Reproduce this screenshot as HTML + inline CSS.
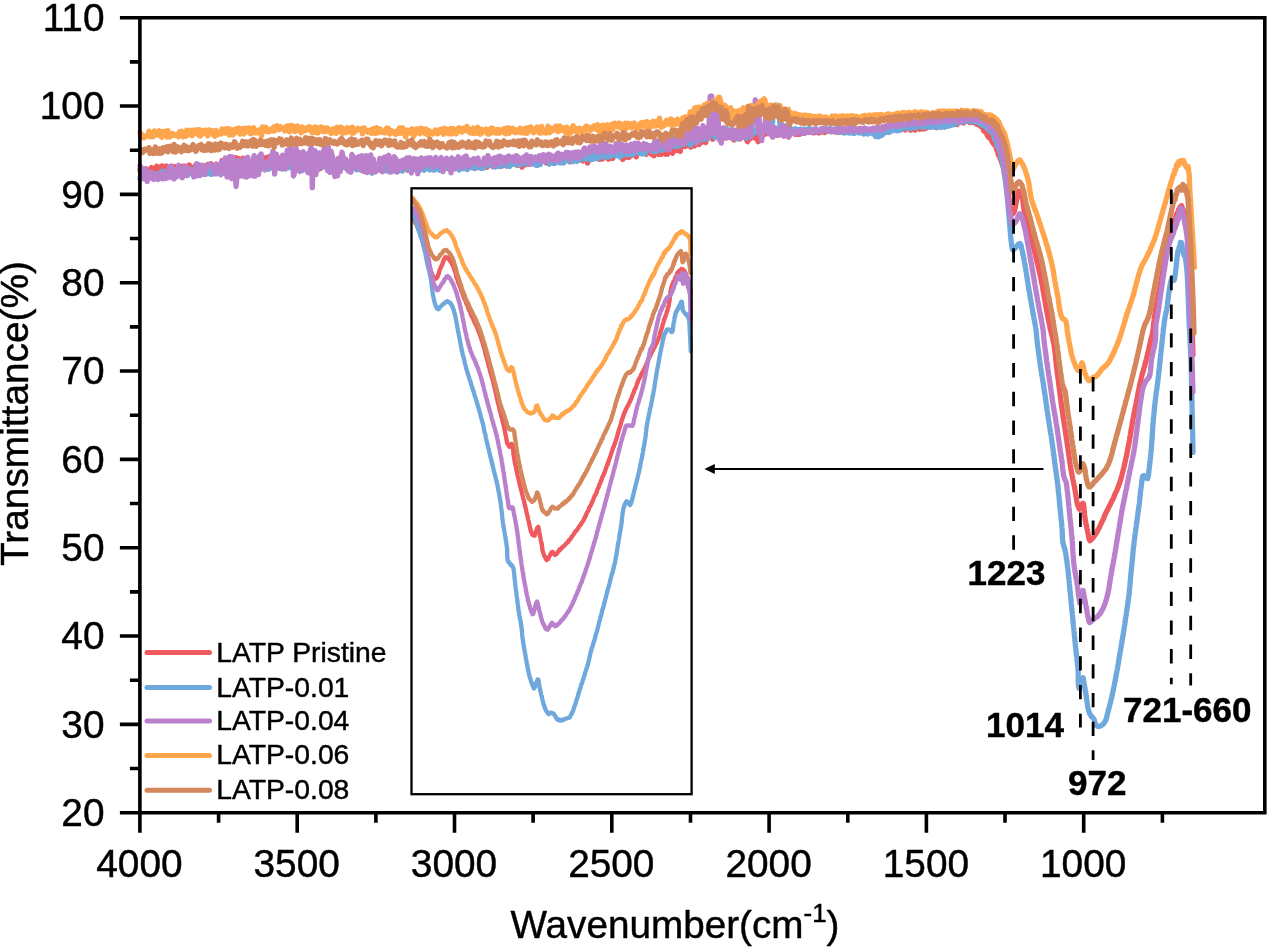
<!DOCTYPE html>
<html><head><meta charset="utf-8"><title>FTIR</title>
<style>html,body{margin:0;padding:0;background:#fff}svg{display:block}text{font-family:"Liberation Sans",Arial,sans-serif;fill:#000;stroke:#000;stroke-width:0.45px;stroke-linejoin:round}</style></head><body>
<svg width="1267" height="947" viewBox="0 0 1267 947">
<rect width="1267" height="947" fill="#fff"/>
<g fill="none" stroke-width="5.3" stroke-linejoin="round" stroke-linecap="round">
<path stroke="#ee5a5e" d="M140.0,169.9 140.9,174.9 141.8,172.2 142.7,174.1 143.5,175.8 144.4,172.4 145.3,172.0 146.2,168.6 147.1,169.9 148.0,171.4 148.8,173.6 149.7,173.3 150.6,170.0 151.5,167.5 152.4,169.0 153.3,173.4 154.1,168.1 155.0,169.6 155.9,173.0 156.8,166.1 157.7,170.2 158.6,172.6 159.4,167.1 160.3,169.3 161.2,171.8 162.1,165.9 163.0,168.6 163.9,170.1 164.7,169.3 165.6,167.8 166.5,165.9 167.4,168.0 168.3,167.2 169.2,168.0 170.1,167.2 171.0,172.7 172.0,170.2 172.9,166.8 173.8,168.8 174.7,166.6 175.6,168.0 176.5,167.2 177.4,169.5 178.3,167.4 179.2,168.1 180.1,170.1 181.0,167.8 181.9,171.5 182.8,166.1 183.7,170.3 184.6,168.0 185.5,168.0 186.4,169.6 187.3,168.8 188.2,168.0 189.1,165.0 190.0,165.7 190.9,170.3 191.8,168.9 192.7,170.2 193.6,172.2 194.5,170.2 195.4,165.6 196.3,167.5 197.2,169.6 198.1,167.0 199.0,172.4 199.9,172.3 200.8,171.4 201.6,168.3 202.5,171.0 203.4,165.5 204.3,166.6 205.2,167.5 206.0,169.4 206.9,167.3 207.8,164.5 208.7,165.9 209.5,165.5 210.4,165.1 211.3,163.9 212.2,165.6 213.1,165.6 213.9,167.8 214.8,167.8 215.7,165.6 216.6,164.9 217.5,167.1 218.3,167.7 219.2,165.9 220.1,166.6 221.0,167.5 221.9,160.6 222.7,166.6 223.6,162.0 224.5,163.2 225.4,165.4 226.2,164.6 227.1,160.2 228.0,163.8 228.9,159.2 229.8,161.1 230.6,164.3 231.5,161.3 232.4,162.3 233.3,163.1 234.2,163.6 235.0,162.9 235.9,157.6 236.8,160.9 237.6,161.4 238.5,158.6 239.4,162.7 240.3,163.2 241.1,165.1 242.0,166.1 242.9,158.1 243.7,161.3 244.6,164.7 245.5,161.1 246.4,162.0 247.2,164.8 248.1,162.0 249.0,166.8 249.8,167.6 250.7,161.4 251.6,164.8 252.5,166.6 253.3,167.7 254.2,162.3 255.1,161.3 256.0,168.5 256.8,166.3 257.7,160.8 258.6,162.4 259.5,164.3 260.3,165.0 261.2,159.7 262.1,163.2 263.0,164.0 263.8,161.9 264.7,158.8 265.6,157.7 266.5,159.3 267.3,162.9 268.2,157.1 269.1,156.6 269.9,159.0 270.8,156.8 271.7,157.5 272.6,156.6 273.6,160.3 274.5,161.6 275.4,159.6 276.3,157.5 277.2,159.0 278.1,160.9 279.0,163.6 279.9,164.0 280.8,158.4 281.7,156.8 282.6,162.9 283.5,163.6 284.4,160.2 285.3,162.5 286.2,163.2 287.1,161.4 288.0,163.4 288.9,157.1 289.8,159.0 290.7,159.0 291.6,157.9 292.5,166.2 293.4,157.3 294.3,162.1 295.2,157.7 296.1,159.8 297.0,159.8 297.9,158.6 298.8,161.1 299.7,161.2 300.6,159.7 301.5,162.9 302.4,158.7 303.3,159.0 304.2,160.3 305.1,160.5 306.0,159.3 306.9,164.6 307.8,164.0 308.7,158.8 309.6,160.8 310.5,159.9 311.4,161.5 312.3,160.3 313.2,162.1 314.1,165.3 315.0,161.3 315.8,163.4 316.7,163.0 317.6,164.3 318.5,159.2 319.4,164.4 320.3,168.6 321.2,163.5 322.1,161.2 323.0,164.1 323.9,164.5 324.8,164.1 325.7,160.4 326.6,166.6 327.5,166.6 328.4,162.7 329.3,164.0 330.2,160.0 331.1,167.1 332.0,165.9 332.9,164.6 333.8,165.6 334.7,161.5 335.6,162.4 336.5,162.0 337.4,164.7 338.3,158.6 339.2,167.1 340.1,163.9 341.0,163.9 341.9,161.4 342.8,165.8 343.7,166.8 344.6,165.5 345.5,162.7 346.4,166.8 347.3,162.2 348.2,167.3 349.1,165.5 350.0,163.4 350.9,165.1 351.8,166.0 352.7,163.3 353.6,167.7 354.5,164.6 355.4,168.1 356.3,167.7 357.2,162.3 358.1,166.4 359.0,164.0 359.9,167.3 360.8,165.7 361.7,165.2 362.6,170.8 363.5,162.3 364.4,166.0 365.3,164.3 366.2,162.2 367.1,167.6 368.0,166.2 368.9,168.7 369.8,166.5 370.7,164.6 371.6,169.5 372.5,163.1 373.4,162.6 374.3,167.7 375.2,165.1 376.1,165.0 377.0,168.9 377.9,164.8 378.8,169.0 379.7,167.3 380.6,165.0 381.5,163.0 382.4,164.4 383.3,169.8 384.2,165.7 385.1,163.9 386.0,164.9 386.9,169.4 387.8,164.0 388.7,168.6 389.6,163.9 390.5,170.0 391.4,166.9 392.3,163.3 393.2,169.9 394.1,165.7 395.0,168.5 395.9,167.0 396.8,163.9 397.7,164.0 398.6,164.3 399.5,164.5 400.4,163.7 401.3,163.6 402.2,170.3 403.1,163.9 404.0,167.0 404.9,164.1 405.8,164.8 406.7,168.8 407.6,170.1 408.5,166.6 409.4,163.2 410.3,170.5 411.2,163.4 412.1,165.9 413.0,167.0 413.9,169.6 414.8,169.1 415.7,167.5 416.6,165.9 417.5,169.1 418.5,169.4 419.4,169.4 420.3,168.2 421.2,163.6 422.1,165.1 423.0,166.4 423.9,166.6 424.8,169.0 425.7,164.5 426.6,167.7 427.5,165.5 428.4,168.5 429.3,164.2 430.2,166.2 431.1,163.4 432.0,164.2 432.9,169.6 433.8,165.0 434.7,169.2 435.6,166.5 436.5,162.9 437.4,168.4 438.3,162.9 439.2,168.6 440.1,162.6 441.0,168.5 441.9,163.7 442.8,165.0 443.7,169.5 444.6,166.0 445.5,168.2 446.4,167.9 447.3,160.9 448.2,168.5 449.1,169.1 450.0,163.5 450.9,166.3 451.8,164.3 452.7,167.6 453.6,162.3 454.5,165.8 455.4,167.8 456.3,167.4 457.2,162.7 458.1,168.0 459.0,163.5 459.9,167.7 460.8,165.3 461.7,162.8 462.6,167.0 463.5,167.5 464.4,166.6 465.3,168.5 466.2,161.8 467.1,163.0 468.0,162.3 468.9,165.2 469.8,164.1 470.7,163.7 471.6,164.4 472.5,163.0 473.4,160.9 474.3,164.3 475.2,162.8 476.1,164.1 477.0,167.6 477.9,162.0 478.8,165.3 479.7,165.3 480.6,162.5 481.5,163.9 482.4,167.5 483.3,162.8 484.2,165.5 485.1,166.4 486.0,162.8 486.9,167.4 487.8,165.4 488.7,163.7 489.6,165.2 490.5,163.0 491.4,165.1 492.3,161.8 493.2,166.6 494.1,163.7 495.0,161.4 495.9,162.8 496.8,166.1 497.7,165.4 498.6,163.0 499.5,161.9 500.4,162.1 501.3,166.5 502.2,160.0 503.1,165.7 504.0,165.4 504.9,160.7 505.8,161.5 506.7,163.1 507.6,164.8 508.5,165.8 509.4,166.1 510.3,160.8 511.2,158.2 512.1,162.2 513.0,162.6 513.9,163.3 514.8,159.2 515.7,163.1 516.6,165.1 517.5,165.0 518.4,165.2 519.3,165.0 520.2,165.2 521.1,158.4 522.0,167.2 522.9,159.9 523.8,160.2 524.7,161.2 525.6,164.8 526.5,162.2 527.4,160.3 528.3,160.4 529.2,164.2 530.1,163.6 531.0,158.5 531.9,159.2 532.8,160.1 533.7,158.9 534.6,161.8 535.5,158.8 536.4,161.4 537.3,164.0 538.2,163.3 539.1,157.7 540.0,158.4 540.9,159.9 541.8,161.6 542.7,159.6 543.6,158.5 544.5,159.2 545.4,158.1 546.3,162.9 547.2,161.6 548.1,159.5 549.0,161.5 549.9,160.2 550.8,160.1 551.7,158.9 552.6,159.6 553.5,163.3 554.4,161.8 555.3,162.0 556.2,156.7 557.1,159.5 557.9,158.4 558.8,156.3 559.7,158.4 560.6,156.0 561.5,157.1 562.4,161.2 563.3,160.3 564.2,160.3 565.1,155.7 566.0,156.2 566.9,155.1 567.8,155.6 568.7,155.6 569.6,161.8 570.5,161.3 571.4,156.1 572.3,156.4 573.2,161.6 574.1,158.6 575.0,157.0 575.9,157.7 576.8,156.2 577.7,158.4 578.6,159.4 579.5,157.8 580.4,159.9 581.3,154.6 582.2,158.2 583.1,161.0 584.0,154.7 584.9,157.2 585.8,158.1 586.7,155.9 587.6,163.2 588.5,156.8 589.4,156.7 590.3,159.8 591.2,153.1 592.1,159.4 593.0,153.8 593.9,155.6 594.8,156.3 595.7,156.2 596.6,152.9 597.5,154.8 598.4,155.1 599.3,159.4 600.2,159.1 601.1,156.6 602.0,159.1 602.9,158.5 603.8,154.9 604.7,152.9 605.6,156.5 606.5,154.3 607.4,151.9 608.3,159.1 609.2,158.9 610.1,155.7 611.0,156.2 611.9,156.5 612.8,158.4 613.7,154.9 614.6,155.7 615.5,153.0 616.4,153.1 617.3,155.1 618.2,152.9 619.1,151.4 620.0,153.8 620.9,156.6 621.8,153.0 622.7,159.5 623.6,156.1 624.5,155.7 625.4,157.4 626.3,151.3 627.2,152.0 628.1,157.3 629.0,157.3 629.9,151.1 630.8,156.2 631.7,150.5 632.6,151.3 633.5,151.1 634.4,152.4 635.3,153.1 636.2,156.9 637.1,153.3 638.0,150.9 638.9,152.0 639.8,150.0 640.7,150.1 641.6,153.0 642.5,153.5 643.4,151.5 644.3,152.5 645.2,150.4 646.1,154.4 647.0,152.4 647.9,150.6 648.8,153.1 649.7,150.9 650.6,151.4 651.4,150.0 652.3,154.7 653.2,150.9 654.1,155.8 655.0,151.5 655.9,149.6 656.8,153.5 657.7,153.6 658.6,154.5 659.5,148.9 660.4,153.6 661.3,154.2 662.2,150.1 663.1,151.2 664.0,152.4 664.9,149.6 665.8,154.2 666.7,153.0 667.6,154.1 668.5,151.0 669.3,151.2 670.1,148.5 671.0,149.1 671.8,151.8 672.7,153.2 673.5,146.9 674.4,145.9 675.2,145.7 676.1,148.1 676.9,150.5 677.8,146.0 678.6,147.5 679.5,147.5 680.3,151.5 681.1,144.2 681.9,142.6 682.7,145.9 683.5,144.4 684.3,143.5 685.2,146.6 686.0,145.6 686.8,140.7 687.6,143.8 688.4,145.2 689.2,145.6 690.0,138.5 690.9,147.1 691.8,138.0 692.7,143.7 693.6,142.8 694.5,146.0 695.4,143.0 696.3,137.9 697.2,143.2 698.1,139.4 699.0,144.6 699.9,137.3 700.7,139.6 701.6,142.5 702.4,137.4 703.2,141.5 704.1,141.6 704.9,141.6 705.7,142.6 706.6,138.1 707.4,135.3 708.3,136.0 709.1,136.1 709.9,136.9 710.7,137.3 711.4,135.9 712.1,135.3 712.8,139.2 713.5,137.5 714.2,132.0 714.9,132.2 715.6,136.1 716.3,132.7 717.1,131.7 717.8,131.4 718.5,131.4 719.2,129.9 720.0,131.7 720.8,132.1 721.6,129.1 722.3,135.1 723.1,129.0 723.9,132.5 724.7,134.4 725.5,131.9 726.3,138.0 727.1,136.6 728.0,132.0 728.9,132.2 729.7,131.6 730.6,136.5 731.5,133.3 732.3,136.7 733.2,139.4 734.1,139.9 735.0,133.0 735.9,135.0 736.8,135.8 737.7,135.5 738.6,135.8 739.5,136.1 740.4,138.8 741.3,134.7 742.2,135.1 743.1,135.5 744.0,133.4 744.9,137.7 745.8,135.6 746.7,140.2 747.6,141.7 748.5,134.0 749.4,134.0 750.3,138.7 751.2,136.6 752.1,131.5 753.0,136.9 753.9,134.7 754.8,138.1 755.7,137.6 756.6,139.1 757.5,136.9 758.3,141.7 759.2,132.9 760.1,133.2 761.0,130.5 761.9,137.6 762.8,133.7 763.7,134.1 764.6,133.9 765.4,134.1 766.3,132.5 767.2,130.2 768.1,132.2 769.0,129.0 769.9,131.1 770.8,133.9 771.7,128.6 772.5,136.9 773.4,132.6 774.3,130.3 775.2,135.0 776.1,128.6 777.0,130.1 777.9,135.5 778.8,129.2 779.7,133.8 780.6,128.0 781.5,132.2 782.4,133.4 783.2,129.4 784.1,130.6 785.0,132.7 785.9,133.2 786.8,126.8 787.7,131.7 788.6,137.1 789.5,131.1 790.4,134.0 791.3,131.7 792.2,132.8 793.1,133.2 794.0,133.6 794.9,134.2 795.8,134.4 796.7,133.9 797.6,134.3 798.5,134.5 799.4,132.0 800.3,134.0 801.2,132.6 802.1,131.4 803.0,131.0 803.9,133.3 804.7,132.7 805.6,130.2 806.5,132.4 807.4,130.0 808.3,131.4 809.2,132.1 810.1,132.4 811.0,130.2 811.9,129.7 812.8,131.8 813.7,132.8 814.6,132.6 815.5,130.7 816.4,131.6 817.3,132.1 818.2,132.7 819.1,131.0 820.0,132.6 820.9,130.2 821.8,129.8 822.7,130.1 823.6,131.9 824.5,132.5 825.4,130.8 826.3,131.7 827.2,129.4 828.1,130.9 829.0,130.6 829.9,130.5 830.8,129.5 831.7,131.3 832.6,131.5 833.5,131.3 834.4,131.8 835.3,130.6 836.2,132.2 837.2,131.0 838.1,132.3 839.0,130.3 839.9,132.2 840.8,129.4 841.7,128.9 842.6,132.4 843.5,130.1 844.4,128.7 845.3,131.1 846.2,132.4 847.1,131.7 848.0,132.6 848.9,132.3 849.8,130.3 850.7,129.4 851.6,128.7 852.5,129.5 853.4,131.1 854.3,132.2 855.2,128.4 856.1,131.8 857.0,131.6 857.9,131.3 858.8,128.9 859.7,128.6 860.6,131.5 861.5,131.6 862.4,130.0 863.3,129.9 864.2,128.5 865.1,132.6 866.0,131.9 866.9,132.5 867.8,131.8 868.7,130.3 869.6,131.9 870.5,129.2 871.4,131.2 872.3,129.4 873.2,130.0 874.1,132.1 875.0,130.2 875.9,132.2 876.8,130.9 877.7,129.6 878.6,129.5 879.5,128.4 880.4,130.8 881.3,131.9 882.2,129.3 883.1,130.4 884.0,132.5 884.9,130.1 885.8,132.1 886.7,131.4 887.5,129.7 888.4,130.1 889.3,127.4 890.1,129.1 891.0,129.9 891.8,127.4 892.7,126.4 893.6,126.0 894.4,126.3 895.3,126.5 896.2,128.9 897.1,127.5 898.0,127.9 898.9,127.0 899.8,126.9 900.7,128.0 901.6,128.9 902.5,126.6 903.4,127.7 904.3,128.6 905.2,129.9 906.1,127.1 907.0,127.6 907.9,128.4 908.8,126.6 909.7,128.6 910.6,130.2 911.5,127.3 912.4,128.2 913.3,126.7 914.2,128.2 915.1,130.1 916.0,128.2 916.9,126.7 917.8,127.0 918.7,128.2 919.6,129.1 920.5,127.3 921.4,127.4 922.3,128.6 923.2,125.6 924.1,129.0 925.0,126.9 925.9,126.3 926.8,128.0 927.7,125.8 928.6,125.2 929.5,125.6 930.4,127.2 931.3,124.7 932.2,126.1 933.1,125.1 934.0,126.3 934.9,124.5 935.7,127.1 936.6,127.6 937.5,125.0 938.4,125.1 939.3,126.0 940.2,126.5 941.1,123.5 942.0,125.9 942.9,126.4 943.8,126.1 944.7,124.5 945.6,126.0 946.5,124.7 947.4,123.0 948.2,123.3 949.1,124.4 950.0,124.1 950.9,125.0 951.8,124.5 952.7,122.3 953.6,122.9 954.5,124.4 955.4,122.9 956.3,121.7 957.1,124.6 958.0,122.4 958.9,121.7 959.8,122.4 960.7,121.4 961.6,121.1 962.5,122.6 963.4,123.0 964.3,121.2 965.2,120.1 966.1,121.4 967.0,121.1 967.9,121.2 968.8,120.4 969.7,122.6 970.6,120.2 971.5,119.6 972.4,122.3 973.3,122.5 974.2,120.4 975.1,120.2 975.8,122.4 976.6,124.3 977.3,122.0 978.1,123.7 978.8,123.0 979.6,125.5 980.3,125.0 980.8,125.3 981.4,127.1 982.0,127.3 982.6,126.6 983.2,128.2 983.8,131.1 984.4,131.1 985.0,130.6 985.5,132.0 986.0,130.5 986.5,132.4 987.1,135.1 987.6,132.9 988.1,137.0 988.6,137.1 989.2,137.8 989.7,136.6 990.2,136.2 990.7,137.8 991.3,140.4 991.8,139.7 992.3,142.1 992.9,140.3 993.4,143.6 993.9,144.5 994.4,144.7 995.0,143.2 995.3,143.2 995.6,144.3 996.0,145.1 996.3,148.8 996.7,148.6 997.0,150.6 997.3,149.4 997.7,150.5 998.0,153.6 998.3,154.9 998.7,152.0 999.0,155.7 999.3,155.6 999.7,154.1 1000.0,157.5 1003.0,166.0 1003.2,167.0 1003.4,167.7 1003.6,169.1 1003.8,170.3 1004.0,170.8 1004.2,171.9 1004.4,172.8 1004.6,174.2 1004.8,175.1 1005.0,176.2 1005.2,176.7 1005.4,177.7 1005.5,178.5 1005.7,179.5 1005.9,181.1 1006.1,181.8 1006.3,182.7 1006.5,183.5 1006.7,185.0 1006.9,185.3 1007.1,186.7 1007.3,187.6 1007.5,188.7 1007.6,189.7 1007.8,190.6 1008.0,191.4 1008.2,192.4 1008.4,193.8 1008.5,194.5 1008.7,195.8 1008.9,197.4 1009.0,198.7 1009.2,199.8 1009.3,200.7 1009.5,202.5 1009.7,203.9 1009.8,204.8 1010.0,205.9 1010.1,207.0 1010.3,208.3 1010.4,209.1 1010.6,210.0 1010.8,211.5 1011.0,211.9 1011.2,212.6 1011.4,213.0 1011.6,213.2 1011.8,213.5 1012.0,213.7 1012.6,214.0 1013.3,213.3 1014.0,212.3 1014.2,211.8 1014.5,210.6 1014.7,209.7 1014.9,209.2 1015.2,207.9 1015.4,207.2 1015.6,205.7 1015.8,204.4 1016.1,203.1 1016.3,201.8 1016.5,200.6 1016.7,199.1 1016.9,198.4 1017.2,197.1 1017.4,196.0 1017.6,195.1 1017.8,193.9 1018.1,193.3 1018.3,192.5 1018.5,191.8 1018.8,191.2 1019.0,191.4 1019.4,191.6 1019.9,192.2 1020.3,193.0 1020.8,193.8 1021.2,194.5 1021.6,195.6 1022.0,197.3 1022.2,198.0 1022.4,198.4 1022.6,199.0 1022.8,200.0 1022.9,200.9 1023.1,202.4 1023.2,203.1 1023.3,204.1 1023.4,205.4 1023.5,206.0 1023.7,207.3 1023.8,208.4 1023.9,209.3 1024.1,210.1 1024.2,211.3 1024.4,212.0 1024.6,213.1 1024.8,214.1 1025.1,214.9 1025.3,216.4 1025.6,217.2 1025.9,218.3 1026.2,219.2 1026.5,219.6 1026.8,220.4 1027.1,222.0 1027.4,222.5 1027.7,223.6 1027.9,224.7 1028.2,225.3 1028.5,226.5 1028.7,227.2 1029.0,228.0 1029.2,228.8 1029.4,229.9 1029.6,230.8 1029.9,232.1 1030.1,232.9 1030.3,234.1 1030.5,234.7 1030.7,235.6 1031.0,236.8 1031.2,237.6 1031.4,238.9 1031.6,239.6 1031.8,240.5 1032.1,241.8 1032.3,242.3 1032.5,243.7 1032.7,244.4 1033.0,245.1 1033.2,246.4 1033.4,247.3 1033.7,247.9 1033.9,249.1 1034.1,250.0 1034.4,251.1 1034.6,251.7 1034.9,252.9 1035.1,254.1 1035.3,254.4 1035.6,255.8 1035.8,256.5 1036.0,257.5 1036.3,258.3 1036.5,259.4 1036.7,260.3 1036.9,261.6 1037.2,262.5 1037.4,263.5 1037.6,264.5 1037.9,265.1 1038.1,266.3 1038.3,267.3 1038.5,267.8 1038.7,269.2 1039.0,270.0 1039.2,270.7 1039.4,272.0 1039.6,273.0 1039.8,273.9 1040.0,274.3 1040.2,275.9 1040.4,276.4 1040.6,277.7 1040.8,278.2 1041.0,279.5 1041.2,280.0 1041.4,281.3 1041.6,282.3 1041.8,283.0 1041.9,284.2 1042.1,284.9 1042.3,285.6 1042.5,286.5 1042.6,287.5 1042.8,288.6 1043.0,290.0 1043.2,290.5 1043.3,291.7 1043.5,292.5 1043.6,293.4 1043.8,294.3 1043.9,294.9 1044.1,296.3 1044.2,296.9 1044.4,298.2 1044.5,298.5 1044.7,299.5 1044.9,300.4 1045.0,301.8 1045.2,302.3 1045.4,303.5 1045.5,304.5 1045.7,305.5 1045.9,306.3 1046.0,307.6 1046.2,308.3 1046.4,309.0 1046.6,310.3 1046.8,310.9 1046.9,312.3 1047.1,312.9 1047.3,314.4 1047.5,314.8 1047.7,316.0 1047.9,316.9 1048.1,318.1 1048.3,319.0 1048.5,320.0 1048.7,321.0 1048.9,322.1 1049.1,322.9 1049.3,323.9 1049.5,324.8 1049.7,325.7 1049.9,327.0 1050.1,328.1 1050.3,329.0 1050.6,330.0 1050.8,330.3 1051.0,331.7 1051.2,332.2 1051.5,333.6 1051.7,334.6 1051.9,335.3 1052.2,336.6 1052.4,337.1 1052.6,338.2 1052.8,339.0 1053.0,340.3 1053.2,341.1 1053.4,342.0 1053.6,342.9 1053.8,344.2 1054.0,344.7 1054.2,346.0 1054.3,346.6 1054.4,347.6 1054.6,348.5 1054.7,349.8 1054.8,351.0 1055.0,351.5 1055.1,352.4 1055.2,353.7 1055.3,354.4 1055.4,355.6 1055.5,356.7 1055.6,357.4 1055.7,359.0 1055.8,359.7 1055.9,360.8 1056.0,361.5 1056.1,363.1 1056.2,363.6 1056.3,364.8 1056.4,365.5 1056.5,366.6 1056.7,367.5 1056.8,368.7 1056.9,369.4 1057.0,370.7 1057.1,371.8 1057.3,372.5 1057.4,374.0 1057.5,374.5 1057.7,375.9 1057.8,377.1 1057.9,378.0 1058.1,378.6 1058.2,379.6 1058.3,380.6 1058.5,381.7 1058.6,383.0 1058.7,384.3 1058.9,384.9 1059.0,386.2 1059.1,386.8 1059.3,388.2 1059.4,388.8 1059.5,389.6 1059.6,390.5 1059.8,391.4 1059.9,392.3 1060.0,393.8 1060.1,394.7 1060.3,395.3 1060.4,396.6 1060.5,397.4 1060.6,398.1 1060.8,399.7 1060.9,400.1 1061.0,401.2 1061.1,402.0 1061.2,403.0 1061.3,404.2 1061.5,405.0 1061.6,405.6 1061.7,406.9 1061.9,407.7 1062.0,408.5 1062.1,409.6 1062.3,410.3 1062.4,411.7 1062.5,412.2 1062.7,413.1 1062.8,414.5 1062.9,415.0 1063.1,416.4 1063.2,417.5 1063.4,418.3 1063.5,419.5 1063.7,420.0 1063.8,421.1 1064.0,422.2 1064.1,422.9 1064.3,424.5 1064.4,425.2 1064.6,426.2 1064.7,427.1 1064.9,428.0 1065.0,428.8 1065.1,429.7 1065.3,430.7 1065.4,431.5 1065.6,432.9 1065.7,433.5 1065.9,435.0 1066.0,435.4 1066.1,436.5 1066.3,437.8 1066.4,438.6 1066.6,439.4 1066.7,440.6 1066.9,441.3 1067.0,442.1 1067.1,443.6 1067.3,444.5 1067.4,445.3 1067.6,446.0 1067.7,447.1 1067.9,447.8 1068.0,448.7 1068.1,450.3 1068.3,450.9 1068.4,451.7 1068.6,453.1 1068.7,453.9 1068.8,455.0 1069.0,455.6 1069.1,456.8 1069.2,457.8 1069.4,458.7 1069.5,459.6 1069.6,461.0 1069.8,461.9 1069.9,462.8 1070.1,463.6 1070.2,464.8 1070.4,465.6 1070.5,466.3 1070.7,467.7 1070.8,468.7 1071.0,469.9 1071.2,470.8 1071.3,471.3 1071.5,472.4 1071.7,473.2 1071.9,474.2 1072.1,475.5 1072.3,476.3 1072.5,477.2 1072.7,478.6 1072.9,479.8 1073.1,480.7 1073.3,481.1 1073.5,482.3 1073.7,483.1 1073.9,484.3 1074.1,485.6 1074.3,486.1 1074.5,487.4 1074.6,488.2 1074.8,489.1 1075.0,490.2 1075.2,490.9 1075.4,491.9 1075.5,493.3 1075.7,493.9 1075.9,495.0 1076.0,496.3 1076.2,497.3 1076.3,498.3 1076.5,499.3 1076.7,500.7 1076.8,501.3 1077.0,502.2 1077.2,503.4 1077.4,504.2 1077.6,504.9 1077.8,505.7 1078.0,505.7 1078.5,507.1 1079.0,508.3 1079.5,509.1 1080.0,508.8 1080.4,508.8 1080.9,507.7 1081.3,506.8 1081.6,506.0 1082.0,505.2 1082.4,503.8 1082.7,503.2 1083.0,503.3 1083.2,503.3 1083.4,503.9 1083.6,504.6 1083.7,505.8 1083.9,506.8 1084.0,507.7 1084.1,508.7 1084.2,509.8 1084.3,510.6 1084.4,511.6 1084.5,512.5 1084.5,513.5 1084.6,514.9 1084.7,515.9 1084.9,517.0 1085.0,517.6 1085.1,518.8 1085.3,519.8 1085.4,520.4 1085.6,521.5 1085.8,522.7 1086.0,523.6 1086.2,524.7 1086.4,525.2 1086.6,526.2 1086.8,527.7 1087.0,528.6 1087.2,529.3 1087.4,530.1 1087.6,531.1 1087.8,532.3 1088.0,532.9 1088.2,534.3 1088.4,535.1 1088.6,536.7 1088.8,537.4 1089.0,539.0 1089.3,539.4 1089.6,539.8 1089.9,540.7 1090.5,540.2 1091.3,539.7 1092.0,538.8 1092.5,538.3 1093.0,537.8 1093.5,537.1 1094.0,536.6 1094.5,535.6 1094.9,535.1 1095.4,534.1 1095.8,533.7 1096.3,533.0 1096.8,532.3 1097.3,531.3 1097.8,530.0 1098.3,529.2 1098.8,528.6 1099.3,527.6 1099.8,526.2 1100.2,525.4 1100.6,524.8 1101.0,523.9 1101.4,522.8 1101.8,522.0 1102.3,521.2 1102.7,520.6 1103.1,519.2 1103.5,518.7 1103.9,517.8 1104.3,516.4 1104.7,515.9 1105.1,514.4 1105.6,513.7 1106.0,512.6 1106.4,511.9 1106.8,510.9 1107.3,510.4 1107.7,509.6 1108.2,508.3 1108.6,507.5 1109.0,507.1 1109.5,505.6 1109.9,505.0 1110.4,504.2 1110.8,503.4 1111.3,502.2 1111.7,501.4 1112.1,500.4 1112.6,499.9 1113.0,499.0 1113.4,498.2 1113.8,497.1 1114.2,495.9 1114.5,495.7 1114.9,494.3 1115.3,493.5 1115.7,492.5 1116.1,491.9 1116.5,491.2 1116.8,490.5 1117.2,489.4 1117.6,488.1 1117.9,487.8 1118.3,486.4 1118.6,485.5 1119.0,484.6 1119.3,484.2 1119.6,482.9 1119.9,482.3 1120.2,481.2 1120.5,480.2 1120.8,479.5 1121.0,478.2 1121.3,477.3 1121.6,476.8 1121.8,475.6 1122.1,474.5 1122.3,473.7 1122.5,472.9 1122.8,471.9 1123.0,470.8 1123.3,469.9 1123.5,468.7 1123.7,467.9 1123.9,467.2 1124.2,466.3 1124.4,464.7 1124.6,463.9 1124.8,463.0 1125.1,462.1 1125.3,461.2 1125.5,460.2 1125.7,459.4 1125.9,458.3 1126.1,457.8 1126.3,456.3 1126.5,456.1 1126.7,454.6 1126.9,454.1 1127.0,453.0 1127.2,452.2 1127.4,451.0 1127.6,449.9 1127.8,449.1 1128.0,447.8 1128.2,447.0 1128.4,446.0 1128.6,444.9 1128.7,444.4 1128.9,443.3 1129.1,442.4 1129.2,441.6 1129.4,440.8 1129.6,439.3 1129.7,438.3 1129.9,437.3 1130.1,436.9 1130.2,435.6 1130.4,434.8 1130.5,433.4 1130.7,432.9 1130.9,431.4 1131.0,430.8 1131.2,429.3 1131.4,428.9 1131.5,427.6 1131.7,426.8 1131.9,425.8 1132.0,424.5 1132.2,423.8 1132.3,422.5 1132.5,422.1 1132.7,421.0 1132.8,419.9 1133.0,419.1 1133.2,418.1 1133.4,417.0 1133.6,416.1 1133.7,415.4 1133.9,414.3 1134.1,413.7 1134.3,412.5 1134.5,411.7 1134.7,410.3 1134.9,409.6 1135.0,408.5 1135.2,407.5 1135.4,406.7 1135.6,405.9 1135.8,404.9 1136.0,404.0 1136.2,403.0 1136.3,402.5 1136.5,401.2 1136.7,400.6 1136.9,399.7 1137.1,398.5 1137.3,397.8 1137.5,396.9 1137.6,395.8 1137.8,394.8 1138.0,393.5 1138.2,392.6 1138.4,391.5 1138.5,390.7 1138.7,390.0 1138.9,389.0 1139.1,388.3 1139.3,387.0 1139.5,386.3 1139.7,385.1 1139.9,384.1 1140.1,383.6 1140.3,382.3 1140.5,381.5 1140.7,380.4 1140.9,379.7 1141.1,378.4 1141.4,377.4 1141.6,376.9 1141.8,375.8 1142.1,375.0 1142.3,373.6 1142.6,373.2 1142.9,371.7 1143.1,371.4 1143.4,370.5 1143.6,369.4 1143.9,368.2 1144.2,367.4 1144.4,366.7 1144.7,365.6 1145.0,364.6 1145.2,363.2 1145.5,362.3 1145.7,361.8 1146.0,360.7 1146.2,359.8 1146.4,358.6 1146.7,357.7 1146.9,357.2 1147.2,355.8 1147.4,355.2 1147.6,353.6 1147.9,352.9 1148.1,351.9 1148.3,350.9 1148.6,350.0 1148.8,349.0 1149.0,348.0 1149.2,346.5 1149.5,345.6 1149.7,344.7 1149.9,343.8 1150.1,343.3 1150.3,342.3 1150.4,341.6 1150.6,340.8 1150.8,340.0 1151.1,338.8 1151.3,338.3 1151.5,337.5 1151.7,336.7 1151.9,336.0 1152.1,334.9 1152.3,334.0 1152.5,333.0 1152.6,332.2 1152.8,331.5 1152.9,330.7 1153.0,329.8 1153.1,328.7 1153.2,328.1 1153.3,326.7 1153.4,325.8 1153.5,324.9 1153.6,324.2 1153.7,322.8 1153.9,322.1 1154.0,320.9 1154.1,319.9 1154.2,318.6 1154.3,318.0 1154.4,316.7 1154.6,315.3 1154.7,314.8 1154.9,313.6 1155.0,312.8 1155.2,311.8 1155.3,311.0 1155.5,309.9 1155.7,308.8 1155.9,307.9 1156.0,306.4 1156.2,306.0 1156.4,304.9 1156.6,304.1 1156.8,303.0 1157.0,301.9 1157.2,301.1 1157.4,300.0 1157.6,298.9 1157.8,298.3 1158.0,296.9 1158.2,295.7 1158.4,294.7 1158.6,293.9 1158.8,293.0 1159.0,292.0 1159.2,290.8 1159.4,290.1 1159.5,289.5 1159.7,288.4 1159.9,287.4 1160.0,286.3 1160.2,285.6 1160.4,284.1 1160.6,283.6 1160.7,282.6 1160.9,281.4 1161.1,280.5 1161.3,279.3 1161.4,278.2 1161.6,277.5 1161.8,276.5 1161.9,275.7 1162.1,274.6 1162.3,274.0 1162.5,272.6 1162.6,272.1 1162.8,271.0 1163.0,269.8 1163.2,269.3 1163.4,268.1 1163.6,266.8 1163.7,266.4 1163.9,265.0 1164.1,264.2 1164.3,263.3 1164.5,262.4 1164.7,261.4 1164.9,260.5 1165.1,259.5 1165.3,258.2 1165.4,257.5 1165.6,256.5 1165.8,255.3 1166.0,254.6 1166.2,253.9 1166.4,252.7 1166.6,251.8 1166.8,250.9 1167.0,250.0 1167.2,249.2 1167.4,248.3 1167.6,246.9 1167.9,245.9 1168.1,245.0 1168.3,244.4 1168.5,243.5 1168.7,242.1 1168.9,241.5 1169.2,240.3 1169.4,239.7 1169.6,238.5 1169.8,237.8 1170.1,236.6 1170.3,235.6 1170.5,235.0 1170.8,233.8 1171.0,233.2 1171.3,232.0 1171.6,230.9 1171.8,230.0 1172.1,229.4 1172.4,228.0 1172.7,226.9 1173.0,226.5 1173.3,225.0 1173.6,224.2 1173.9,223.4 1174.2,223.9 1174.4,220.9 1174.7,221.6 1175.0,220.2 1175.3,220.8 1175.6,217.6 1175.9,218.5 1176.2,215.0 1176.5,216.1 1176.7,214.3 1177.0,213.4 1177.3,213.7 1177.7,212.5 1178.0,211.3 1178.5,209.7 1179.0,210.2 1179.5,208.2 1180.0,207.0 1180.5,207.0 1181.0,207.9 1181.5,205.6 1182.0,207.2 1182.6,209.3 1183.1,209.5 1183.6,210.2 1184.0,210.8 1184.3,211.0 1184.5,212.6 1184.7,214.1 1184.9,213.6 1185.1,216.3 1185.3,216.5 1185.5,217.1 1185.7,219.0 1185.8,218.4 1186.0,221.4 1186.2,220.9 1186.3,221.1 1186.4,225.2 1186.6,224.9 1186.7,226.9 1186.9,225.9 1187.0,227.2 1187.1,228.5 1187.2,229.3 1187.3,230.6 1187.4,231.5 1187.4,232.3 1187.5,233.1 1187.6,234.1 1187.7,235.1 1187.7,236.0 1187.8,236.5 1187.9,237.7 1187.9,238.6 1188.0,239.7 1188.0,240.6 1188.1,241.3 1188.1,242.8 1188.2,243.6 1188.2,244.9 1188.3,245.3 1188.3,246.4 1188.4,247.4 1188.4,248.9 1188.5,249.7 1188.5,250.9 1188.6,251.5 1188.6,253.0 1188.7,253.5 1188.7,255.1 1188.8,255.9 1188.8,257.2 1188.9,258.0 1188.9,259.0 1189.0,259.8 1189.1,261.0 1189.1,262.0 1189.2,262.8 1189.2,263.8 1189.3,264.9 1189.3,265.7 1189.4,266.6 1189.4,267.4 1189.5,268.3 1189.5,269.5 1189.6,270.5 1189.6,271.3 1189.7,271.9 1189.7,272.9 1189.8,274.1 1189.8,275.0 1189.9,276.2 1189.9,277.2 1190.0,278.1 1190.0,278.9 1190.1,280.0 1190.1,281.0 1190.2,281.5 1190.2,282.6 1190.3,283.4 1190.3,284.8 1190.3,286.0 1190.4,286.3 1190.4,287.4 1190.5,288.5 1190.5,289.9 1190.6,290.6 1190.6,291.5 1190.7,292.7 1190.7,293.6 1190.8,294.6 1190.8,295.9 1190.9,297.0 1190.9,297.7 1191.0,299.0 1191.0,299.7 1191.0,301.2 1191.1,301.5 1191.1,302.8 1191.2,304.0 1191.2,304.5 1191.2,305.4 1191.3,306.6 1191.3,307.4 1191.3,308.2 1191.4,309.3 1191.4,310.5 1191.5,311.3 1191.5,312.0 1191.5,313.3 1191.6,314.4 1191.6,314.9 1191.6,316.2 1191.7,317.0 1191.7,318.1 1191.7,318.7 1191.8,319.8 1191.8,320.9 1191.8,322.2 1191.9,322.9 1191.9,323.8 1192.0,325.1 1192.0,325.7 1192.0,326.8 1192.1,328.0 1192.1,328.9 1192.1,330.0 1192.2,331.0 1192.2,331.7 1192.2,332.7 1192.3,334.2 1192.3,334.9 1192.3,335.8 1192.4,336.7 1192.4,338.0 1192.4,339.3 1192.5,339.8 1192.5,341.4 1192.5,341.7 1192.6,343.1 1192.6,344.2 1192.6,345.1 1192.7,345.9 1192.7,346.9 1192.8,348.1 1192.8,349.3 1192.8,350.0 1192.9,350.9 1192.9,352.0 1192.9,353.4 1193.0,353.9 1193.0,354.8"/>
<path stroke="#6ea8dc" d="M140.0,178.9 140.9,172.9 141.8,176.2 142.7,177.7 143.6,174.9 144.5,175.3 145.4,178.9 146.3,175.9 147.2,176.9 148.1,176.7 149.0,178.3 149.9,174.2 150.8,175.6 151.7,173.1 152.6,173.9 153.5,177.5 154.4,178.5 155.3,173.7 156.2,176.9 157.1,175.1 158.0,176.2 158.9,173.8 159.8,173.6 160.7,172.4 161.6,174.6 162.5,171.2 163.4,177.1 164.3,172.5 165.2,175.3 166.1,174.3 167.0,173.1 167.9,177.4 168.8,176.7 169.7,175.8 170.6,171.1 171.5,173.6 172.4,175.9 173.3,170.8 174.2,175.2 175.1,176.0 176.0,176.9 176.9,173.6 177.8,170.0 178.7,171.3 179.6,175.6 180.5,170.7 181.4,174.1 182.3,174.3 183.2,172.7 184.1,175.2 185.0,170.2 185.9,173.8 186.8,172.0 187.6,175.5 188.5,172.0 189.4,170.4 190.3,171.5 191.2,172.9 192.1,169.4 193.0,175.2 193.9,173.5 194.8,171.0 195.7,173.1 196.6,175.8 197.5,172.9 198.4,171.4 199.3,173.4 200.2,173.9 201.1,173.3 202.0,169.7 202.9,165.4 203.8,170.3 204.7,171.1 205.6,174.0 206.5,168.4 207.4,173.9 208.3,168.1 209.2,169.9 210.1,170.5 211.0,174.3 211.9,174.4 212.8,167.6 213.7,168.7 214.6,170.4 215.5,169.1 216.4,174.0 217.3,171.4 218.2,169.3 219.1,171.2 220.0,171.7 220.9,173.0 221.8,173.1 222.7,169.6 223.6,172.0 224.5,173.5 225.4,170.2 226.3,171.6 227.2,169.7 228.1,168.9 229.0,167.5 229.9,166.6 230.8,168.2 231.7,168.4 232.6,169.9 233.5,170.6 234.4,170.8 235.3,171.2 236.2,169.6 237.1,169.1 238.0,169.8 238.9,170.4 239.8,171.4 240.7,165.4 241.6,171.3 242.5,166.4 243.3,165.0 244.2,170.7 245.1,166.4 246.0,170.8 246.9,167.2 247.8,167.1 248.7,170.8 249.6,169.9 250.5,164.7 251.4,171.2 252.3,165.7 253.2,169.0 254.1,170.9 255.0,170.1 255.9,167.4 256.8,170.8 257.7,168.8 258.6,165.5 259.5,170.7 260.4,167.7 261.3,165.8 262.2,166.5 263.1,164.7 264.0,167.4 264.9,167.3 265.8,164.2 266.7,166.0 267.6,164.9 268.5,169.4 269.4,164.2 270.3,167.2 271.2,167.3 272.1,167.0 273.0,165.2 273.9,164.2 274.8,162.4 275.7,163.8 276.6,168.2 277.5,164.2 278.4,166.0 279.3,164.2 280.2,162.4 281.1,164.9 282.0,169.1 282.9,164.6 283.8,164.1 284.7,165.8 285.6,164.1 286.5,163.1 287.4,164.1 288.3,167.9 289.2,162.2 290.1,162.1 291.0,166.6 291.8,162.3 292.7,161.8 293.6,162.6 294.5,167.3 295.4,167.6 296.3,167.5 297.2,162.8 298.1,167.2 299.0,160.8 299.9,163.9 300.8,164.4 301.7,163.7 302.6,170.5 303.5,166.0 304.4,164.0 305.3,165.9 306.2,166.2 307.1,161.4 308.0,163.0 308.9,163.1 309.8,167.7 310.7,167.0 311.6,163.0 312.5,168.1 313.4,161.4 314.3,163.3 315.2,162.4 316.1,164.8 317.0,167.7 317.9,166.8 318.8,158.6 319.7,162.9 320.6,166.9 321.5,163.2 322.4,167.3 323.3,165.8 324.2,166.4 325.1,166.6 326.0,166.1 326.9,162.7 327.8,167.4 328.7,165.6 329.6,166.8 330.5,161.7 331.4,162.9 332.3,165.8 333.2,167.6 334.1,164.3 335.0,167.3 335.9,161.7 336.8,162.1 337.7,166.9 338.6,169.2 339.5,164.2 340.4,164.4 341.3,164.5 342.2,166.3 343.1,164.9 344.0,164.8 344.9,167.8 345.8,162.1 346.7,168.6 347.7,167.7 348.6,169.3 349.5,168.5 350.4,168.2 351.3,164.5 352.2,168.2 353.1,166.8 354.0,165.0 354.9,168.5 355.8,166.2 356.7,169.9 357.6,167.9 358.5,169.1 359.4,169.3 360.3,167.0 361.2,169.4 362.1,167.2 363.0,166.7 363.9,170.2 364.8,168.0 365.7,168.0 366.6,170.3 367.5,167.7 368.4,163.1 369.3,168.1 370.2,167.8 371.1,168.5 372.0,173.2 372.9,168.7 373.8,170.6 374.7,169.1 375.6,170.6 376.5,166.6 377.4,165.2 378.3,167.5 379.2,170.0 380.1,169.9 381.0,168.5 381.9,166.6 382.8,165.6 383.7,163.8 384.6,166.8 385.5,167.4 386.4,171.0 387.3,168.0 388.2,168.1 389.1,167.3 390.0,164.0 390.9,166.1 391.8,168.8 392.7,169.2 393.6,171.1 394.5,167.6 395.4,169.2 396.3,170.0 397.2,169.8 398.1,165.2 399.0,170.8 399.9,169.9 400.8,169.2 401.7,165.3 402.6,171.2 403.5,169.3 404.4,165.6 405.3,168.5 406.2,165.3 407.1,164.6 408.0,169.4 408.9,169.6 409.8,167.9 410.7,165.2 411.6,166.5 412.5,164.8 413.4,165.7 414.3,164.5 415.2,168.9 416.1,169.7 417.0,167.8 417.9,168.8 418.8,165.0 419.7,170.6 420.6,168.3 421.5,164.8 422.4,167.8 423.3,167.2 424.2,170.2 425.1,169.3 426.0,164.5 426.9,168.6 427.8,164.1 428.7,167.4 429.6,169.9 430.5,165.1 431.4,168.5 432.3,166.1 433.2,164.5 434.1,170.2 435.0,168.9 435.9,165.6 436.8,163.3 437.7,166.2 438.6,168.8 439.5,170.3 440.4,167.3 441.3,163.5 442.2,163.6 443.1,165.2 444.0,169.2 444.9,164.6 445.8,167.6 446.7,163.6 447.6,165.7 448.5,168.2 449.4,168.3 450.3,163.4 451.2,164.5 452.1,163.3 453.0,165.0 453.9,165.7 454.8,168.8 455.7,163.7 456.6,164.6 457.5,166.4 458.4,168.6 459.3,170.0 460.2,163.5 461.1,166.6 462.0,167.4 462.9,165.8 463.8,168.8 464.7,163.2 465.6,166.5 466.5,167.6 467.4,169.5 468.3,162.3 469.2,167.5 470.1,164.6 471.0,167.6 471.9,166.0 472.8,167.7 473.7,163.1 474.6,168.6 475.5,164.6 476.4,167.7 477.3,163.8 478.2,162.6 479.1,164.1 480.0,166.5 480.9,168.3 481.8,165.1 482.7,163.8 483.6,168.2 484.5,166.7 485.4,164.5 486.3,166.0 487.2,163.0 488.1,164.7 489.0,163.9 489.9,162.7 490.8,161.5 491.7,162.5 492.6,166.7 493.5,166.3 494.4,163.9 495.3,167.1 496.2,161.7 497.1,165.9 498.0,166.1 498.9,160.9 499.8,166.7 500.7,166.0 501.6,163.6 502.5,163.8 503.4,164.4 504.3,163.6 505.2,157.8 506.1,163.1 507.0,166.3 507.9,163.8 508.8,161.6 509.7,166.4 510.6,162.8 511.5,161.0 512.4,164.5 513.3,160.8 514.2,164.1 515.1,164.4 516.0,160.8 516.9,161.6 517.8,163.6 518.7,160.8 519.6,165.2 520.5,164.5 521.4,160.3 522.3,163.3 523.2,163.1 524.1,161.6 525.0,163.7 525.9,161.9 526.8,162.0 527.7,161.6 528.6,162.8 529.5,158.5 530.4,162.9 531.3,159.3 532.2,160.1 533.1,164.3 534.0,159.9 534.9,162.8 535.8,160.0 536.7,165.5 537.6,165.3 538.5,160.4 539.4,164.7 540.3,164.6 541.2,159.3 542.1,159.8 543.0,159.1 543.9,159.4 544.8,161.5 545.7,161.3 546.6,160.8 547.5,158.9 548.4,161.3 549.3,164.3 550.2,159.9 551.0,162.3 551.9,158.8 552.8,162.6 553.7,161.2 554.6,163.6 555.5,157.3 556.4,162.4 557.3,159.7 558.2,159.2 559.1,158.9 560.0,163.0 560.9,158.1 561.8,160.8 562.7,156.2 563.6,163.1 564.5,161.8 565.4,160.9 566.3,159.5 567.2,158.2 568.1,158.7 569.0,160.3 569.9,159.1 570.8,161.8 571.7,157.5 572.6,161.4 573.5,157.2 574.4,155.9 575.3,155.7 576.2,156.7 577.0,161.4 577.9,160.4 578.8,159.9 579.7,156.6 580.6,155.8 581.5,156.8 582.4,159.0 583.3,155.2 584.2,157.8 585.1,156.5 586.0,159.3 586.9,158.4 587.8,154.6 588.7,155.7 589.6,159.3 590.5,159.8 591.4,156.9 592.3,159.2 593.2,154.5 594.1,155.9 595.0,158.4 595.9,152.9 596.8,156.5 597.7,158.8 598.6,154.0 599.5,152.4 600.4,157.0 601.3,157.0 602.1,152.3 603.0,154.3 603.9,154.3 604.8,152.3 605.7,157.1 606.6,153.0 607.5,157.0 608.4,156.9 609.3,151.9 610.2,156.5 611.1,151.9 612.0,155.6 612.9,151.2 613.8,154.8 614.7,153.7 615.5,154.2 616.4,155.7 617.3,155.5 618.2,150.3 619.1,151.0 620.0,157.0 620.9,152.8 621.8,155.5 622.7,153.4 623.6,155.0 624.5,149.6 625.4,152.7 626.3,154.5 627.2,151.8 628.1,153.9 629.0,154.7 629.8,154.4 630.7,149.8 631.6,154.9 632.5,152.9 633.4,149.3 634.3,153.7 635.2,149.6 636.1,150.1 637.0,150.6 637.9,151.1 638.8,148.5 639.7,153.4 640.6,153.1 641.5,149.2 642.4,154.0 643.2,147.1 644.1,147.5 645.0,153.7 645.9,148.1 646.8,147.8 647.7,146.3 648.6,148.4 649.5,146.4 650.4,150.4 651.3,145.6 652.2,148.6 653.0,151.7 653.9,149.2 654.8,147.2 655.7,145.4 656.6,151.5 657.4,144.4 658.3,147.8 659.2,146.6 660.1,149.4 661.0,147.9 661.9,150.3 662.7,150.2 663.6,148.3 664.5,146.2 665.3,146.6 666.2,149.0 667.1,147.4 668.0,147.3 668.8,148.5 669.7,144.0 670.6,147.2 671.5,146.4 672.3,143.4 673.2,146.0 674.1,140.9 674.9,140.1 675.8,146.2 676.7,146.7 677.6,142.4 678.4,141.9 679.3,140.5 680.2,145.5 681.0,140.3 681.9,142.9 682.8,143.9 683.7,141.0 684.5,144.5 685.4,139.9 686.3,142.7 687.2,138.3 688.0,140.0 688.9,141.5 689.8,138.0 690.6,145.0 691.5,143.3 692.4,137.3 693.3,138.9 694.1,134.4 695.0,137.6 695.9,139.1 696.8,135.0 697.6,142.1 698.5,134.6 699.4,137.4 700.2,132.7 701.1,135.0 702.0,139.4 702.8,135.6 703.7,139.4 704.6,138.8 705.5,135.1 706.3,132.4 707.2,138.0 708.1,138.8 708.9,132.5 709.8,134.0 710.7,134.9 711.6,134.5 712.5,132.1 713.4,131.2 714.3,134.0 715.2,137.8 716.1,133.4 717.0,134.1 717.9,133.4 718.8,133.7 719.7,133.5 720.6,134.1 721.5,130.3 722.4,136.9 723.3,138.1 724.2,133.8 725.1,133.0 726.0,136.5 726.9,128.6 727.8,130.2 728.7,136.0 729.6,134.6 730.5,135.4 731.4,130.0 732.3,137.6 733.2,135.9 734.1,131.0 735.0,137.1 735.9,138.9 736.8,132.5 737.7,138.7 738.6,138.9 739.5,137.9 740.3,134.8 741.2,134.5 742.1,133.7 743.0,137.4 743.9,131.5 744.8,134.8 745.7,135.0 746.6,138.0 747.5,137.6 748.3,133.6 749.2,134.5 750.1,135.3 751.0,133.6 751.9,131.1 752.8,129.8 753.6,133.8 754.5,132.0 755.4,130.3 756.3,130.8 757.2,127.9 758.1,132.4 759.0,127.9 759.8,128.0 760.6,133.5 761.3,126.9 761.9,131.7 762.6,129.3 763.3,128.4 764.0,128.2 764.7,127.6 765.4,127.5 766.1,130.6 766.8,125.5 767.5,124.0 768.2,125.5 768.9,120.6 769.6,123.8 770.3,119.4 770.9,120.4 771.6,124.1 772.1,123.5 772.4,120.0 772.6,123.5 772.8,115.3 773.1,115.9 773.3,117.6 773.6,115.4 773.8,116.3 774.0,110.4 774.3,115.2 774.5,109.4 774.8,109.5 775.0,107.8 775.2,111.8 775.5,104.8 775.7,112.4 775.9,105.1 776.4,105.1 777.0,106.7 777.6,108.9 778.0,107.3 778.2,112.9 778.3,113.8 778.5,113.5 778.6,116.9 778.8,116.1 778.9,112.0 779.1,113.8 779.2,116.6 779.4,116.0 779.5,117.7 779.7,119.3 779.8,122.9 780.0,121.7 780.1,125.2 780.3,124.0 780.4,119.5 780.6,132.7 780.7,122.5 780.8,125.7 781.0,123.2 781.8,128.0 782.7,129.7 783.5,126.6 784.3,132.7 785.2,126.0 786.0,133.5 786.9,132.4 787.7,127.0 788.5,126.9 789.4,126.9 790.2,131.3 791.1,129.9 792.0,132.9 792.9,129.3 793.8,133.2 794.7,130.3 795.6,128.8 796.5,131.8 797.4,131.4 798.3,129.6 799.2,129.6 800.1,129.2 801.0,129.1 801.9,130.9 802.8,130.8 803.7,129.3 804.6,129.7 805.5,132.6 806.4,129.9 807.3,130.4 808.2,129.0 809.1,128.4 810.0,130.9 810.9,129.3 811.9,131.4 812.8,129.2 813.7,129.7 814.6,130.9 815.5,131.0 816.4,129.0 817.3,131.1 818.2,130.4 819.1,131.5 820.0,131.2 820.9,131.5 821.8,129.2 822.7,128.4 823.6,128.1 824.5,129.5 825.4,129.9 826.3,129.3 827.2,128.9 828.1,130.1 829.0,129.6 829.9,128.5 830.8,131.9 831.7,130.6 832.6,129.2 833.5,129.9 834.4,131.2 835.3,128.9 836.2,130.7 837.1,131.7 838.0,128.2 838.9,130.8 839.8,132.5 840.7,131.7 841.6,130.6 842.5,128.9 843.4,132.7 844.3,133.0 845.2,132.2 846.1,129.9 847.0,131.4 847.9,132.4 848.8,131.2 849.7,133.1 850.6,131.6 851.5,127.5 852.4,130.4 853.3,133.3 854.2,133.3 855.1,133.1 856.0,130.1 856.9,130.4 857.8,131.9 858.7,129.5 859.6,133.1 860.5,131.5 861.4,132.7 862.2,132.4 863.1,131.5 864.0,134.0 864.9,131.4 865.8,132.7 866.7,132.5 867.5,133.9 868.4,134.0 869.3,133.1 870.2,132.8 871.1,132.4 872.0,131.9 872.9,133.7 873.7,132.1 874.6,133.7 875.5,136.5 876.4,135.3 877.3,134.5 878.2,136.8 879.0,136.7 879.9,135.5 880.7,133.3 881.6,135.4 882.4,134.7 883.3,133.9 884.1,132.8 885.0,131.7 885.8,131.5 886.7,132.2 887.6,131.8 888.4,131.3 889.3,132.5 890.1,129.9 891.0,129.2 891.9,129.1 892.7,130.8 893.6,128.1 894.5,129.0 895.3,128.2 896.2,127.4 897.1,131.0 898.0,128.3 898.8,130.3 899.7,128.3 900.6,130.2 901.4,126.4 902.3,127.2 903.2,126.4 904.1,128.3 904.9,125.9 905.8,127.2 906.7,125.5 907.6,124.9 908.5,128.3 909.4,127.7 910.3,127.7 911.2,128.5 912.1,127.8 913.0,124.4 913.9,125.2 914.8,125.7 915.7,127.8 916.6,123.8 917.5,126.8 918.4,123.8 919.3,124.2 920.2,124.4 921.1,125.3 922.0,127.2 922.9,127.0 923.8,124.7 924.7,127.5 925.6,123.7 926.5,123.6 927.4,125.4 928.3,124.8 929.2,127.1 930.1,123.5 931.0,127.1 931.9,124.6 932.8,126.7 933.7,123.5 934.6,127.2 935.5,126.9 936.4,125.8 937.3,126.9 938.2,126.8 939.1,127.0 940.0,126.3 940.9,127.4 941.8,125.7 942.7,126.1 943.6,125.1 944.5,127.2 945.4,123.1 946.3,126.1 947.2,123.9 948.1,126.2 949.0,123.5 949.9,124.1 950.7,125.4 951.6,124.0 952.5,124.8 953.3,124.5 954.2,122.0 955.1,124.2 955.9,121.4 956.8,122.5 957.7,122.7 958.5,121.8 959.4,121.1 960.3,120.4 961.1,122.1 962.0,122.4 962.9,119.8 963.7,121.3 964.6,119.1 965.5,121.1 966.4,119.6 967.3,119.7 968.2,121.0 969.1,120.1 970.0,119.9 970.9,119.3 971.8,121.3 972.7,119.1 973.6,120.5 974.5,118.0 975.3,121.7 976.1,122.3 976.9,119.4 977.8,120.9 978.6,119.9 979.4,121.6 980.2,123.9 981.0,123.2 981.8,121.7 982.6,125.6 983.4,124.4 984.2,122.6 985.0,124.2 985.6,124.0 986.2,127.7 986.8,126.3 987.4,127.5 988.1,129.6 988.7,129.1 989.3,127.6 989.9,128.3 990.5,129.4 991.1,132.2 991.7,132.6 992.3,132.2 992.9,132.6 993.3,132.5 993.7,133.3 994.0,136.5 994.4,139.0 994.7,137.6 995.1,139.2 995.4,139.0 995.8,138.2 996.1,137.1 996.5,143.0 996.8,144.1 997.2,145.4 997.5,143.4 997.9,146.0 998.2,146.9 998.6,147.4 998.9,148.9 999.3,150.3 999.6,147.9 1000.0,151.0 1003.0,165.1 1003.1,166.2 1003.3,167.2 1003.4,167.5 1003.6,169.0 1003.7,169.7 1003.9,170.6 1004.0,171.6 1004.1,172.6 1004.3,173.7 1004.4,174.2 1004.6,175.4 1004.7,176.4 1004.8,177.1 1005.0,177.9 1005.1,179.4 1005.2,179.8 1005.4,181.1 1005.5,182.1 1005.6,183.0 1005.7,184.2 1005.8,185.1 1006.0,185.5 1006.1,186.8 1006.2,187.8 1006.3,188.5 1006.4,189.6 1006.5,190.0 1006.6,191.3 1006.7,192.2 1006.8,193.4 1006.9,194.0 1007.0,195.4 1007.1,196.2 1007.2,197.2 1007.3,198.3 1007.4,199.0 1007.5,200.0 1007.6,200.6 1007.7,201.5 1007.8,203.0 1007.9,203.8 1008.0,204.8 1008.0,205.6 1008.1,206.3 1008.2,207.3 1008.3,208.8 1008.4,209.6 1008.5,210.2 1008.6,211.3 1008.7,212.2 1008.7,213.2 1008.8,214.4 1008.9,215.3 1009.0,216.5 1009.1,216.9 1009.2,217.9 1009.2,219.4 1009.3,220.4 1009.4,221.2 1009.5,221.8 1009.6,223.1 1009.7,223.7 1009.8,225.0 1009.8,226.0 1009.9,226.7 1010.0,228.2 1010.1,229.4 1010.1,229.8 1010.2,231.4 1010.3,231.8 1010.4,233.3 1010.5,234.4 1010.5,235.1 1010.6,236.3 1010.7,237.3 1010.8,237.9 1010.9,238.8 1011.0,239.9 1011.1,240.3 1011.2,241.4 1011.3,242.1 1011.5,243.2 1011.6,244.4 1011.7,245.3 1011.9,246.9 1012.0,247.7 1012.2,248.4 1012.4,249.0 1012.7,249.9 1013.0,249.7 1013.5,249.9 1014.1,249.1 1014.7,248.9 1015.3,247.9 1016.0,247.0 1016.7,246.4 1017.4,245.5 1018.1,244.4 1018.8,243.9 1019.4,243.6 1020.0,243.4 1020.4,244.0 1020.8,244.3 1021.0,245.3 1021.3,246.3 1021.5,247.8 1021.7,249.1 1022.0,250.0 1022.2,250.5 1022.4,251.5 1022.6,252.6 1022.7,253.1 1022.9,254.4 1023.1,255.2 1023.3,255.7 1023.5,256.9 1023.7,258.1 1023.9,259.1 1024.1,259.5 1024.2,260.6 1024.4,261.9 1024.6,262.9 1024.8,263.8 1025.0,265.3 1025.2,265.7 1025.3,266.9 1025.5,267.8 1025.6,268.2 1025.8,269.1 1025.9,270.4 1026.1,271.0 1026.2,272.0 1026.4,273.5 1026.5,274.2 1026.7,275.1 1026.8,276.5 1027.0,277.1 1027.1,278.0 1027.3,279.1 1027.4,280.2 1027.6,281.4 1027.8,282.4 1027.9,283.0 1028.1,284.1 1028.2,285.5 1028.4,285.9 1028.5,286.9 1028.7,288.0 1028.8,289.3 1029.0,289.9 1029.2,291.0 1029.3,291.8 1029.5,292.7 1029.7,293.8 1029.8,294.9 1030.0,296.1 1030.2,296.8 1030.3,298.1 1030.5,299.2 1030.7,299.6 1030.9,301.0 1031.0,301.6 1031.2,302.7 1031.4,303.4 1031.5,304.8 1031.7,305.9 1031.9,306.5 1032.0,307.7 1032.2,308.7 1032.4,309.3 1032.5,310.2 1032.7,311.0 1032.8,312.4 1033.0,312.9 1033.2,314.2 1033.4,315.1 1033.6,316.4 1033.8,317.1 1034.0,318.4 1034.2,319.5 1034.4,320.5 1034.5,321.1 1034.7,322.1 1034.9,323.1 1035.1,324.3 1035.3,325.2 1035.4,325.8 1035.6,326.9 1035.7,327.7 1035.9,328.9 1036.0,329.9 1036.1,330.5 1036.2,331.9 1036.3,332.5 1036.4,333.3 1036.5,333.9 1036.6,335.0 1036.6,336.3 1036.7,337.1 1036.8,338.2 1036.9,338.6 1037.0,340.2 1037.1,340.8 1037.2,341.9 1037.3,342.6 1037.4,343.3 1037.5,344.3 1037.6,345.4 1037.7,345.7 1037.8,346.8 1038.0,347.9 1038.1,348.8 1038.2,349.9 1038.3,350.9 1038.5,352.0 1038.6,352.5 1038.7,354.2 1038.9,354.7 1039.0,355.6 1039.2,357.2 1039.3,357.8 1039.4,358.8 1039.6,359.9 1039.7,360.8 1039.9,362.1 1040.0,362.8 1040.1,364.2 1040.3,365.0 1040.4,366.1 1040.6,367.1 1040.7,368.1 1040.9,368.9 1041.0,369.9 1041.2,370.5 1041.3,371.6 1041.5,372.7 1041.6,373.5 1041.8,374.6 1042.0,375.6 1042.1,376.6 1042.3,377.5 1042.4,378.4 1042.6,379.7 1042.8,380.3 1042.9,381.3 1043.1,382.3 1043.2,383.5 1043.4,384.2 1043.5,385.6 1043.7,386.4 1043.8,387.4 1044.0,388.6 1044.1,389.7 1044.3,390.2 1044.4,391.5 1044.6,392.0 1044.7,393.7 1044.9,394.1 1045.0,395.3 1045.2,396.3 1045.3,397.2 1045.4,398.5 1045.6,399.6 1045.7,400.0 1045.9,401.0 1046.0,402.1 1046.1,403.1 1046.3,403.9 1046.4,405.1 1046.6,406.3 1046.7,407.0 1046.9,408.0 1047.0,409.1 1047.1,410.1 1047.3,411.2 1047.4,411.9 1047.6,413.1 1047.7,414.2 1047.9,415.4 1048.0,416.0 1048.1,417.3 1048.3,417.9 1048.4,419.2 1048.6,420.0 1048.7,420.7 1048.9,421.5 1049.0,422.6 1049.2,423.4 1049.4,424.6 1049.5,425.8 1049.7,426.6 1049.8,427.6 1050.0,428.7 1050.1,429.7 1050.3,430.6 1050.4,431.5 1050.6,432.2 1050.7,433.1 1050.9,434.2 1051.0,434.9 1051.2,435.8 1051.3,436.8 1051.5,438.1 1051.6,439.2 1051.7,440.0 1051.9,440.9 1052.0,441.4 1052.1,442.6 1052.3,443.8 1052.4,444.7 1052.6,445.6 1052.7,447.1 1052.8,447.6 1053.0,448.9 1053.1,449.7 1053.2,451.1 1053.4,451.4 1053.5,452.8 1053.6,453.9 1053.7,454.9 1053.9,455.3 1054.0,456.5 1054.1,457.6 1054.2,458.5 1054.4,459.4 1054.5,460.2 1054.6,461.6 1054.7,462.8 1054.9,463.5 1055.0,464.3 1055.1,465.2 1055.3,466.8 1055.4,467.7 1055.5,468.1 1055.7,469.6 1055.8,470.5 1055.9,471.3 1056.1,472.4 1056.2,473.3 1056.4,474.2 1056.5,475.4 1056.6,476.5 1056.8,477.2 1056.9,478.0 1057.0,479.5 1057.2,480.1 1057.3,481.0 1057.4,482.4 1057.5,483.1 1057.7,484.4 1057.8,485.4 1057.9,485.8 1058.0,487.2 1058.1,487.9 1058.2,488.9 1058.3,489.9 1058.4,491.0 1058.5,492.1 1058.6,492.7 1058.7,493.9 1058.8,494.7 1058.9,495.6 1059.0,496.6 1059.1,498.1 1059.2,498.7 1059.3,499.8 1059.4,500.6 1059.5,501.7 1059.5,502.4 1059.6,503.7 1059.7,504.5 1059.8,505.6 1059.9,506.4 1060.0,507.8 1060.1,508.3 1060.2,509.2 1060.3,510.8 1060.4,511.6 1060.5,512.5 1060.6,513.7 1060.7,514.5 1060.8,515.4 1060.9,516.3 1061.0,517.4 1061.1,518.7 1061.2,519.2 1061.3,520.2 1061.4,521.7 1061.5,522.5 1061.6,523.1 1061.7,524.2 1061.8,525.5 1061.8,526.1 1061.9,527.3 1062.0,528.1 1062.1,528.7 1062.1,529.9 1062.2,531.0 1062.2,531.8 1062.3,533.3 1062.3,534.3 1062.4,535.2 1062.4,536.3 1062.4,536.9 1062.5,537.6 1062.5,539.1 1062.6,539.9 1062.7,540.4 1062.8,541.2 1062.9,542.5 1063.0,542.9 1063.2,543.7 1063.4,544.7 1063.7,545.8 1063.9,546.6 1064.2,547.0 1064.5,547.8 1064.7,548.9 1065.0,549.9 1065.2,550.4 1065.3,551.2 1065.5,552.5 1065.6,553.1 1065.8,553.7 1065.9,555.1 1066.1,555.9 1066.2,557.0 1066.4,558.0 1066.5,558.6 1066.7,559.8 1066.8,560.7 1067.0,561.9 1067.1,562.7 1067.2,564.2 1067.4,565.2 1067.5,566.1 1067.6,567.1 1067.8,568.4 1067.9,569.2 1068.0,569.9 1068.1,570.8 1068.2,572.0 1068.3,573.1 1068.4,574.1 1068.5,575.2 1068.6,576.0 1068.7,577.1 1068.8,577.8 1068.9,579.0 1069.0,579.5 1069.1,581.0 1069.2,581.5 1069.3,582.5 1069.4,583.8 1069.5,584.7 1069.5,585.8 1069.6,586.4 1069.7,587.9 1069.8,588.6 1069.9,589.8 1070.0,590.9 1070.1,591.3 1070.2,592.3 1070.3,593.8 1070.4,594.3 1070.5,595.4 1070.6,596.4 1070.7,597.1 1070.8,598.2 1070.9,599.1 1071.0,600.6 1071.0,601.4 1071.1,602.0 1071.2,603.5 1071.3,604.3 1071.4,605.0 1071.5,606.2 1071.6,607.4 1071.7,607.8 1071.8,608.9 1071.9,609.7 1072.0,611.3 1072.1,611.8 1072.2,613.2 1072.3,613.8 1072.4,615.0 1072.5,615.7 1072.6,616.7 1072.7,617.7 1072.8,618.7 1072.9,619.6 1073.0,620.4 1073.0,621.2 1073.1,622.1 1073.2,623.5 1073.3,624.6 1073.4,625.6 1073.5,626.3 1073.6,627.5 1073.7,628.2 1073.8,629.2 1073.9,630.3 1074.0,631.1 1074.1,631.7 1074.2,633.0 1074.3,633.7 1074.4,635.0 1074.5,635.8 1074.6,637.1 1074.7,637.9 1074.8,638.8 1074.9,639.4 1074.9,640.9 1075.0,641.3 1075.1,642.7 1075.2,643.7 1075.3,644.2 1075.4,645.1 1075.5,646.0 1075.6,647.0 1075.7,648.0 1075.8,648.9 1075.9,650.4 1076.0,650.7 1076.1,651.8 1076.2,652.7 1076.3,654.1 1076.4,654.5 1076.5,655.8 1076.7,656.8 1076.8,657.6 1076.9,658.5 1077.0,659.8 1077.1,660.6 1077.2,661.7 1077.3,662.0 1077.4,663.0 1077.5,663.9 1077.6,665.5 1077.7,666.3 1077.8,667.0 1077.9,668.0 1078.0,668.9 1078.1,669.8 1078.1,671.2 1078.2,672.1 1078.2,673.5 1078.2,674.5 1078.2,676.1 1078.3,677.4 1078.3,678.6 1078.3,679.5 1078.3,681.1 1078.3,681.9 1078.3,683.1 1078.4,683.7 1078.4,685.3 1078.5,686.0 1078.5,686.7 1078.6,686.8 1078.7,687.3 1078.9,687.6 1079.0,688.2 1079.3,688.0 1079.7,687.2 1080.2,686.2 1080.6,685.2 1081.0,684.3 1081.3,683.0 1081.6,682.0 1081.9,680.6 1082.2,679.8 1082.5,678.8 1082.8,678.0 1083.0,677.7 1083.2,678.0 1083.4,678.8 1083.5,679.9 1083.7,680.7 1083.8,682.2 1084.0,683.1 1084.1,683.9 1084.3,684.8 1084.5,685.4 1084.6,686.8 1084.8,687.1 1085.0,688.0 1085.1,689.5 1085.3,690.7 1085.5,691.3 1085.7,692.5 1085.8,693.7 1086.0,694.5 1086.1,695.5 1086.3,696.7 1086.4,697.7 1086.6,698.4 1086.7,699.2 1086.8,700.5 1087.0,701.5 1087.1,702.9 1087.3,703.5 1087.4,704.7 1087.6,705.9 1087.7,707.0 1087.9,707.5 1088.1,708.3 1088.3,709.2 1088.6,710.2 1088.9,711.4 1089.2,711.8 1089.5,713.2 1089.8,714.0 1090.1,714.2 1090.5,714.8 1090.9,715.5 1091.5,716.8 1092.2,716.8 1092.9,717.5 1093.5,718.5 1093.9,719.4 1094.2,719.7 1094.5,720.9 1094.8,722.0 1095.1,722.9 1095.4,723.6 1095.8,724.4 1096.2,725.3 1097.0,726.0 1097.9,726.1 1098.8,726.5 1099.6,726.3 1100.4,725.9 1101.3,725.4 1102.1,725.1 1102.8,724.4 1103.4,724.0 1104.0,723.3 1104.5,722.2 1104.9,721.8 1105.4,720.9 1105.7,720.0 1106.0,719.7 1106.3,718.9 1106.5,717.8 1106.8,717.0 1107.0,715.8 1107.2,715.1 1107.5,713.9 1107.7,712.5 1108.0,712.0 1108.2,711.0 1108.4,710.1 1108.7,709.2 1108.9,708.7 1109.1,707.4 1109.4,706.6 1109.6,705.4 1109.9,704.5 1110.1,703.6 1110.3,703.1 1110.6,701.7 1110.8,701.2 1111.1,699.9 1111.3,698.9 1111.5,697.8 1111.8,696.9 1112.0,695.8 1112.2,695.2 1112.4,694.1 1112.6,693.6 1112.8,692.1 1113.0,691.1 1113.2,690.6 1113.4,689.8 1113.6,688.4 1113.8,687.8 1114.0,687.1 1114.1,686.0 1114.3,685.2 1114.5,683.9 1114.7,682.9 1114.9,681.8 1115.1,680.9 1115.3,680.4 1115.4,679.2 1115.6,678.3 1115.8,677.0 1116.0,676.1 1116.2,674.9 1116.4,674.3 1116.5,673.1 1116.7,672.3 1116.9,671.5 1117.0,670.7 1117.2,669.8 1117.4,668.6 1117.6,667.2 1117.7,666.7 1117.9,665.6 1118.1,664.5 1118.2,663.9 1118.4,662.5 1118.6,661.8 1118.7,660.9 1118.9,659.6 1119.1,658.7 1119.2,657.8 1119.4,656.6 1119.6,655.6 1119.7,654.8 1119.9,653.8 1120.1,652.9 1120.2,651.7 1120.4,650.6 1120.6,649.8 1120.7,649.2 1120.9,647.9 1121.1,647.0 1121.2,645.7 1121.4,645.0 1121.6,644.1 1121.8,643.1 1121.9,641.7 1122.1,640.6 1122.3,639.9 1122.4,638.9 1122.6,637.7 1122.8,636.6 1122.9,636.3 1123.1,635.3 1123.2,634.1 1123.4,633.0 1123.5,632.4 1123.6,631.5 1123.8,630.9 1123.9,629.8 1124.1,628.8 1124.2,628.0 1124.4,627.0 1124.5,625.8 1124.7,625.0 1124.8,624.4 1124.9,623.4 1125.0,622.1 1125.2,621.3 1125.3,620.5 1125.5,618.9 1125.6,618.7 1125.7,617.8 1125.9,616.6 1126.0,615.6 1126.1,615.2 1126.3,613.7 1126.4,613.1 1126.5,612.3 1126.7,610.8 1126.8,610.3 1127.0,608.7 1127.1,608.3 1127.3,606.9 1127.5,606.0 1127.6,605.1 1127.8,604.1 1127.9,602.5 1128.1,601.3 1128.2,600.9 1128.3,599.4 1128.5,598.5 1128.6,597.7 1128.7,596.8 1128.9,595.6 1129.0,595.0 1129.1,594.0 1129.2,592.6 1129.3,592.0 1129.4,590.7 1129.5,589.4 1129.6,588.5 1129.7,587.4 1129.8,586.8 1129.9,585.8 1130.0,584.3 1130.1,583.4 1130.2,582.2 1130.2,581.2 1130.3,580.5 1130.4,579.4 1130.5,579.0 1130.6,578.1 1130.6,576.7 1130.7,575.6 1130.8,574.8 1130.9,574.1 1131.0,572.8 1131.1,572.0 1131.2,570.9 1131.3,569.9 1131.4,568.9 1131.5,568.4 1131.6,567.0 1131.7,565.9 1131.8,565.3 1131.9,564.3 1132.0,563.0 1132.1,562.4 1132.2,560.9 1132.3,560.6 1132.4,559.4 1132.5,558.1 1132.6,557.3 1132.6,556.6 1132.7,555.8 1132.8,554.5 1132.9,553.7 1133.0,552.5 1133.1,551.3 1133.2,550.1 1133.3,549.5 1133.4,548.4 1133.5,547.3 1133.7,546.0 1133.8,545.4 1133.9,544.6 1134.0,543.4 1134.1,542.0 1134.2,541.3 1134.3,540.5 1134.5,539.6 1134.6,538.2 1134.7,537.4 1134.8,536.5 1135.0,535.2 1135.1,534.1 1135.2,533.7 1135.4,532.3 1135.5,531.4 1135.6,530.5 1135.8,529.2 1135.9,528.8 1136.0,527.3 1136.2,526.7 1136.3,525.8 1136.4,524.3 1136.6,523.7 1136.7,522.5 1136.8,521.5 1137.0,520.5 1137.1,519.7 1137.2,518.8 1137.4,517.9 1137.5,516.5 1137.7,515.7 1137.8,514.6 1137.9,513.4 1138.1,512.5 1138.2,511.3 1138.4,510.6 1138.5,509.4 1138.6,508.5 1138.8,507.7 1138.9,506.4 1139.0,505.4 1139.2,504.9 1139.3,504.0 1139.4,502.7 1139.5,501.8 1139.6,500.6 1139.7,499.9 1139.8,498.5 1139.9,497.6 1140.0,496.7 1140.1,495.6 1140.2,495.1 1140.3,494.1 1140.4,492.9 1140.5,491.6 1140.6,490.8 1140.7,490.3 1140.8,489.1 1140.9,488.5 1141.1,487.2 1141.2,486.5 1141.3,485.4 1141.5,484.8 1141.6,483.7 1141.7,482.3 1141.9,481.0 1142.0,480.1 1142.2,478.5 1142.4,478.0 1142.5,476.6 1142.8,476.1 1143.0,475.9 1143.3,475.7 1144.0,475.7 1144.7,476.9 1145.5,477.6 1146.1,478.0 1146.7,478.4 1147.3,478.7 1147.6,478.7 1147.8,478.0 1148.0,476.9 1148.2,476.1 1148.4,475.7 1148.5,474.1 1148.7,473.4 1148.8,471.7 1148.9,470.5 1149.0,469.8 1149.2,468.4 1149.3,467.5 1149.4,466.7 1149.5,465.2 1149.7,464.4 1149.8,463.5 1149.9,462.7 1150.0,461.7 1150.1,460.8 1150.2,460.0 1150.3,458.9 1150.4,458.1 1150.5,457.4 1150.6,456.4 1150.7,454.9 1150.8,454.1 1150.9,453.1 1151.0,452.5 1151.1,451.1 1151.2,450.0 1151.3,448.9 1151.4,447.9 1151.4,447.3 1151.5,446.4 1151.6,445.7 1151.6,444.6 1151.7,443.5 1151.8,442.2 1151.9,441.8 1151.9,440.3 1152.0,439.4 1152.1,438.4 1152.1,437.4 1152.2,436.4 1152.3,435.5 1152.3,434.0 1152.4,433.5 1152.5,432.0 1152.5,431.3 1152.6,430.1 1152.7,429.1 1152.7,427.7 1152.8,427.1 1152.9,425.6 1153.0,424.7 1153.0,423.6 1153.1,422.8 1153.2,422.2 1153.2,421.3 1153.3,420.3 1153.4,419.0 1153.5,418.1 1153.6,417.1 1153.7,416.3 1153.8,414.9 1153.9,414.0 1154.0,412.8 1154.1,412.2 1154.2,411.2 1154.3,410.3 1154.3,409.3 1154.4,407.8 1154.5,407.3 1154.6,406.1 1154.7,405.5 1154.9,404.2 1155.0,403.0 1155.1,402.4 1155.2,401.1 1155.3,400.2 1155.4,399.7 1155.5,398.8 1155.6,397.6 1155.8,396.4 1155.9,395.1 1156.0,394.3 1156.1,393.3 1156.3,392.5 1156.4,391.5 1156.5,390.7 1156.7,389.7 1156.8,388.6 1157.0,387.7 1157.1,386.3 1157.2,385.3 1157.4,384.5 1157.5,383.7 1157.6,382.3 1157.8,381.7 1157.9,380.8 1158.0,379.8 1158.1,378.7 1158.2,377.7 1158.3,376.7 1158.4,376.0 1158.6,375.1 1158.7,373.9 1158.8,373.1 1158.9,371.9 1159.0,371.2 1159.1,370.3 1159.2,369.4 1159.3,368.2 1159.4,367.4 1159.5,366.5 1159.6,365.1 1159.7,364.0 1159.8,363.4 1159.9,362.3 1160.0,361.6 1160.1,360.1 1160.2,359.2 1160.3,358.3 1160.4,357.2 1160.5,356.2 1160.6,355.2 1160.7,354.3 1160.8,353.2 1160.9,352.5 1161.0,351.6 1161.1,350.5 1161.2,349.6 1161.3,348.4 1161.5,348.0 1161.6,346.5 1161.7,345.9 1161.8,344.6 1161.9,344.1 1162.0,342.6 1162.1,341.5 1162.2,340.7 1162.3,339.6 1162.4,339.3 1162.5,338.3 1162.6,336.8 1162.7,335.7 1162.8,335.3 1162.9,334.4 1163.0,333.4 1163.1,332.4 1163.2,331.1 1163.3,329.9 1163.4,329.2 1163.5,328.0 1163.7,327.4 1163.8,326.4 1163.9,325.4 1164.0,324.7 1164.1,323.7 1164.2,322.4 1164.3,321.7 1164.5,321.0 1164.6,320.0 1164.8,319.2 1164.9,318.3 1165.1,317.3 1165.3,316.0 1165.5,315.0 1165.7,314.2 1165.9,313.3 1166.1,312.6 1166.3,311.5 1166.5,310.6 1166.7,309.8 1166.8,308.6 1167.0,307.7 1167.1,306.5 1167.3,305.6 1167.4,304.6 1167.5,303.4 1167.7,302.5 1167.8,302.0 1167.9,300.5 1168.0,299.5 1168.1,298.8 1168.3,297.8 1168.4,296.6 1168.5,295.6 1168.6,294.5 1168.7,293.5 1168.9,292.6 1169.0,291.9 1169.2,291.0 1169.3,290.0 1169.5,289.1 1169.6,288.2 1169.8,287.0 1169.9,285.9 1170.1,285.4 1170.3,283.9 1170.4,283.4 1170.6,282.2 1170.8,281.7 1171.0,281.3 1171.4,279.6 1171.7,279.0 1172.1,277.6 1172.5,277.7 1173.0,278.1 1173.5,279.4 1174.0,279.9 1174.2,280.1 1174.4,279.4 1174.6,278.9 1174.7,278.1 1174.9,277.1 1175.0,275.9 1175.2,274.9 1175.3,274.0 1175.5,272.6 1175.6,271.3 1175.7,270.3 1175.9,269.4 1176.0,267.8 1176.1,267.3 1176.2,266.4 1176.3,265.0 1176.4,262.6 1176.5,264.3 1176.6,262.1 1176.7,261.3 1176.8,259.1 1176.9,260.4 1177.0,257.8 1177.1,257.7 1177.3,255.0 1177.4,254.8 1177.5,255.8 1177.7,252.2 1177.8,252.4 1178.0,250.7 1178.3,250.3 1178.5,249.9 1178.8,249.1 1179.2,247.0 1179.5,247.1 1179.8,245.5 1180.1,245.3 1180.4,242.4 1180.7,244.1 1181.0,243.6 1181.3,244.4 1181.5,242.6 1181.7,243.4 1181.9,244.1 1182.1,245.9 1182.3,247.5 1182.5,250.2 1182.8,250.6 1183.0,250.4 1183.3,253.1 1183.7,252.6 1184.0,255.5 1184.4,254.1 1184.7,254.6 1185.0,255.5 1185.2,255.8 1185.3,257.6 1185.5,259.4 1185.6,259.6 1185.8,259.2 1185.9,260.7 1186.0,262.2 1186.1,262.5 1186.3,265.2 1186.4,265.4 1186.5,266.3 1186.6,267.7 1186.7,268.2 1186.8,269.5 1186.9,271.1 1187.0,271.8 1187.1,272.7 1187.1,273.7 1187.2,274.1 1187.2,274.9 1187.3,275.6 1187.3,276.8 1187.4,277.5 1187.4,278.3 1187.5,279.5 1187.5,280.3 1187.6,280.8 1187.6,282.3 1187.7,283.0 1187.7,284.1 1187.8,284.9 1187.8,286.2 1187.8,286.7 1187.9,287.8 1187.9,288.9 1188.0,289.7 1188.0,290.9 1188.0,292.2 1188.1,293.1 1188.1,293.8 1188.2,295.3 1188.2,295.8 1188.2,297.0 1188.3,298.2 1188.3,299.4 1188.3,300.1 1188.4,301.5 1188.4,302.6 1188.4,303.9 1188.5,304.5 1188.5,306.0 1188.5,306.6 1188.6,308.1 1188.6,309.0 1188.6,310.0 1188.7,310.9 1188.7,311.7 1188.8,313.0 1188.8,314.0 1188.8,315.1 1188.9,315.8 1188.9,317.1 1189.0,318.3 1189.0,319.3 1189.0,320.0 1189.1,321.0 1189.1,322.3 1189.2,323.3 1189.2,323.8 1189.3,325.0 1189.3,326.0 1189.4,327.0 1189.4,327.8 1189.5,329.1 1189.5,329.9 1189.6,330.9 1189.6,331.6 1189.7,333.0 1189.7,333.7 1189.8,334.9 1189.8,335.7 1189.9,336.4 1189.9,338.0 1190.0,338.7 1190.0,339.4 1190.1,340.6 1190.1,341.4 1190.2,342.8 1190.2,343.5 1190.2,344.3 1190.3,345.7 1190.3,346.6 1190.4,347.2 1190.4,348.5 1190.5,349.1 1190.5,350.5 1190.6,351.2 1190.6,352.5 1190.7,352.9 1190.7,354.1 1190.7,355.2 1190.8,356.4 1190.8,356.8 1190.9,358.4 1190.9,358.7 1190.9,359.8 1191.0,361.0 1191.0,362.0 1191.0,363.0 1191.1,363.7 1191.1,365.1 1191.1,366.1 1191.2,367.0 1191.2,368.1 1191.2,368.7 1191.2,369.7 1191.3,370.6 1191.3,371.9 1191.3,372.4 1191.3,374.0 1191.4,375.0 1191.4,375.6 1191.4,376.5 1191.4,377.5 1191.5,378.7 1191.5,379.8 1191.5,380.3 1191.5,381.6 1191.5,382.6 1191.6,383.3 1191.6,384.3 1191.6,385.0 1191.6,386.1 1191.6,387.3 1191.7,388.3 1191.7,389.4 1191.7,390.4 1191.7,391.1 1191.7,392.0 1191.8,392.9 1191.8,394.1 1191.8,394.9 1191.8,396.2 1191.8,396.8 1191.9,398.2 1191.9,398.8 1191.9,400.2 1191.9,401.3 1191.9,402.1 1192.0,403.3 1192.0,403.9 1192.0,405.0 1192.0,405.8 1192.0,407.0 1192.1,407.8 1192.1,409.2 1192.1,409.9 1192.1,410.4 1192.1,411.5 1192.2,412.8 1192.2,413.9 1192.2,414.7 1192.2,416.0 1192.3,416.8 1192.3,417.8 1192.3,418.7 1192.3,419.4 1192.3,420.2 1192.4,421.5 1192.4,422.6 1192.4,423.7 1192.4,424.5 1192.4,425.4 1192.5,426.1 1192.5,427.3 1192.5,428.7 1192.5,429.4 1192.5,430.5 1192.6,431.6 1192.6,432.1 1192.6,433.1 1192.6,434.5 1192.6,434.9 1192.7,436.1 1192.7,437.5 1192.7,438.5 1192.7,439.0 1192.8,439.9 1192.8,441.5 1192.8,442.2 1192.8,443.2 1192.8,444.3 1192.9,445.3 1192.9,446.0 1192.9,447.1 1192.9,448.3 1192.9,449.0 1193.0,450.1 1193.0,450.9 1193.0,452.3"/>
<path stroke="#ba80cc" d="M140.0,165.5 140.9,175.6 141.8,168.0 142.7,174.2 143.6,178.7 144.5,172.2 145.4,168.7 146.3,175.3 147.2,181.4 148.1,177.5 149.0,173.8 149.9,175.5 150.8,171.9 151.7,172.5 152.6,178.7 153.5,179.4 154.4,174.3 155.3,177.4 156.2,178.5 157.1,175.2 158.0,179.6 158.9,174.7 159.7,173.9 160.6,176.7 161.5,174.9 162.4,178.9 163.3,177.2 164.2,173.5 165.1,175.9 166.0,178.5 166.9,171.7 167.8,170.3 168.7,177.5 169.6,166.6 170.5,172.8 171.4,165.8 172.3,175.4 173.2,178.4 174.1,178.9 175.0,170.2 175.9,177.2 176.8,174.2 177.7,167.9 178.6,165.3 179.5,173.1 180.4,169.4 181.3,177.0 182.2,177.8 183.1,172.4 184.0,173.0 184.9,165.9 185.8,168.8 186.7,175.6 187.6,171.0 188.5,168.2 189.4,171.3 190.3,170.9 191.2,170.2 192.1,170.2 193.0,171.4 193.9,177.0 194.8,175.9 195.7,170.9 196.6,163.6 197.5,175.6 198.3,172.2 199.2,164.6 200.1,175.5 201.0,170.2 201.9,165.9 202.8,174.2 203.7,166.4 204.6,174.5 205.5,171.3 206.4,167.0 207.3,166.7 208.2,166.0 209.1,164.2 210.0,165.4 210.9,167.0 211.8,165.8 212.7,167.8 213.6,166.5 214.5,173.7 215.4,169.4 216.3,163.9 217.2,170.0 218.1,165.0 219.0,171.8 219.9,167.7 220.8,174.8 221.7,162.2 222.6,163.3 223.5,171.3 224.4,164.1 225.3,157.8 226.2,169.0 227.1,177.1 228.0,166.8 228.9,167.9 229.8,156.4 230.7,174.2 231.6,178.7 232.5,157.0 233.4,160.2 234.3,160.1 235.2,174.7 236.1,186.6 237.0,177.0 237.9,160.5 238.8,163.2 239.7,171.1 240.6,161.0 241.4,176.0 242.3,164.2 243.2,160.7 244.1,159.2 245.0,176.9 245.9,158.2 246.8,177.1 247.7,157.1 248.6,173.2 249.5,161.8 250.4,175.5 251.3,175.6 252.2,175.4 253.1,160.5 254.0,155.7 254.9,176.4 255.8,167.6 256.7,158.9 257.6,164.8 258.5,174.5 259.4,155.7 260.3,167.3 261.2,154.0 262.1,162.3 263.0,168.5 263.9,162.5 264.8,170.0 265.7,162.8 266.6,165.6 267.5,161.6 268.4,163.8 269.2,162.2 270.1,158.2 271.0,155.8 271.9,168.0 272.8,151.2 273.7,153.0 274.6,174.1 275.5,155.8 276.4,154.3 277.3,165.2 278.2,161.1 279.1,168.3 280.0,164.4 280.9,164.5 281.8,166.6 282.7,155.1 283.6,168.7 284.5,160.3 285.4,169.0 286.3,163.4 287.2,150.5 288.1,154.3 289.0,159.1 289.9,147.2 290.8,163.1 291.7,149.5 292.6,162.3 293.5,176.0 294.3,173.7 295.2,165.8 296.1,148.5 297.0,158.9 297.9,156.1 298.8,152.3 299.7,171.5 300.6,156.8 301.5,154.0 302.4,169.0 303.3,151.7 304.2,166.7 305.1,155.4 306.0,164.0 306.9,158.6 307.8,172.7 308.7,152.9 309.6,173.2 310.5,149.1 311.4,148.0 312.3,187.7 313.2,158.5 314.1,162.5 315.0,150.6 315.9,174.6 316.8,161.2 317.7,170.2 318.6,165.9 319.5,152.8 320.4,165.8 321.3,154.3 322.2,166.5 323.1,162.6 324.0,149.1 324.9,156.8 325.8,151.5 326.7,156.3 327.6,170.9 328.5,147.5 329.4,153.8 330.3,172.5 331.2,151.4 332.1,155.9 333.0,157.9 333.9,167.5 334.8,176.5 335.7,162.1 336.6,164.4 337.5,175.9 338.4,168.7 339.3,157.8 340.2,171.5 341.1,158.0 342.0,152.1 342.9,156.2 343.8,159.1 344.7,162.9 345.6,159.0 346.5,168.1 347.4,161.2 348.3,171.2 349.2,170.9 350.1,168.9 351.0,172.2 351.9,154.4 352.8,156.2 353.7,160.5 354.6,164.9 355.5,158.1 356.4,167.6 357.3,165.0 358.2,157.0 359.1,156.6 360.0,163.8 360.9,170.2 361.8,155.7 362.7,168.3 363.6,164.0 364.5,171.7 365.4,168.1 366.3,155.7 367.2,172.5 368.1,164.3 369.0,171.2 369.9,161.9 370.8,155.0 371.7,171.8 372.6,158.9 373.5,159.4 374.4,171.2 375.3,172.0 376.2,168.6 377.1,170.0 378.0,166.5 378.9,164.1 379.8,158.3 380.7,159.3 381.6,171.1 382.5,171.6 383.4,161.7 384.4,157.1 385.3,157.2 386.2,159.6 387.1,156.4 388.0,160.6 388.9,155.3 389.8,172.2 390.7,172.2 391.6,161.8 392.5,162.0 393.4,159.9 394.3,156.8 395.2,169.6 396.1,159.0 397.0,172.2 397.9,163.3 398.8,161.4 399.7,164.2 400.6,167.4 401.5,165.1 402.4,160.4 403.3,169.1 404.2,164.7 405.1,159.5 406.0,167.0 406.9,157.9 407.8,162.0 408.7,162.7 409.6,157.7 410.5,161.4 411.4,173.0 412.3,165.0 413.2,160.5 414.1,158.6 415.0,166.5 415.9,162.5 416.8,159.1 417.7,173.9 418.6,159.4 419.5,167.7 420.4,165.6 421.3,157.8 422.2,161.5 423.1,167.4 424.0,165.0 424.9,158.7 425.8,159.9 426.7,163.1 427.6,157.9 428.5,160.9 429.4,164.9 430.3,157.6 431.2,166.6 432.1,163.8 433.0,167.3 433.9,166.2 434.8,163.0 435.7,157.4 436.6,159.7 437.5,159.8 438.4,164.9 439.3,163.8 440.2,159.5 441.1,157.6 442.0,165.8 442.9,171.7 443.8,167.4 444.7,165.9 445.6,159.1 446.5,158.3 447.4,166.0 448.3,164.1 449.2,159.9 450.1,163.1 451.0,172.8 451.9,158.0 452.8,164.0 453.7,168.1 454.6,160.7 455.5,168.9 456.4,159.4 457.3,159.5 458.2,156.8 459.1,159.4 460.0,162.3 460.9,161.9 461.8,167.5 462.7,159.5 463.6,157.3 464.5,161.7 465.4,162.3 466.3,156.0 467.2,164.4 468.1,167.1 469.0,159.9 469.9,162.6 470.8,164.9 471.7,163.8 472.6,162.2 473.5,158.6 474.4,159.3 475.3,159.7 476.2,162.3 477.1,159.2 478.0,158.0 478.9,164.9 479.8,163.6 480.7,162.4 481.6,162.9 482.5,163.8 483.4,164.0 484.3,158.2 485.2,158.9 486.1,164.5 487.0,160.2 487.9,155.6 488.8,162.1 489.7,160.2 490.6,158.8 491.5,159.3 492.4,162.1 493.3,158.7 494.2,166.0 495.1,157.7 496.0,162.5 496.9,158.1 497.8,163.8 498.6,156.3 499.5,157.6 500.4,156.3 501.3,162.4 502.2,158.6 503.1,159.3 504.0,157.8 504.9,158.4 505.8,163.0 506.7,161.3 507.6,158.6 508.5,155.9 509.4,156.4 510.3,157.6 511.2,157.7 512.1,160.6 513.0,160.1 513.9,156.7 514.8,159.2 515.7,161.4 516.6,155.7 517.5,157.9 518.4,157.3 519.3,161.6 520.2,158.8 521.1,162.3 522.0,160.7 522.9,161.5 523.8,157.0 524.7,160.8 525.6,160.6 526.5,154.9 527.4,158.4 528.3,159.9 529.2,159.5 530.1,164.2 531.0,156.4 531.9,159.7 532.8,159.3 533.7,158.4 534.6,160.1 535.5,157.0 536.4,159.5 537.3,157.7 538.2,157.0 539.1,155.9 540.0,158.5 540.9,161.0 541.8,155.5 542.7,160.8 543.6,154.6 544.5,161.6 545.4,157.5 546.3,157.1 547.2,160.4 548.1,154.6 549.0,154.2 549.9,160.1 550.8,155.2 551.7,156.3 552.6,159.9 553.5,158.2 554.4,159.0 555.3,160.9 556.2,154.8 557.1,156.6 558.0,153.1 558.9,159.8 559.8,159.8 560.7,158.6 561.6,154.3 562.5,157.9 563.4,156.5 564.3,156.1 565.2,155.7 566.1,152.4 567.0,153.4 567.9,152.5 568.8,157.7 569.7,159.1 570.6,153.0 571.5,158.2 572.4,153.3 573.3,152.6 574.2,154.0 575.1,157.8 576.0,152.1 576.9,152.7 577.8,157.7 578.7,151.8 579.6,157.8 580.3,157.8 581.0,155.0 581.7,152.1 582.4,153.9 583.1,154.1 583.8,149.0 584.5,148.0 585.2,149.9 585.9,150.7 586.7,153.5 587.5,152.2 588.3,150.4 589.1,151.5 589.9,147.0 590.8,151.4 591.7,150.3 592.6,146.5 593.5,149.7 594.4,146.2 595.3,146.6 596.2,151.7 597.1,150.0 598.0,148.4 598.9,151.4 599.8,151.5 600.7,144.4 601.6,144.4 602.5,151.8 603.4,142.8 604.3,146.3 605.2,148.1 606.1,144.0 607.0,151.9 607.9,147.5 608.8,148.7 609.7,151.0 610.6,146.3 611.5,150.2 612.4,151.8 613.3,150.0 614.2,148.3 615.1,149.9 616.0,143.6 616.9,151.4 617.8,148.9 618.7,143.8 619.6,147.0 620.5,148.3 621.4,145.3 622.3,144.4 623.2,149.0 624.1,151.4 625.0,147.2 625.9,149.2 626.8,145.2 627.7,150.3 628.6,151.6 629.5,148.7 630.4,146.9 631.3,144.2 632.2,150.9 633.1,146.0 634.0,150.4 634.9,143.2 635.8,146.4 636.7,149.8 637.6,144.2 638.5,143.4 639.4,145.4 640.3,149.0 641.2,146.3 642.1,148.1 643.0,148.8 643.9,143.5 644.8,144.2 645.7,146.1 646.6,144.6 647.5,148.7 648.4,145.3 649.3,148.1 650.2,150.2 651.1,149.0 652.0,149.3 652.8,147.7 653.7,144.8 654.6,141.8 655.5,144.0 656.3,147.2 657.2,149.3 658.1,141.0 659.0,142.1 659.8,141.3 660.7,141.2 661.6,141.5 662.5,144.0 663.4,142.8 664.2,147.7 665.1,139.4 666.0,148.6 666.9,143.8 667.8,140.8 668.7,145.4 669.6,149.6 670.4,138.2 671.3,146.3 672.2,138.3 673.1,138.7 674.0,140.8 674.9,138.4 675.7,139.5 676.6,142.3 677.5,144.1 678.4,138.6 679.3,143.8 680.1,144.3 681.0,138.6 681.8,141.4 682.6,136.3 683.4,136.9 684.2,143.3 685.0,134.3 685.8,140.0 686.6,141.4 687.4,139.0 688.2,139.1 689.0,132.1 689.8,132.1 690.7,135.2 691.5,136.8 692.4,138.4 693.3,131.6 694.2,128.1 695.0,133.1 695.9,143.1 696.8,133.1 697.6,128.1 698.5,135.2 699.4,134.7 700.3,132.7 701.1,138.6 702.0,138.3 702.9,125.7 703.7,136.6 704.6,133.4 705.5,134.3 706.3,127.9 707.2,135.4 708.1,137.3 708.9,132.3 709.0,124.2 709.1,130.9 709.1,133.3 709.1,131.5 709.1,126.4 709.2,121.0 709.2,119.4 709.2,124.5 709.2,117.1 709.3,120.8 709.3,126.5 709.3,120.4 709.3,116.2 709.4,113.8 709.4,120.2 709.4,110.4 709.4,110.3 709.5,116.8 709.5,106.9 709.5,111.8 709.6,112.5 709.6,111.1 709.6,109.0 709.6,109.6 709.7,108.9 709.7,106.4 709.8,106.3 709.8,105.3 709.8,104.3 709.9,103.8 709.9,103.0 710.0,101.0 710.0,100.6 710.0,100.2 710.1,99.9 710.1,98.4 710.1,97.4 710.2,96.5 710.7,97.0 711.7,96.2 711.8,95.9 711.9,98.1 711.9,97.8 711.9,100.2 712.0,99.5 712.0,101.8 712.1,102.1 712.1,103.8 712.1,103.4 712.2,105.4 712.2,105.3 712.3,107.1 712.3,107.2 712.3,108.0 712.4,109.5 712.4,110.4 712.4,110.5 712.5,112.8 712.5,112.9 712.5,112.6 712.6,109.3 712.6,122.4 712.6,120.4 712.6,108.8 712.7,124.0 712.7,126.0 712.7,120.3 712.8,120.9 712.8,125.3 712.8,124.3 712.9,122.3 712.9,120.9 712.9,126.6 712.9,133.1 713.0,132.9 713.3,125.5 714.2,122.5 715.1,133.7 715.5,128.5 715.6,120.9 715.6,123.2 715.6,133.0 715.7,113.5 715.7,122.2 715.7,116.8 715.8,126.7 715.8,114.8 715.8,125.8 715.9,119.6 715.9,116.9 715.9,115.0 716.0,119.0 716.0,115.1 716.0,113.8 716.1,113.2 716.1,112.3 716.1,111.0 716.2,111.3 716.2,110.1 716.2,108.5 716.3,108.0 716.3,106.9 716.3,106.7 716.4,104.7 716.4,104.0 716.5,103.6 716.5,102.1 716.9,102.5 717.5,101.2 717.5,101.7 717.6,103.8 717.6,104.0 717.6,105.4 717.7,104.7 717.7,106.0 717.7,107.7 717.8,107.4 717.8,109.9 717.8,109.9 717.9,111.9 717.9,112.2 717.9,112.0 718.0,113.4 718.0,114.8 718.0,115.1 718.1,115.7 718.1,118.0 718.1,118.1 718.2,119.3 718.2,120.1 718.2,120.6 718.3,122.3 718.3,122.1 718.3,124.3 718.4,124.9 718.4,123.7 718.4,126.7 718.5,127.0 718.5,128.8 718.6,128.6 718.7,130.4 718.7,129.9 718.8,131.8 718.9,131.8 719.0,134.2 719.0,133.9 719.1,135.8 719.2,136.7 719.3,136.6 719.3,137.7 719.4,139.8 719.5,139.7 719.9,138.1 720.4,139.5 721.0,141.1 721.3,143.1 721.6,131.7 722.0,135.6 722.3,131.9 722.6,136.9 723.0,129.2 723.3,138.3 723.6,127.7 724.0,132.4 724.7,130.6 725.5,137.4 726.3,134.7 727.1,131.6 727.9,131.7 728.6,130.5 729.4,137.6 730.2,131.5 731.1,137.6 732.0,129.5 732.9,136.8 733.8,138.6 734.7,136.7 735.6,130.2 736.5,137.1 737.4,134.9 738.3,129.3 739.2,138.9 740.1,134.8 741.0,134.9 741.8,129.0 742.7,127.4 743.6,131.4 744.5,136.8 745.4,129.5 746.3,135.7 747.1,125.2 748.0,135.8 748.9,136.3 749.8,124.6 750.2,131.5 750.4,129.5 750.6,137.2 750.8,126.0 751.0,125.1 751.2,122.5 751.4,120.1 751.6,123.1 751.8,123.6 752.0,126.0 752.2,123.9 752.4,124.8 752.6,118.2 752.8,123.5 753.0,112.6 753.2,122.3 753.3,111.6 753.5,113.8 753.7,107.8 753.9,112.2 754.1,106.9 754.2,115.2 754.4,109.9 754.6,112.6 754.8,114.0 754.9,108.8 755.3,99.6 755.7,106.2 756.1,116.3 756.5,111.6 756.9,106.8 757.1,116.3 757.2,115.0 757.3,120.1 757.4,111.8 757.6,111.1 757.7,116.4 757.8,114.4 757.9,125.2 758.0,121.5 758.2,127.2 758.3,122.3 758.4,125.7 758.5,129.3 758.6,129.6 758.7,131.6 758.9,121.0 759.0,115.7 759.3,122.7 759.6,130.3 759.9,132.4 760.2,128.4 760.5,127.4 760.8,135.9 761.1,136.0 761.4,133.8 761.7,140.6 762.0,132.0 762.2,135.2 762.4,133.2 762.6,132.8 762.8,131.2 763.0,130.6 763.2,130.6 763.4,130.2 763.6,128.3 763.8,128.6 764.0,126.8 764.2,125.8 764.4,125.4 764.6,125.2 764.8,123.8 765.0,122.8 765.2,122.2 765.4,120.2 765.6,120.0 765.8,118.5 766.0,118.1 766.1,115.1 766.2,116.6 766.3,113.7 766.4,114.1 766.6,117.2 766.7,116.4 766.8,114.2 766.9,110.7 767.0,109.7 767.1,105.8 767.1,111.9 767.2,113.7 767.2,113.4 767.3,115.3 767.4,117.8 767.4,119.9 767.5,112.9 767.5,115.7 767.6,125.0 767.7,113.2 767.7,124.3 767.8,120.7 767.8,123.5 767.9,122.6 768.0,127.7 768.1,124.9 768.4,130.4 768.7,122.6 768.9,124.1 769.2,133.8 769.5,133.4 769.8,130.5 770.2,131.3 771.1,126.3 772.0,130.9 772.9,137.0 773.8,132.3 774.7,131.1 775.6,127.7 776.5,129.9 777.4,135.2 778.3,132.7 779.2,128.7 780.1,131.2 781.0,134.9 781.9,125.8 782.8,125.7 783.7,136.4 784.6,132.7 785.5,127.8 786.4,135.7 787.3,131.2 788.2,125.4 789.1,136.6 790.0,132.1 790.9,132.6 791.8,130.7 792.7,131.4 793.6,132.0 794.5,132.4 795.4,133.6 796.3,131.5 797.2,131.7 798.1,132.6 799.0,132.6 799.9,130.5 800.8,133.1 801.7,133.2 802.6,130.5 803.5,130.8 804.4,132.8 805.3,132.8 806.2,130.9 807.1,132.2 808.0,130.8 808.9,132.4 809.8,131.5 810.7,131.5 811.6,130.7 812.5,132.7 813.4,130.9 814.3,129.4 815.2,129.2 816.1,129.8 817.0,129.9 817.9,131.1 818.8,131.7 819.7,131.7 820.6,131.4 821.5,128.7 822.4,128.6 823.3,129.6 824.2,130.8 825.1,129.0 826.0,129.1 826.9,130.5 827.8,130.6 828.7,129.5 829.6,129.8 830.5,131.2 831.4,131.4 832.3,129.7 833.2,131.3 834.1,130.3 835.0,131.0 835.9,130.4 836.8,131.2 837.7,127.5 838.6,129.3 839.5,131.5 840.4,128.2 841.3,129.9 842.2,130.0 843.1,130.6 844.0,131.6 844.9,131.7 845.8,129.2 846.7,131.0 847.6,128.9 848.5,128.5 849.4,129.7 850.3,127.9 851.2,130.5 852.1,131.3 853.0,128.6 853.9,128.0 854.8,129.9 855.7,130.6 856.6,130.5 857.5,129.8 858.4,130.7 859.3,129.2 860.2,130.3 861.1,128.4 862.0,129.1 862.9,131.2 863.8,128.6 864.7,128.1 865.6,129.4 866.5,128.8 867.4,129.7 868.3,129.1 869.2,129.2 870.1,130.0 871.0,130.2 871.9,130.8 872.8,128.3 873.7,128.5 874.6,128.4 875.5,129.6 876.4,127.7 877.3,129.8 878.2,127.4 879.1,128.3 880.0,128.5 880.9,129.7 881.7,129.9 882.6,126.8 883.4,128.7 884.3,129.1 885.1,128.6 886.0,125.9 886.8,126.8 887.7,126.7 888.5,124.7 889.4,124.9 890.2,124.9 891.1,126.0 892.0,124.9 892.9,126.2 893.8,122.5 894.7,125.4 895.6,124.9 896.5,126.2 897.4,124.6 898.3,125.2 899.2,125.8 900.1,125.4 901.0,122.6 901.9,123.2 902.8,124.2 903.7,124.5 904.6,124.1 905.5,124.8 906.4,123.9 907.2,124.7 908.1,124.4 909.0,123.2 909.9,121.6 910.8,124.4 911.7,123.7 912.6,122.4 913.5,122.1 914.4,121.6 915.3,121.5 916.2,124.1 917.1,122.9 918.0,123.3 918.9,122.4 919.8,122.7 920.7,124.1 921.6,122.6 922.5,121.8 923.4,122.3 924.3,122.7 925.2,120.2 926.1,120.7 927.0,120.1 927.9,123.1 928.8,121.3 929.7,120.9 930.6,120.9 931.5,120.8 932.4,120.4 933.2,119.9 934.1,122.9 935.0,119.4 935.9,121.9 936.8,121.2 937.7,119.3 938.6,119.1 939.5,122.1 940.4,120.1 941.3,119.2 942.2,119.0 943.1,117.7 944.0,121.0 944.9,118.5 945.8,120.9 946.7,119.1 947.6,118.8 948.5,120.0 949.4,121.5 950.3,120.3 951.2,117.9 952.1,118.7 953.0,118.1 953.9,118.5 954.8,119.1 955.7,117.7 956.6,121.6 957.5,120.7 958.4,118.3 959.3,120.7 960.2,118.1 961.1,117.8 962.0,121.5 962.9,117.8 963.8,119.4 964.7,119.1 965.6,119.2 966.5,119.4 967.4,118.4 968.3,118.7 969.2,116.7 970.1,116.6 971.0,117.8 971.9,119.8 972.8,117.3 973.7,117.0 974.6,119.6 975.4,116.3 976.3,118.8 977.1,117.0 977.9,118.2 978.8,120.9 979.6,118.7 980.4,121.6 981.3,121.4 982.1,120.6 983.0,119.5 983.8,119.9 984.6,121.3 985.4,121.8 986.0,122.9 986.7,123.1 987.3,123.0 988.0,123.0 988.6,124.9 989.3,127.4 990.0,125.8 990.6,128.9 991.3,129.3 991.9,129.3 992.6,128.8 993.2,130.2 993.6,130.3 994.0,130.6 994.4,131.5 994.8,132.1 995.2,132.7 995.6,133.2 996.0,134.5 996.4,138.7 996.8,137.8 997.2,139.6 997.6,137.0 998.0,140.2 998.4,139.6 998.8,140.9 999.2,143.8 999.6,142.5 1000.0,146.3 1003.5,159.5 1003.6,160.6 1003.8,161.3 1003.9,162.0 1004.0,163.4 1004.1,164.1 1004.3,165.6 1004.4,166.1 1004.5,167.3 1004.7,168.4 1004.8,169.5 1004.9,170.4 1005.0,171.4 1005.2,171.8 1005.3,173.3 1005.4,174.1 1005.5,175.0 1005.7,175.9 1005.8,176.7 1005.9,177.7 1006.0,179.1 1006.1,179.7 1006.2,181.1 1006.3,181.6 1006.4,182.8 1006.5,183.9 1006.6,184.6 1006.7,186.0 1006.8,187.0 1006.9,187.5 1006.9,188.3 1007.0,189.3 1007.1,190.3 1007.2,191.4 1007.3,192.8 1007.4,193.7 1007.5,194.2 1007.6,195.4 1007.7,196.4 1007.8,196.8 1007.9,198.2 1008.0,199.0 1008.1,199.8 1008.2,200.7 1008.4,202.0 1008.5,203.3 1008.6,203.8 1008.7,205.0 1008.9,205.7 1009.0,206.9 1009.1,208.2 1009.3,209.1 1009.4,209.8 1009.5,210.6 1009.7,212.1 1009.8,213.0 1010.0,213.5 1010.2,214.6 1010.3,215.3 1010.5,216.0 1010.7,217.1 1011.0,218.0 1011.2,219.1 1011.5,220.4 1011.7,221.5 1012.0,222.5 1012.3,222.9 1012.6,223.8 1013.0,223.7 1013.5,223.7 1014.1,223.5 1014.8,222.9 1015.4,222.1 1016.0,220.8 1016.5,220.5 1016.9,219.1 1017.4,218.2 1017.8,217.2 1018.3,216.1 1018.7,215.2 1019.2,214.4 1019.6,213.8 1020.0,214.2 1020.4,214.1 1020.8,214.6 1021.2,215.4 1021.6,216.8 1022.0,217.7 1022.3,218.8 1022.7,220.1 1023.0,220.9 1023.3,221.6 1023.5,222.5 1023.7,223.7 1023.9,224.6 1024.1,225.6 1024.3,226.4 1024.5,227.2 1024.7,228.0 1024.9,229.0 1025.1,230.1 1025.4,230.9 1025.6,232.1 1025.8,233.5 1026.0,234.4 1026.2,235.6 1026.3,236.1 1026.5,236.9 1026.7,238.1 1026.8,238.9 1027.0,240.0 1027.2,240.6 1027.4,241.8 1027.6,242.6 1027.7,243.9 1027.9,244.7 1028.1,245.6 1028.3,246.6 1028.5,247.9 1028.7,248.8 1028.9,249.7 1029.0,250.9 1029.2,252.2 1029.4,252.7 1029.6,254.2 1029.8,254.9 1030.0,256.3 1030.1,257.4 1030.3,258.1 1030.5,258.9 1030.7,260.0 1030.8,261.0 1031.0,262.2 1031.2,263.1 1031.4,263.8 1031.5,265.0 1031.7,265.8 1031.9,266.7 1032.0,267.8 1032.2,269.0 1032.4,269.7 1032.5,270.7 1032.7,272.0 1032.9,272.4 1033.0,273.5 1033.2,274.3 1033.4,275.7 1033.5,276.4 1033.7,277.3 1033.8,278.3 1034.0,279.1 1034.2,280.4 1034.3,281.5 1034.5,282.2 1034.7,282.9 1034.8,283.8 1035.0,285.1 1035.2,286.3 1035.3,286.7 1035.5,288.1 1035.7,288.6 1035.8,289.8 1036.0,290.6 1036.2,291.5 1036.3,292.5 1036.5,293.6 1036.7,294.7 1036.8,295.5 1037.0,296.7 1037.2,297.6 1037.3,298.6 1037.5,299.6 1037.7,300.4 1037.8,301.5 1038.0,302.1 1038.2,303.0 1038.3,304.5 1038.5,305.4 1038.7,305.8 1038.8,306.9 1039.0,307.7 1039.2,309.0 1039.4,310.0 1039.6,311.1 1039.8,312.1 1040.0,313.0 1040.2,314.1 1040.4,314.9 1040.6,315.9 1040.8,317.5 1041.0,318.0 1041.2,319.0 1041.4,320.6 1041.6,321.4 1041.8,322.7 1041.9,323.3 1042.1,324.4 1042.3,325.2 1042.5,325.9 1042.6,327.0 1042.7,327.9 1042.9,328.5 1043.0,329.7 1043.1,330.4 1043.3,331.4 1043.4,332.7 1043.4,333.2 1043.5,334.1 1043.6,334.9 1043.6,336.1 1043.7,336.8 1043.8,337.8 1043.9,338.6 1044.0,339.9 1044.1,340.7 1044.2,341.3 1044.3,342.6 1044.4,343.2 1044.5,344.1 1044.6,345.4 1044.7,345.8 1044.9,347.1 1045.0,347.8 1045.1,349.0 1045.2,350.3 1045.4,350.9 1045.5,352.3 1045.6,352.9 1045.8,354.1 1045.9,354.8 1046.1,356.3 1046.2,357.4 1046.3,358.3 1046.5,359.1 1046.6,360.4 1046.7,360.9 1046.9,362.2 1047.0,363.2 1047.1,364.0 1047.3,364.7 1047.4,366.1 1047.6,366.9 1047.7,368.2 1047.8,369.2 1048.0,369.6 1048.1,371.0 1048.3,372.0 1048.4,372.9 1048.6,373.4 1048.7,374.9 1048.8,375.4 1049.0,376.9 1049.1,377.7 1049.3,378.3 1049.4,379.5 1049.6,380.6 1049.7,381.5 1049.9,382.4 1050.0,383.1 1050.1,384.4 1050.3,385.4 1050.4,386.0 1050.6,387.1 1050.7,388.4 1050.9,389.3 1051.0,390.1 1051.1,390.9 1051.3,392.1 1051.4,393.3 1051.6,394.0 1051.7,395.4 1051.8,395.9 1052.0,396.8 1052.1,398.0 1052.3,399.3 1052.4,400.2 1052.6,400.8 1052.7,401.6 1052.9,402.7 1053.0,403.5 1053.2,405.0 1053.3,406.1 1053.5,406.8 1053.7,407.9 1053.8,408.8 1054.0,409.8 1054.2,410.9 1054.3,411.7 1054.5,412.6 1054.7,413.4 1054.8,414.6 1055.0,415.7 1055.2,416.2 1055.3,417.8 1055.5,418.1 1055.7,419.4 1055.8,420.6 1056.0,421.7 1056.1,422.2 1056.3,423.2 1056.4,424.1 1056.6,424.9 1056.7,426.3 1056.9,427.0 1057.0,428.2 1057.2,428.8 1057.3,429.8 1057.4,431.2 1057.6,432.1 1057.7,433.2 1057.9,434.1 1058.0,434.8 1058.1,436.2 1058.3,436.8 1058.4,437.7 1058.6,438.6 1058.7,439.9 1058.9,440.7 1059.0,441.6 1059.1,442.5 1059.3,443.5 1059.4,444.4 1059.6,445.9 1059.7,446.6 1059.9,447.9 1060.0,448.5 1060.2,449.2 1060.3,450.6 1060.5,451.8 1060.6,452.3 1060.8,453.7 1060.9,454.5 1061.1,455.3 1061.2,456.7 1061.3,457.3 1061.5,458.1 1061.6,459.5 1061.7,460.4 1061.9,461.0 1062.0,462.2 1062.1,463.0 1062.3,464.4 1062.4,465.0 1062.5,466.0 1062.6,466.9 1062.7,468.4 1062.8,469.4 1062.9,470.0 1063.0,471.4 1063.1,471.9 1063.3,472.9 1063.4,474.1 1063.5,474.5 1063.7,475.7 1063.8,476.4 1064.0,476.9 1064.3,477.7 1064.6,479.1 1065.0,479.6 1065.4,480.4 1065.7,480.9 1066.0,481.7 1066.2,482.6 1066.3,483.3 1066.5,484.0 1066.6,485.3 1066.8,486.0 1066.9,487.2 1067.0,487.8 1067.1,489.0 1067.2,489.8 1067.3,491.4 1067.5,492.3 1067.6,493.2 1067.7,494.4 1067.8,495.6 1067.9,496.7 1068.0,497.7 1068.1,498.4 1068.2,499.3 1068.3,500.3 1068.4,501.1 1068.5,502.2 1068.6,503.1 1068.7,504.2 1068.8,505.3 1068.9,506.3 1069.0,507.1 1069.1,508.1 1069.2,508.9 1069.3,510.1 1069.3,511.3 1069.4,511.7 1069.5,512.8 1069.6,514.2 1069.7,514.5 1069.8,515.9 1069.9,517.0 1070.0,518.0 1070.1,518.8 1070.2,519.5 1070.3,520.4 1070.4,521.6 1070.5,522.7 1070.6,523.2 1070.7,524.2 1070.8,525.1 1070.9,526.3 1071.0,527.4 1071.1,528.2 1071.2,529.0 1071.3,530.4 1071.4,530.9 1071.4,531.9 1071.5,533.3 1071.6,534.3 1071.7,534.9 1071.8,535.9 1071.9,536.9 1072.0,537.7 1072.1,538.6 1072.1,539.5 1072.2,540.8 1072.3,541.5 1072.4,542.3 1072.4,543.7 1072.5,544.5 1072.5,545.6 1072.6,546.8 1072.7,547.7 1072.7,548.4 1072.8,549.8 1072.8,550.4 1072.9,551.8 1073.0,552.5 1073.0,553.5 1073.1,554.6 1073.2,555.4 1073.2,556.9 1073.3,557.8 1073.4,558.4 1073.5,559.6 1073.5,560.5 1073.6,561.3 1073.7,562.4 1073.8,563.2 1073.9,563.9 1074.0,565.1 1074.1,566.2 1074.3,567.2 1074.4,568.0 1074.6,568.9 1074.7,569.7 1074.9,571.3 1075.1,571.9 1075.2,573.0 1075.4,573.6 1075.6,574.5 1075.7,575.9 1075.9,576.9 1076.1,577.6 1076.2,578.6 1076.4,579.7 1076.6,580.0 1076.7,581.0 1076.9,582.0 1077.0,583.3 1077.1,583.7 1077.3,585.1 1077.4,585.7 1077.6,586.7 1077.7,588.0 1077.8,589.2 1077.9,590.0 1078.1,590.8 1078.2,591.9 1078.3,593.2 1078.4,594.2 1078.5,595.1 1078.7,595.7 1078.8,596.6 1078.9,597.0 1079.0,597.9 1079.2,599.3 1079.3,600.5 1079.5,601.4 1079.6,602.2 1079.8,603.1 1080.0,602.9 1080.2,602.6 1080.4,601.9 1080.6,601.4 1080.9,600.1 1081.1,599.1 1081.4,598.1 1081.6,596.8 1081.8,596.0 1082.0,594.9 1082.2,593.9 1082.4,592.8 1082.6,591.4 1082.8,591.2 1083.0,590.4 1083.2,591.0 1083.3,591.4 1083.5,592.3 1083.6,593.5 1083.8,594.5 1084.0,596.0 1084.2,597.1 1084.3,597.7 1084.5,598.3 1084.7,599.6 1084.9,600.1 1085.1,600.8 1085.3,602.1 1085.4,603.2 1085.6,603.8 1085.8,605.2 1086.0,605.7 1086.2,606.9 1086.3,607.6 1086.5,608.4 1086.7,610.0 1086.8,610.8 1087.0,611.5 1087.2,612.5 1087.3,613.4 1087.5,614.6 1087.7,615.4 1087.8,616.5 1088.0,616.9 1088.2,618.0 1088.5,619.2 1088.7,620.6 1088.9,621.4 1089.2,622.0 1089.6,622.5 1090.2,622.1 1090.8,622.0 1091.5,621.0 1092.1,620.4 1092.8,619.7 1093.5,619.5 1094.1,619.0 1094.9,617.9 1095.6,617.4 1096.5,617.2 1097.3,616.7 1098.1,616.1 1098.8,615.1 1099.3,614.4 1099.9,613.8 1100.4,613.3 1100.9,612.3 1101.4,611.4 1101.9,610.5 1102.4,609.7 1102.8,609.0 1103.3,607.9 1103.7,606.7 1104.1,605.9 1104.5,604.9 1104.8,604.1 1105.1,603.7 1105.4,602.4 1105.7,601.5 1106.0,600.5 1106.3,599.7 1106.5,598.9 1106.8,598.1 1107.0,596.8 1107.3,596.1 1107.5,594.6 1107.8,594.1 1108.0,592.5 1108.2,591.8 1108.4,591.0 1108.6,590.2 1108.7,589.4 1108.9,588.7 1109.0,587.7 1109.2,586.7 1109.3,585.4 1109.5,584.4 1109.6,583.6 1109.8,582.6 1109.9,581.7 1110.1,581.0 1110.2,579.7 1110.4,578.7 1110.5,578.2 1110.7,576.6 1110.8,576.0 1111.0,575.1 1111.2,574.3 1111.3,573.0 1111.5,572.2 1111.7,571.5 1111.8,570.3 1112.0,569.5 1112.2,568.4 1112.3,567.3 1112.5,566.5 1112.7,565.8 1112.9,564.6 1113.1,563.8 1113.2,562.4 1113.4,561.5 1113.6,560.9 1113.8,560.0 1114.0,558.5 1114.1,557.9 1114.3,556.9 1114.5,555.7 1114.7,554.9 1114.8,553.5 1115.0,552.8 1115.2,552.3 1115.3,551.1 1115.5,550.2 1115.6,549.2 1115.8,548.1 1116.0,547.6 1116.1,546.2 1116.3,545.2 1116.4,544.2 1116.6,543.5 1116.7,542.3 1116.9,541.4 1117.1,540.3 1117.2,539.5 1117.4,538.2 1117.5,537.9 1117.7,536.5 1117.8,536.0 1118.0,534.6 1118.1,533.8 1118.3,533.2 1118.4,531.8 1118.6,531.0 1118.7,530.1 1118.9,529.5 1119.1,528.1 1119.2,527.5 1119.4,526.5 1119.5,525.6 1119.7,524.5 1119.8,523.2 1120.0,522.2 1120.1,521.8 1120.3,520.9 1120.4,519.6 1120.6,518.5 1120.8,518.0 1120.9,516.8 1121.1,515.8 1121.2,515.3 1121.4,514.1 1121.5,512.9 1121.7,511.9 1121.9,511.6 1122.0,510.3 1122.2,509.1 1122.4,508.4 1122.6,507.8 1122.7,506.6 1122.9,505.4 1123.1,504.8 1123.3,504.0 1123.5,503.1 1123.7,501.6 1123.9,500.7 1124.1,500.0 1124.3,498.9 1124.5,498.3 1124.7,497.4 1124.8,496.5 1125.0,495.3 1125.2,494.1 1125.4,493.4 1125.6,492.2 1125.8,491.4 1126.0,490.7 1126.2,489.8 1126.4,488.5 1126.6,487.9 1126.8,486.9 1126.9,485.8 1127.1,484.8 1127.3,483.9 1127.5,483.1 1127.7,482.4 1127.9,480.8 1128.1,480.5 1128.2,479.5 1128.4,478.3 1128.6,477.0 1128.8,476.1 1129.0,475.7 1129.2,474.5 1129.4,473.5 1129.5,472.7 1129.7,471.5 1129.9,470.6 1130.1,469.9 1130.3,469.1 1130.5,468.3 1130.7,467.3 1130.9,466.3 1131.1,465.5 1131.3,464.0 1131.4,463.7 1131.6,462.1 1131.8,461.7 1132.0,460.6 1132.2,459.8 1132.4,458.9 1132.6,458.0 1132.8,456.7 1133.0,456.1 1133.2,454.9 1133.4,454.3 1133.6,453.1 1133.7,452.0 1133.9,451.0 1134.1,449.7 1134.2,449.5 1134.4,448.1 1134.5,447.1 1134.7,446.5 1134.8,445.3 1135.0,444.8 1135.1,443.9 1135.2,442.7 1135.4,441.6 1135.5,440.4 1135.6,439.5 1135.8,438.4 1135.9,437.4 1136.1,436.8 1136.2,435.4 1136.3,434.4 1136.5,433.7 1136.6,432.6 1136.7,431.5 1136.8,430.5 1137.0,429.3 1137.1,428.6 1137.2,427.3 1137.3,426.6 1137.5,425.4 1137.6,424.9 1137.7,423.6 1137.8,423.0 1138.0,421.5 1138.1,421.3 1138.2,420.0 1138.3,419.5 1138.4,418.4 1138.6,416.8 1138.7,415.7 1138.9,414.7 1139.0,413.8 1139.1,412.7 1139.2,412.1 1139.4,410.8 1139.5,409.9 1139.6,408.8 1139.7,407.8 1139.8,406.6 1140.0,405.9 1140.1,405.2 1140.2,403.9 1140.4,403.3 1140.5,402.1 1140.6,401.3 1140.8,400.0 1140.9,399.5 1141.1,398.6 1141.2,397.5 1141.4,396.6 1141.6,395.2 1141.7,394.6 1141.9,393.1 1142.0,392.5 1142.2,391.4 1142.4,390.7 1142.6,389.5 1142.8,388.6 1143.0,387.6 1143.3,386.9 1143.5,386.5 1143.9,385.4 1144.3,384.4 1144.7,383.9 1145.1,382.8 1145.6,381.7 1146.0,380.9 1146.5,380.2 1147.0,380.0 1147.5,379.3 1148.1,378.7 1148.6,377.5 1149.1,377.2 1149.5,375.9 1149.7,375.1 1149.9,374.5 1150.1,373.5 1150.2,372.8 1150.3,371.8 1150.4,371.1 1150.5,370.0 1150.6,369.2 1150.7,367.9 1150.8,367.3 1150.9,366.3 1150.9,364.7 1151.0,364.2 1151.1,362.6 1151.2,361.6 1151.4,360.8 1151.5,360.1 1151.7,358.8 1151.8,358.0 1152.0,356.9 1152.2,356.4 1152.4,355.1 1152.6,354.1 1152.8,353.3 1153.0,352.1 1153.2,351.2 1153.4,350.1 1153.7,349.4 1153.9,348.5 1154.1,347.4 1154.3,346.8 1154.5,345.4 1154.7,344.7 1154.8,343.7 1155.0,342.8 1155.2,341.6 1155.3,341.1 1155.4,340.1 1155.5,339.3 1155.6,338.2 1155.6,336.9 1155.7,335.8 1155.7,335.2 1155.7,334.5 1155.8,332.9 1155.8,332.1 1155.8,331.0 1155.8,330.2 1155.8,329.2 1155.8,328.5 1155.8,327.5 1155.9,326.4 1155.9,325.6 1156.0,325.1 1156.1,323.9 1156.2,322.8 1156.4,322.4 1156.5,321.1 1156.7,320.6 1156.8,319.5 1157.0,318.4 1157.1,317.5 1157.3,316.6 1157.5,315.7 1157.7,314.9 1157.8,313.4 1158.0,312.9 1158.1,311.4 1158.3,311.0 1158.4,310.2 1158.5,308.7 1158.7,308.3 1158.8,307.2 1159.0,306.1 1159.1,305.2 1159.2,303.9 1159.4,303.2 1159.5,302.1 1159.7,301.3 1159.8,300.1 1160.0,298.8 1160.1,298.1 1160.3,297.1 1160.4,295.9 1160.6,294.9 1160.7,293.7 1160.9,293.3 1161.0,291.7 1161.1,291.0 1161.3,290.2 1161.4,289.2 1161.6,288.2 1161.7,287.3 1161.8,286.4 1162.0,285.4 1162.1,284.3 1162.3,283.4 1162.4,282.7 1162.6,281.7 1162.7,280.2 1162.8,279.5 1163.0,278.5 1163.1,277.4 1163.3,276.9 1163.4,275.5 1163.6,274.5 1163.7,273.9 1163.9,272.8 1164.0,271.7 1164.2,271.2 1164.3,270.3 1164.5,268.9 1164.6,268.4 1164.8,266.9 1164.9,265.9 1165.1,265.3 1165.2,264.1 1165.4,263.5 1165.5,262.2 1165.7,261.0 1165.8,260.0 1166.0,259.1 1166.2,258.6 1166.3,257.2 1166.5,256.9 1166.7,255.8 1166.8,254.8 1167.0,254.0 1167.2,253.1 1167.4,251.8 1167.6,251.2 1167.8,249.7 1168.1,248.7 1168.3,248.1 1168.5,247.2 1168.7,246.1 1169.0,245.3 1169.2,244.3 1169.5,243.3 1169.7,242.7 1170.0,241.9 1170.3,240.5 1170.7,240.0 1171.0,238.8 1171.4,237.7 1171.8,237.1 1172.2,236.3 1172.6,235.1 1172.9,234.5 1173.3,233.5 1173.7,232.3 1174.0,231.1 1174.3,227.8 1174.6,227.3 1174.9,227.0 1175.1,228.0 1175.4,227.9 1175.6,226.3 1175.9,225.2 1176.1,223.9 1176.4,224.6 1176.7,224.3 1177.0,218.2 1177.3,220.0 1177.6,218.7 1178.0,220.5 1178.3,217.8 1178.6,215.4 1179.0,212.3 1179.3,215.9 1179.7,210.4 1180.0,211.9 1180.4,208.4 1180.7,207.8 1181.0,208.2 1181.3,212.8 1181.6,211.5 1182.0,212.4 1182.3,209.5 1182.6,214.7 1182.9,214.9 1183.2,216.6 1183.5,217.0 1183.7,218.3 1184.0,216.3 1184.2,219.1 1184.4,220.0 1184.6,222.8 1184.7,220.8 1184.9,224.7 1185.1,224.7 1185.3,222.5 1185.4,222.9 1185.6,227.0 1185.7,226.7 1185.9,229.6 1186.1,227.5 1186.2,231.6 1186.3,229.3 1186.5,231.8 1186.6,233.4 1186.7,234.6 1186.9,235.6 1187.0,236.3 1187.1,237.3 1187.2,237.8 1187.2,239.2 1187.3,239.6 1187.4,240.4 1187.4,241.5 1187.5,242.1 1187.6,243.4 1187.6,243.8 1187.7,244.7 1187.7,245.8 1187.8,246.6 1187.8,247.9 1187.9,248.9 1187.9,249.5 1188.0,250.5 1188.0,251.8 1188.1,252.9 1188.1,253.7 1188.1,254.9 1188.2,255.7 1188.2,257.1 1188.2,257.9 1188.3,258.9 1188.3,260.1 1188.4,260.8 1188.4,262.3 1188.4,263.1 1188.5,264.1 1188.5,265.2 1188.5,266.4 1188.6,267.5 1188.6,268.3 1188.6,269.5 1188.7,270.6 1188.7,271.7 1188.7,272.5 1188.8,273.5 1188.8,275.0 1188.8,275.6 1188.9,276.7 1188.9,277.9 1189.0,279.2 1189.0,279.9 1189.0,281.0 1189.1,281.6 1189.1,282.5 1189.2,284.1 1189.2,284.9 1189.2,285.9 1189.3,286.7 1189.3,287.5 1189.4,288.5 1189.4,289.5 1189.4,290.1 1189.5,291.5 1189.5,292.2 1189.6,293.4 1189.6,294.6 1189.6,295.4 1189.7,296.4 1189.7,297.1 1189.8,298.1 1189.8,299.4 1189.8,300.4 1189.9,300.8 1189.9,302.0 1190.0,303.3 1190.0,304.1 1190.0,305.1 1190.1,306.0 1190.1,306.8 1190.2,308.0 1190.2,308.5 1190.2,309.5 1190.3,310.5 1190.3,311.5 1190.4,313.0 1190.4,314.0 1190.4,314.6 1190.5,316.0 1190.5,316.5 1190.5,317.6 1190.6,319.0 1190.6,320.1 1190.7,320.6 1190.7,321.5 1190.7,323.1 1190.8,324.2 1190.8,324.8 1190.8,325.6 1190.9,326.8 1190.9,327.6 1191.0,328.7 1191.0,330.3 1191.0,330.7 1191.1,332.1 1191.1,332.5 1191.1,334.1 1191.2,334.5 1191.2,335.4 1191.2,336.3 1191.3,337.4 1191.3,338.6 1191.3,339.3 1191.4,340.2 1191.4,341.2 1191.4,342.1 1191.5,343.5 1191.5,344.0 1191.5,345.6 1191.6,346.5 1191.6,347.3 1191.6,348.6 1191.7,349.3 1191.7,350.3 1191.7,350.9 1191.7,352.4 1191.8,353.0 1191.8,354.0 1191.8,355.4 1191.9,356.3 1191.9,357.1 1191.9,357.9 1192.0,359.3 1192.0,359.8 1192.0,361.3 1192.1,362.2 1192.1,363.3 1192.1,363.9 1192.2,365.4 1192.2,366.0 1192.2,367.4 1192.2,368.2 1192.3,369.4 1192.3,370.4 1192.3,370.7 1192.4,372.1 1192.4,373.2 1192.4,374.4 1192.5,375.4 1192.5,376.2 1192.5,377.4 1192.6,378.4 1192.6,379.3 1192.6,379.8 1192.7,380.7 1192.7,382.0 1192.7,383.1 1192.7,384.2 1192.8,385.0 1192.8,385.9 1192.8,387.0 1192.9,387.7 1192.9,389.0 1192.9,390.0 1193.0,390.7 1193.0,391.7"/>
<path stroke="#ffa64d" d="M140.0,132.3 140.9,136.9 141.8,136.9 142.7,135.0 143.6,137.8 144.5,137.7 145.4,135.8 146.3,135.9 147.2,135.9 148.1,135.5 149.0,131.2 149.9,136.7 150.8,135.8 151.7,132.6 152.6,136.9 153.5,135.2 154.4,130.9 155.3,131.9 156.2,135.2 157.1,133.1 158.0,131.5 158.9,130.9 159.8,134.6 160.7,136.3 161.6,137.3 162.5,131.4 163.4,132.6 164.3,132.7 165.2,134.2 166.1,131.1 167.0,137.1 167.9,130.6 168.8,133.8 169.7,137.1 170.6,134.4 171.5,133.8 172.4,133.4 173.3,135.2 174.2,134.3 175.1,135.5 176.0,135.2 176.9,135.2 177.8,134.1 178.7,136.8 179.6,131.7 180.5,133.3 181.4,131.2 182.3,134.8 183.2,136.9 184.1,135.1 185.0,131.7 185.9,136.2 186.8,130.1 187.7,135.1 188.6,133.6 189.5,130.3 190.4,130.2 191.3,130.8 192.2,135.7 193.1,130.2 194.0,132.5 194.9,133.1 195.8,131.8 196.7,129.7 197.6,130.1 198.5,134.9 199.4,129.7 200.4,136.1 201.3,135.1 202.2,130.6 203.1,130.6 204.0,133.1 204.9,130.3 205.8,133.5 206.7,130.2 207.6,136.0 208.5,134.8 209.4,129.9 210.3,130.6 211.2,133.0 212.1,130.7 213.0,132.1 213.9,135.3 214.8,136.3 215.7,130.4 216.6,131.0 217.5,134.8 218.4,132.4 219.3,132.6 220.2,132.7 221.1,134.0 222.0,129.0 222.9,130.2 223.8,129.6 224.7,133.1 225.6,132.9 226.5,128.6 227.4,129.8 228.3,128.9 229.2,135.1 230.1,129.2 231.0,130.1 231.9,134.1 232.8,134.9 233.7,129.6 234.6,133.3 235.5,130.4 236.4,128.7 237.3,129.0 238.2,130.4 239.1,128.1 240.0,134.1 240.9,133.7 241.8,133.6 242.7,128.6 243.6,134.0 244.5,131.6 245.4,128.1 246.3,131.8 247.2,130.3 248.1,131.1 249.0,127.9 249.9,133.4 250.8,133.7 251.7,133.1 252.6,128.3 253.5,127.7 254.4,131.9 255.3,132.8 256.2,130.1 257.1,132.9 258.0,130.8 258.8,131.1 259.7,129.7 260.6,129.6 261.5,136.0 262.4,127.0 263.3,127.8 264.2,130.3 265.1,127.1 266.0,127.5 266.9,131.6 267.8,129.2 268.7,131.7 269.6,131.4 270.5,129.7 271.4,129.3 272.3,128.3 273.2,130.9 274.1,126.8 275.0,130.7 275.9,127.4 276.8,125.7 277.7,128.0 278.6,128.1 279.5,129.6 280.4,126.5 281.3,128.6 282.2,128.1 283.1,128.2 284.0,127.7 284.9,131.0 285.8,127.0 286.7,126.1 287.6,128.8 288.5,126.0 289.4,131.9 290.3,127.4 291.2,125.4 292.1,130.2 293.0,126.0 293.9,129.6 294.8,131.5 295.7,131.2 296.6,126.3 297.5,126.0 298.4,127.8 299.3,128.5 300.2,130.7 301.1,132.8 302.0,126.8 302.9,128.4 303.8,130.0 304.7,130.9 305.6,130.7 306.5,128.1 307.4,129.7 308.3,128.9 309.2,126.6 310.1,127.3 311.0,130.2 311.9,132.6 312.8,128.7 313.7,128.2 314.6,127.0 315.5,132.6 316.4,127.2 317.3,127.8 318.2,133.0 319.1,128.1 320.0,129.4 320.9,126.9 321.8,127.2 322.7,128.1 323.6,131.8 324.5,129.3 325.4,128.1 326.3,131.5 327.2,127.9 328.1,128.5 329.0,129.6 329.9,129.7 330.8,133.3 331.7,133.3 332.6,131.6 333.5,128.8 334.4,131.9 335.3,130.6 336.2,133.4 337.1,127.1 338.0,131.8 338.9,131.6 339.8,127.3 340.7,127.1 341.6,127.3 342.5,133.5 343.4,130.5 344.3,129.5 345.2,131.7 346.1,132.6 347.0,127.6 347.9,131.0 348.8,131.4 349.7,130.2 350.7,128.0 351.6,133.1 352.5,127.1 353.4,133.1 354.3,130.5 355.2,131.8 356.1,129.9 357.0,129.8 357.9,128.2 358.8,128.7 359.7,129.7 360.6,129.6 361.5,128.6 362.4,133.8 363.3,128.3 364.2,127.9 365.1,129.5 366.0,130.3 366.9,130.6 367.8,132.2 368.7,130.6 369.6,132.1 370.5,131.9 371.4,133.3 372.3,128.9 373.2,128.9 374.1,128.6 375.0,133.6 375.9,131.3 376.8,127.8 377.7,133.0 378.6,128.6 379.5,129.2 380.4,129.0 381.3,130.9 382.2,132.7 383.1,132.5 384.0,132.2 384.9,132.8 385.8,129.8 386.7,128.1 387.6,131.9 388.5,128.4 389.4,134.2 390.3,133.6 391.2,130.6 392.1,131.8 393.0,132.8 393.9,131.8 394.8,133.6 395.7,134.3 396.6,131.8 397.5,130.6 398.4,130.1 399.3,127.9 400.2,133.5 401.1,132.1 402.0,127.7 402.9,128.0 403.8,130.1 404.7,133.8 405.6,136.9 406.5,134.4 407.4,130.2 408.3,130.8 409.2,133.1 410.1,130.2 411.0,132.7 411.9,128.9 412.8,131.7 413.7,136.4 414.6,134.4 415.5,133.4 416.4,128.9 417.3,128.9 418.2,129.4 419.1,131.0 420.0,133.7 420.9,128.2 421.8,130.0 422.7,132.3 423.6,129.0 424.5,128.9 425.4,133.6 426.3,129.0 427.2,131.8 428.1,135.2 429.0,130.6 429.9,132.8 430.8,133.0 431.7,132.7 432.6,134.0 433.5,131.7 434.4,132.4 435.3,129.9 436.2,131.6 437.1,133.9 438.0,133.6 438.9,130.0 439.8,132.3 440.8,129.1 441.7,131.5 442.6,131.2 443.5,134.3 444.4,128.2 445.3,133.2 446.2,130.9 447.1,129.4 448.0,131.6 448.9,133.8 449.8,133.2 450.7,128.4 451.6,134.0 452.5,130.2 453.4,128.9 454.3,132.1 455.2,131.9 456.1,133.9 457.0,129.5 457.9,128.2 458.8,127.7 459.7,130.2 460.6,131.0 461.5,132.1 462.4,131.9 463.3,128.2 464.2,128.2 465.1,130.6 466.0,130.1 466.9,126.4 467.8,128.4 468.7,132.2 469.6,132.1 470.5,133.1 471.4,129.1 472.3,129.5 473.2,128.0 474.1,133.7 475.0,132.1 475.9,132.0 476.8,130.4 477.7,127.3 478.6,133.7 479.5,131.1 480.4,134.2 481.3,129.1 482.2,132.9 483.1,130.0 484.0,130.9 484.9,130.4 485.8,129.1 486.7,129.4 487.6,134.0 488.5,133.3 489.4,133.9 490.3,128.8 491.2,128.1 492.1,132.7 493.0,128.6 493.9,129.8 494.8,132.8 495.7,131.6 496.6,133.1 497.5,129.5 498.4,129.6 499.3,133.2 500.2,130.8 501.1,129.7 502.0,130.2 502.9,132.1 503.8,131.9 504.7,128.4 505.6,133.9 506.5,133.1 507.4,130.1 508.3,127.7 509.2,133.3 510.1,130.2 511.0,131.5 511.9,128.3 512.8,128.2 513.7,129.2 514.6,132.3 515.5,132.7 516.4,130.0 517.3,132.0 518.2,131.9 519.1,131.8 520.0,128.1 520.9,132.7 521.8,129.1 522.7,132.7 523.6,132.1 524.5,133.1 525.4,128.2 526.3,129.0 527.2,133.3 528.1,127.7 529.0,131.2 529.9,127.9 530.8,126.9 531.7,129.1 532.6,129.4 533.5,132.9 534.4,129.7 535.3,128.7 536.3,130.3 537.2,127.0 538.1,127.4 539.0,132.9 539.9,131.8 540.8,133.1 541.7,126.4 542.6,132.7 543.5,132.1 544.4,130.3 545.3,133.0 546.2,132.9 547.1,132.5 548.0,126.1 548.9,129.9 549.8,132.7 550.7,128.2 551.6,131.3 552.5,130.3 553.4,130.2 554.3,129.9 555.2,127.0 556.1,126.0 557.0,127.4 557.9,131.6 558.8,126.3 559.7,126.0 560.6,128.2 561.5,130.4 562.4,127.5 563.3,130.7 564.2,131.2 565.1,128.3 566.0,132.9 566.9,127.1 567.8,128.6 568.7,134.5 569.6,130.7 570.5,131.0 571.4,132.3 572.3,128.2 573.2,125.8 574.1,129.9 575.0,128.0 575.9,131.5 576.8,132.0 577.7,128.7 578.6,132.1 579.5,128.2 580.4,130.9 581.3,131.0 582.2,130.6 583.1,128.8 584.0,134.7 584.9,129.5 585.8,126.3 586.7,126.0 587.6,127.8 588.5,128.0 589.4,130.0 590.3,130.6 591.2,127.4 592.1,129.2 593.0,126.5 593.9,125.8 594.8,128.6 595.7,129.1 596.6,128.9 597.5,124.7 598.4,131.1 599.3,129.8 600.2,130.9 601.1,134.2 602.0,125.4 602.9,128.6 603.8,125.3 604.7,128.6 605.6,130.6 606.5,128.1 607.4,124.7 608.3,128.7 609.2,130.3 610.1,129.7 611.0,130.2 611.9,124.2 612.8,129.8 613.7,126.1 614.6,123.1 615.5,126.0 616.4,123.8 617.3,125.2 618.2,127.0 619.1,123.0 620.0,124.0 620.9,124.0 621.7,128.8 622.6,128.4 623.5,126.4 624.4,128.8 625.3,123.3 626.2,128.8 627.1,128.0 628.0,123.3 628.9,124.7 629.8,124.4 630.7,124.2 631.6,127.9 632.5,123.4 633.4,124.1 634.3,123.0 635.2,126.0 636.1,125.5 637.0,129.4 637.9,127.1 638.8,127.8 639.7,124.4 640.6,123.2 641.5,125.9 642.4,122.4 643.3,122.4 644.2,126.7 645.1,126.1 646.0,121.8 646.9,121.6 647.8,127.2 648.7,127.2 649.6,126.9 650.5,125.9 651.4,122.4 652.3,126.4 653.2,121.3 654.1,124.2 655.0,122.7 655.9,126.1 656.8,121.1 657.7,121.4 658.6,121.5 659.5,118.1 660.4,126.2 661.3,127.3 662.2,126.3 663.1,123.1 664.0,126.0 664.9,123.1 665.8,123.0 666.6,120.2 667.5,123.3 668.4,124.1 669.3,121.2 670.2,119.2 671.1,118.9 672.0,125.6 672.9,120.5 673.8,124.8 674.7,121.1 675.6,120.6 676.5,124.2 677.4,119.1 678.2,121.6 679.1,120.5 680.0,124.5 680.9,121.9 681.8,122.5 682.7,117.9 683.6,119.8 684.5,119.8 685.3,116.9 686.0,121.7 686.7,122.2 687.4,120.6 688.1,119.5 688.8,116.2 689.5,115.5 690.2,111.9 690.9,112.0 691.6,111.8 692.3,115.3 693.0,111.8 693.8,113.4 694.6,108.2 695.4,115.9 696.2,107.3 697.0,114.1 697.8,107.9 698.6,108.4 699.4,107.0 700.3,108.3 701.1,113.8 701.9,111.6 702.7,107.2 703.6,112.9 704.4,104.8 705.2,106.2 706.0,106.6 706.9,103.4 707.7,103.4 708.5,103.6 709.4,109.9 710.2,105.6 711.1,106.6 711.9,105.7 712.8,103.5 713.6,100.9 714.5,109.4 715.3,107.8 716.2,104.4 717.1,104.7 717.4,103.0 717.5,102.2 717.6,101.1 717.8,100.9 717.9,99.1 718.0,99.6 718.1,97.4 718.6,97.7 719.5,97.3 719.9,98.4 720.0,98.4 720.1,99.4 720.2,100.0 720.3,101.4 720.4,102.7 720.5,105.5 720.6,106.0 720.9,107.0 721.5,103.2 722.1,110.4 722.7,107.0 723.3,109.1 723.9,105.3 724.5,109.6 725.1,105.4 725.7,106.0 726.3,115.9 727.0,111.6 727.6,115.9 728.2,108.7 729.0,114.3 729.8,109.5 730.7,107.7 731.5,111.6 732.3,118.3 733.1,117.8 734.0,111.0 734.8,119.0 735.7,112.9 736.6,113.2 737.5,111.2 738.4,115.7 739.2,110.8 740.1,118.7 741.0,110.1 741.8,111.3 742.7,108.7 743.5,107.8 744.4,113.7 745.2,112.7 746.1,114.6 746.9,111.1 747.7,106.5 748.5,112.5 749.3,111.6 750.0,111.2 750.8,105.3 751.6,106.0 752.4,109.2 753.2,109.7 754.0,107.7 754.9,106.7 755.8,110.9 756.6,111.6 757.5,104.3 758.4,103.3 759.2,111.2 760.1,101.6 760.9,100.9 761.7,106.2 762.3,105.0 762.5,103.8 762.6,103.0 762.8,101.7 762.9,100.4 763.1,100.4 763.3,100.0 764.2,98.9 764.8,99.5 765.0,100.4 765.1,101.2 765.2,102.8 765.3,102.9 765.5,104.6 765.6,105.3 765.7,105.6 766.3,104.3 766.8,108.9 767.4,109.0 767.9,105.1 768.8,106.7 769.7,106.9 770.6,109.5 771.5,104.9 772.4,108.6 773.2,107.9 774.1,111.2 775.0,112.2 775.8,109.7 776.6,110.4 777.4,105.1 778.2,108.1 779.1,106.8 779.9,105.6 780.7,107.5 781.6,112.4 782.4,115.9 783.3,116.0 784.1,111.5 785.0,113.8 785.8,114.3 786.7,115.5 787.5,110.8 788.4,109.3 789.2,114.0 790.1,112.4 790.9,115.8 791.8,113.2 792.7,114.5 793.6,116.7 794.4,115.0 795.3,113.5 796.2,116.2 797.1,116.7 797.9,114.6 798.8,117.1 799.7,117.5 800.6,115.2 801.5,115.2 802.4,115.9 803.3,116.8 804.2,118.1 805.1,115.0 806.0,117.2 806.9,115.4 807.8,117.5 808.7,119.0 809.6,115.5 810.4,118.8 811.3,117.8 812.2,116.4 813.1,117.8 814.0,118.7 814.9,116.4 815.8,119.2 816.7,118.0 817.6,117.3 818.5,116.1 819.4,116.3 820.3,116.2 821.2,117.8 822.1,119.5 823.0,117.2 823.9,118.2 824.8,118.7 825.7,116.9 826.6,118.9 827.5,118.9 828.4,118.7 829.3,118.7 830.2,118.4 831.1,117.2 832.0,116.0 832.9,119.5 833.8,119.3 834.7,115.8 835.6,115.9 836.5,118.7 837.4,116.6 838.3,118.1 839.2,117.8 840.2,116.4 841.1,118.3 842.0,116.1 842.9,115.7 843.8,116.2 844.7,116.4 845.6,117.1 846.5,116.7 847.4,116.0 848.3,119.0 849.2,117.0 850.1,118.0 851.0,115.8 851.9,116.2 852.8,115.7 853.7,117.1 854.6,116.7 855.5,117.5 856.4,116.2 857.3,118.8 858.2,118.8 859.1,117.5 860.0,118.4 860.9,117.0 861.8,117.7 862.7,116.1 863.6,118.3 864.5,115.5 865.4,117.2 866.3,115.4 867.2,118.6 868.1,118.2 869.0,116.2 869.9,115.0 870.8,116.3 871.7,118.3 872.6,115.9 873.5,115.0 874.4,115.0 875.3,115.3 876.2,114.7 877.1,116.0 878.0,117.0 878.9,114.8 879.8,115.7 880.7,115.8 881.6,114.6 882.5,117.5 883.4,116.6 884.3,115.6 885.1,115.4 886.0,114.7 886.9,115.6 887.8,114.1 888.7,115.9 889.6,114.1 890.5,115.0 891.4,115.3 892.3,114.9 893.2,116.0 894.1,114.4 895.0,116.3 895.9,114.0 896.8,115.0 897.7,112.9 898.6,114.0 899.5,114.0 900.4,114.0 901.3,113.7 902.2,112.7 903.1,114.6 904.0,112.6 904.9,115.4 905.8,113.2 906.7,112.8 907.6,113.4 908.5,114.0 909.4,112.4 910.3,115.5 911.2,114.9 912.1,114.2 913.0,113.1 913.9,112.9 914.8,111.7 915.7,115.3 916.6,112.2 917.5,112.6 918.4,113.3 919.3,115.0 920.2,113.9 921.1,111.7 922.0,112.7 922.9,114.5 923.8,114.1 924.7,112.2 925.6,113.6 926.5,113.6 927.4,112.5 928.3,114.6 929.2,113.9 930.1,115.4 931.0,114.7 931.9,113.9 932.8,112.6 933.7,114.6 934.6,113.7 935.5,113.8 936.4,113.3 937.3,111.8 938.2,112.9 939.1,111.3 940.0,114.3 940.9,112.0 941.8,110.9 942.7,111.4 943.6,111.6 944.5,111.2 945.4,111.4 946.3,111.3 947.2,112.8 948.1,111.5 949.0,113.2 949.9,110.9 950.8,114.2 951.7,112.2 952.6,111.3 953.5,112.8 954.4,113.7 955.3,111.0 956.2,111.2 957.1,111.1 958.0,113.4 958.9,112.5 959.8,113.4 960.7,113.1 961.6,110.3 962.5,113.3 963.4,113.9 964.3,110.8 965.2,112.8 966.1,112.1 967.0,110.7 967.9,110.6 968.8,113.6 969.7,112.1 970.6,112.0 971.5,112.1 972.4,110.8 973.3,110.4 974.2,111.0 975.1,112.0 976.0,112.5 976.9,112.2 977.7,111.1 978.6,113.0 979.5,111.8 980.4,112.7 981.3,111.7 982.1,113.6 983.0,114.8 983.9,114.4 984.8,114.4 985.6,116.3 986.5,116.0 987.3,115.1 988.2,114.8 989.0,114.9 989.9,114.8 990.7,115.7 991.6,115.5 992.5,118.2 993.2,117.9 993.9,116.7 994.5,120.1 995.1,117.9 995.7,121.6 996.4,120.1 997.0,119.3 997.6,121.7 998.2,122.9 998.9,121.8 999.5,124.6 1004.8,134.1 1005.0,135.4 1005.3,136.2 1005.5,137.0 1005.7,138.2 1006.0,138.8 1006.2,139.6 1006.5,141.0 1006.7,141.7 1006.9,142.6 1007.2,143.5 1007.4,144.5 1007.6,145.3 1007.9,146.2 1008.1,147.4 1008.3,148.4 1008.5,149.2 1008.7,149.7 1008.9,151.3 1009.1,152.2 1009.3,153.0 1009.5,154.3 1009.8,154.8 1009.9,156.3 1010.1,157.0 1010.3,158.2 1010.5,159.3 1010.7,160.2 1010.9,160.9 1011.1,161.8 1011.2,162.7 1011.4,163.4 1011.6,164.1 1011.8,165.4 1012.0,166.5 1012.2,168.1 1012.4,168.8 1012.6,169.6 1012.9,169.5 1013.3,168.9 1013.6,168.6 1014.1,167.7 1014.5,166.7 1015.0,165.4 1015.5,164.4 1016.1,163.9 1016.7,162.5 1017.4,161.8 1018.0,160.9 1018.7,160.5 1019.3,159.9 1019.9,159.9 1020.4,160.7 1021.0,161.7 1021.5,162.7 1022.0,163.2 1022.5,163.8 1022.9,164.7 1023.3,165.8 1023.8,166.6 1024.2,167.8 1024.6,168.5 1024.9,169.6 1025.2,169.9 1025.5,171.1 1025.8,172.0 1026.1,172.9 1026.3,173.4 1026.6,174.6 1026.9,175.6 1027.2,176.9 1027.5,177.8 1027.8,178.6 1028.0,179.5 1028.3,180.5 1028.5,181.8 1028.7,182.4 1028.9,183.5 1029.0,184.6 1029.2,185.3 1029.3,186.1 1029.4,187.5 1029.6,188.5 1029.7,189.3 1029.8,190.4 1030.0,191.1 1030.1,192.2 1030.2,192.8 1030.4,194.1 1030.6,195.3 1030.8,196.0 1031.0,197.0 1031.2,198.0 1031.4,198.9 1031.7,199.9 1032.0,200.9 1032.2,201.6 1032.5,202.6 1032.8,203.7 1033.2,204.6 1033.5,205.0 1033.8,206.5 1034.1,207.3 1034.5,208.4 1034.8,209.3 1035.2,209.6 1035.5,211.1 1035.9,211.9 1036.2,212.4 1036.5,213.7 1036.9,214.6 1037.2,215.6 1037.5,216.3 1037.8,217.4 1038.1,218.2 1038.4,219.0 1038.8,220.4 1039.1,221.2 1039.4,222.2 1039.7,222.9 1040.0,223.7 1040.3,224.8 1040.6,225.6 1040.9,226.4 1041.2,227.2 1041.5,228.3 1041.8,229.0 1042.1,230.3 1042.4,231.2 1042.7,231.9 1043.0,232.7 1043.3,234.1 1043.6,235.1 1043.9,235.6 1044.2,236.5 1044.5,237.9 1044.8,238.6 1045.1,239.5 1045.4,240.3 1045.7,241.4 1046.0,242.7 1046.3,243.1 1046.6,244.6 1046.9,245.2 1047.2,246.4 1047.5,247.5 1047.8,248.1 1048.0,249.0 1048.3,250.3 1048.6,250.9 1048.8,252.3 1049.1,252.8 1049.3,253.8 1049.6,254.7 1049.8,256.0 1050.1,256.6 1050.3,257.9 1050.6,258.6 1050.8,259.5 1051.0,260.4 1051.2,261.1 1051.5,262.3 1051.7,263.0 1051.9,264.4 1052.1,264.8 1052.3,265.9 1052.5,266.9 1052.7,267.7 1052.8,268.8 1053.0,269.5 1053.2,270.4 1053.3,271.3 1053.5,272.5 1053.6,273.7 1053.8,274.6 1053.9,275.5 1054.1,275.9 1054.2,276.8 1054.4,278.2 1054.5,278.9 1054.7,280.0 1054.8,281.1 1055.0,281.9 1055.2,282.5 1055.3,283.4 1055.5,285.0 1055.7,285.5 1055.9,286.5 1056.1,287.8 1056.3,288.6 1056.5,289.6 1056.7,290.9 1056.8,291.7 1057.0,292.3 1057.2,293.2 1057.4,294.7 1057.6,295.5 1057.7,296.0 1057.9,297.3 1058.1,297.8 1058.2,298.8 1058.4,299.9 1058.5,300.9 1058.6,301.8 1058.7,303.1 1058.9,304.0 1059.0,304.7 1059.1,305.8 1059.2,306.4 1059.3,307.7 1059.5,308.1 1059.6,309.0 1059.8,309.8 1060.0,311.2 1060.2,311.7 1060.4,313.2 1060.7,313.8 1060.9,315.1 1061.2,316.1 1061.5,316.5 1061.8,317.0 1062.2,318.2 1062.8,318.9 1063.5,319.2 1064.2,319.4 1064.9,319.8 1065.5,320.6 1065.8,321.1 1066.1,321.9 1066.3,323.0 1066.5,324.1 1066.6,324.6 1066.8,325.9 1066.9,326.8 1067.0,328.2 1067.1,328.9 1067.2,330.5 1067.3,331.6 1067.5,332.3 1067.7,333.7 1067.8,334.5 1068.0,335.3 1068.2,336.2 1068.3,337.1 1068.5,338.2 1068.7,339.2 1068.8,340.4 1069.0,341.2 1069.2,342.1 1069.4,342.9 1069.5,343.9 1069.7,345.2 1069.9,346.1 1070.1,346.8 1070.3,348.1 1070.5,349.1 1070.7,349.7 1070.9,350.6 1071.0,352.0 1071.2,352.5 1071.4,353.6 1071.6,354.4 1071.8,355.4 1072.1,356.2 1072.3,356.8 1072.5,358.1 1072.8,358.9 1073.1,359.7 1073.5,360.7 1073.9,361.8 1074.3,362.6 1074.7,363.7 1075.1,364.7 1075.5,365.8 1075.9,366.7 1076.3,367.6 1076.7,368.0 1077.2,368.8 1077.7,369.8 1078.2,370.5 1078.7,370.6 1079.2,370.1 1079.6,369.3 1080.1,368.5 1080.5,367.2 1080.8,366.1 1081.1,365.2 1081.4,364.3 1081.7,363.2 1082.0,362.7 1082.3,363.4 1082.7,364.2 1083.0,365.4 1083.3,366.5 1083.5,367.5 1083.7,368.5 1083.9,369.5 1084.1,370.0 1084.3,371.1 1084.6,371.9 1084.9,373.0 1085.2,374.0 1085.5,374.4 1085.8,375.3 1086.2,376.6 1086.6,377.5 1086.9,378.3 1087.3,378.3 1087.9,379.3 1088.6,380.6 1089.3,380.7 1089.9,380.4 1090.5,379.5 1091.2,379.2 1091.9,378.4 1092.6,377.5 1093.3,377.4 1094.1,377.0 1094.9,376.7 1095.7,376.6 1096.5,376.0 1097.1,375.6 1097.7,374.5 1098.3,373.9 1098.8,373.5 1099.4,372.4 1100.0,371.9 1100.6,371.0 1101.2,370.2 1101.8,369.1 1102.4,368.6 1103.1,367.9 1103.7,367.3 1104.4,367.1 1105.1,366.0 1105.8,365.4 1106.5,365.2 1107.1,364.5 1107.7,363.2 1108.3,363.0 1108.8,361.8 1109.3,361.5 1109.8,360.5 1110.3,359.5 1110.7,358.5 1111.1,357.6 1111.6,356.8 1112.0,356.3 1112.4,355.1 1112.8,354.3 1113.3,353.6 1113.7,352.5 1114.0,351.6 1114.4,351.2 1114.7,350.1 1115.1,349.0 1115.5,348.5 1115.8,347.7 1116.2,346.6 1116.6,345.6 1116.9,345.3 1117.3,344.1 1117.7,343.1 1118.0,341.9 1118.4,341.5 1118.8,340.5 1119.1,339.3 1119.5,338.8 1119.8,337.3 1120.1,336.6 1120.4,335.6 1120.7,334.5 1121.0,334.2 1121.3,332.9 1121.6,332.1 1121.9,331.0 1122.2,329.9 1122.4,329.3 1122.7,328.3 1123.0,327.2 1123.3,326.2 1123.6,325.6 1123.8,324.7 1124.1,323.7 1124.4,322.7 1124.7,321.3 1125.0,320.8 1125.2,319.5 1125.5,318.7 1125.8,317.6 1126.1,316.6 1126.4,316.1 1126.7,314.6 1127.0,313.7 1127.3,312.6 1127.7,312.2 1128.0,310.7 1128.3,310.1 1128.6,309.3 1129.0,308.0 1129.3,307.1 1129.6,306.5 1129.9,305.2 1130.2,304.1 1130.6,303.3 1130.9,302.7 1131.2,301.5 1131.5,300.6 1131.8,299.6 1132.1,298.7 1132.4,297.9 1132.7,296.9 1133.0,296.3 1133.3,295.1 1133.6,294.3 1133.8,293.1 1134.1,292.1 1134.4,291.0 1134.6,290.0 1134.9,289.3 1135.1,287.8 1135.4,287.2 1135.7,286.1 1135.9,285.2 1136.2,283.9 1136.4,283.3 1136.6,282.3 1136.9,281.7 1137.1,280.7 1137.4,279.8 1137.6,278.4 1137.8,277.9 1138.1,276.7 1138.3,276.3 1138.6,275.5 1138.9,273.9 1139.2,273.2 1139.5,272.5 1139.7,271.8 1140.0,270.2 1140.3,269.9 1140.6,268.7 1140.9,268.4 1141.2,267.0 1141.5,266.4 1141.9,265.5 1142.3,264.7 1142.7,263.8 1143.1,263.4 1143.6,262.9 1144.0,261.8 1144.4,261.0 1144.9,260.4 1145.3,259.6 1145.7,258.7 1146.1,258.1 1146.6,257.0 1147.0,256.5 1147.5,255.6 1147.9,254.6 1148.4,253.2 1148.8,252.7 1149.2,251.7 1149.7,250.7 1150.1,250.1 1150.5,249.3 1150.8,247.9 1151.2,247.2 1151.6,246.1 1151.9,245.7 1152.3,244.4 1152.7,244.2 1153.0,242.9 1153.4,241.8 1153.7,241.3 1154.1,240.3 1154.4,239.7 1154.7,238.5 1155.1,237.6 1155.4,236.5 1155.7,235.7 1156.0,234.6 1156.3,233.7 1156.6,233.2 1156.8,231.9 1157.1,231.5 1157.4,230.2 1157.6,229.7 1157.9,228.2 1158.2,227.6 1158.4,226.4 1158.7,225.5 1158.9,224.5 1159.2,223.7 1159.5,223.1 1159.7,222.2 1160.0,220.9 1160.3,219.8 1160.5,219.4 1160.8,218.4 1161.0,217.2 1161.3,216.4 1161.6,215.5 1161.8,214.7 1162.1,213.8 1162.4,212.5 1162.6,211.9 1162.9,211.3 1163.2,209.8 1163.4,209.1 1163.7,208.0 1163.9,207.1 1164.2,206.4 1164.5,205.5 1164.7,204.4 1165.0,203.4 1165.3,202.9 1165.5,202.0 1165.8,200.9 1166.0,199.7 1166.3,198.9 1166.6,197.9 1166.8,197.3 1167.1,196.2 1167.3,195.1 1167.6,194.4 1167.9,192.8 1168.1,192.1 1168.4,191.1 1168.7,190.4 1168.9,189.4 1169.2,188.2 1169.5,187.4 1169.7,186.8 1170.0,185.8 1170.3,184.8 1170.6,184.0 1170.9,183.1 1171.1,181.8 1171.4,180.8 1171.7,180.4 1172.0,179.5 1172.3,178.4 1172.6,177.2 1172.9,176.4 1173.2,175.2 1173.5,174.7 1173.8,173.8 1174.1,174.2 1174.4,172.7 1174.7,170.1 1175.0,171.1 1175.4,170.4 1175.9,169.3 1176.3,166.2 1176.8,165.1 1177.2,164.0 1177.7,163.0 1178.1,163.0 1178.6,165.3 1179.0,161.3 1179.7,161.6 1180.3,162.8 1181.0,160.6 1181.7,161.3 1182.5,162.2 1183.3,160.5 1184.0,161.3 1184.6,164.5 1185.1,164.3 1185.5,166.0 1186.0,165.6 1186.5,167.1 1187.0,168.0 1187.5,168.7 1188.0,166.4 1188.2,169.9 1188.3,169.5 1188.5,168.2 1188.6,169.9 1188.7,172.1 1188.8,172.8 1188.9,172.5 1189.0,174.4 1189.1,175.8 1189.2,173.6 1189.2,177.4 1189.3,176.3 1189.3,178.6 1189.4,181.0 1189.4,182.8 1189.5,184.0 1189.5,181.8 1189.6,184.3 1189.6,185.7 1189.7,187.0 1189.7,188.2 1189.8,189.4 1189.8,190.3 1189.9,191.5 1189.9,192.6 1190.0,193.2 1190.1,194.5 1190.1,195.0 1190.2,196.1 1190.3,196.8 1190.3,198.3 1190.4,199.3 1190.4,199.7 1190.5,200.8 1190.6,201.9 1190.6,202.6 1190.7,203.8 1190.7,204.7 1190.8,205.4 1190.9,206.8 1190.9,207.7 1191.0,208.9 1191.0,209.6 1191.1,210.6 1191.2,211.8 1191.2,213.0 1191.3,213.5 1191.3,214.6 1191.4,215.5 1191.4,216.9 1191.5,217.5 1191.6,219.0 1191.6,219.7 1191.7,220.5 1191.7,221.6 1191.8,222.8 1191.9,224.2 1191.9,224.8 1192.0,226.0 1192.1,226.7 1192.1,228.2 1192.2,228.7 1192.2,229.6 1192.3,230.9 1192.3,231.6 1192.4,232.3 1192.5,233.4 1192.5,234.7 1192.6,235.1 1192.6,236.5 1192.7,237.1 1192.8,238.2 1192.8,239.2 1192.9,240.5 1192.9,241.6 1193.0,242.4 1193.1,243.3 1193.1,244.1 1193.2,245.6 1193.2,246.5 1193.3,247.0 1193.4,248.2 1193.4,249.1 1193.5,249.9 1193.5,251.3 1193.6,252.4 1193.7,252.9 1193.7,253.9 1193.8,255.5 1193.8,256.4 1193.9,256.8 1194.0,258.4 1194.0,258.9 1194.1,260.4 1194.1,261.0 1194.2,262.2 1194.3,262.8 1194.3,263.9 1194.4,265.2 1194.4,266.1 1194.5,267.2"/>
<path stroke="#d4875a" d="M140.0,150.3 140.9,151.8 141.8,149.8 142.7,152.5 143.6,150.4 144.5,149.2 145.4,150.4 146.3,149.1 147.2,149.1 148.1,149.7 149.0,147.6 149.9,153.5 150.8,150.1 151.7,150.1 152.6,149.7 153.5,153.6 154.4,152.6 155.3,146.8 156.2,152.6 157.1,153.1 158.0,150.5 158.9,149.1 159.8,153.4 160.7,148.9 161.6,153.0 162.5,152.5 163.4,147.8 164.3,149.8 165.2,147.7 166.1,150.6 167.0,146.8 167.9,151.9 168.8,149.2 169.7,146.4 170.6,146.1 171.5,146.1 172.4,146.5 173.3,151.9 174.2,144.4 175.1,150.8 176.0,152.0 176.9,150.7 177.8,146.8 178.7,149.4 179.6,148.2 180.5,149.6 181.4,151.8 182.3,147.1 183.2,149.7 184.1,145.3 185.0,150.4 185.9,146.3 186.8,147.3 187.7,150.7 188.6,150.7 189.5,147.7 190.4,149.7 191.3,149.6 192.2,145.9 193.1,144.6 194.0,146.4 194.9,148.2 195.8,151.4 196.7,150.3 197.6,147.0 198.5,145.9 199.4,147.9 200.3,147.8 201.2,144.4 202.1,149.8 203.0,146.4 203.9,150.5 204.8,148.7 205.7,146.7 206.6,150.2 207.5,145.0 208.4,143.9 209.3,149.0 210.2,144.2 211.1,150.6 212.0,146.6 212.9,145.3 213.8,145.8 214.7,150.2 215.6,144.0 216.5,145.9 217.4,149.7 218.3,144.5 219.2,149.6 220.1,148.1 221.0,143.0 221.9,147.2 222.8,144.5 223.7,144.3 224.6,147.9 225.5,147.3 226.4,144.2 227.3,147.7 228.2,147.5 229.1,148.4 230.0,144.9 230.9,146.1 231.8,146.8 232.7,147.2 233.6,146.4 234.5,141.8 235.4,142.9 236.3,145.7 237.2,148.2 238.1,147.3 239.0,145.9 239.9,147.4 240.8,146.1 241.7,144.8 242.6,141.2 243.5,145.6 244.4,143.0 245.3,141.9 246.2,145.5 247.1,142.0 248.0,146.0 248.9,145.2 249.8,144.4 250.7,141.0 251.6,145.0 252.5,146.1 253.4,139.4 254.3,145.8 255.2,140.3 256.1,146.3 257.0,142.3 257.9,144.0 258.8,142.6 259.7,144.5 260.6,140.0 261.5,144.3 262.4,144.5 263.3,141.8 264.2,142.1 265.1,142.0 266.0,145.5 266.9,144.5 267.8,141.0 268.7,145.9 269.6,141.2 270.5,140.0 271.4,139.9 272.3,140.0 273.2,139.9 274.1,147.6 275.0,140.5 275.9,141.0 276.8,142.9 277.7,140.3 278.6,140.1 279.5,138.9 280.4,142.3 281.3,139.4 282.2,145.2 283.1,144.3 284.0,141.8 284.9,144.0 285.8,141.8 286.7,139.8 287.6,141.3 288.5,144.7 289.4,140.7 290.3,140.5 291.2,138.1 292.1,142.3 293.0,144.3 293.9,141.7 294.8,143.0 295.7,143.8 296.6,138.3 297.5,144.1 298.4,142.5 299.3,139.2 300.2,139.3 301.1,143.6 302.0,143.4 302.9,142.5 303.8,142.8 304.7,143.0 305.6,137.6 306.5,139.9 307.4,138.3 308.3,143.8 309.2,138.4 310.1,143.6 311.0,141.0 311.9,138.1 312.8,143.5 313.7,141.7 314.6,141.2 315.5,139.6 316.4,140.5 317.3,143.7 318.2,140.8 319.1,139.7 320.0,139.7 320.9,144.6 321.8,142.0 322.7,141.6 323.6,144.6 324.5,144.7 325.4,138.3 326.3,140.5 327.2,143.4 328.1,141.5 329.0,141.9 329.9,139.8 330.8,142.5 331.7,142.9 332.6,142.1 333.5,143.1 334.4,141.3 335.3,143.3 336.2,142.7 337.1,144.0 338.0,142.6 338.9,141.5 339.8,140.0 340.7,142.5 341.6,138.5 342.5,139.6 343.4,141.1 344.3,143.8 345.2,144.4 346.1,144.7 347.0,141.9 347.9,144.5 348.8,141.0 349.7,140.1 350.6,143.7 351.5,138.9 352.4,145.6 353.3,141.2 354.2,144.9 355.1,139.8 356.1,144.4 357.0,143.0 357.9,144.3 358.8,142.2 359.7,141.9 360.6,141.9 361.5,140.2 362.4,142.8 363.3,145.6 364.2,142.1 365.1,142.3 366.0,139.3 366.9,141.4 367.8,139.3 368.7,142.7 369.6,144.3 370.5,145.1 371.4,146.6 372.3,143.3 373.2,147.8 374.1,144.3 375.0,145.1 375.9,140.6 376.8,142.4 377.7,144.2 378.6,142.4 379.5,141.1 380.4,143.3 381.3,145.8 382.2,145.0 383.1,141.1 384.0,142.7 384.9,140.0 385.8,142.6 386.7,142.9 387.6,141.1 388.5,145.5 389.4,140.4 390.3,140.7 391.2,144.7 392.1,144.1 393.0,142.0 393.9,144.9 394.8,140.9 395.7,145.1 396.6,146.8 397.5,147.2 398.4,146.6 399.3,144.9 400.2,146.8 401.1,142.5 402.0,147.2 402.9,145.0 403.8,143.9 404.7,147.0 405.6,145.4 406.5,146.1 407.4,143.7 408.3,141.3 409.2,142.8 410.1,144.2 411.0,141.4 411.9,140.1 412.8,145.8 413.7,143.2 414.6,144.7 415.5,147.5 416.4,147.0 417.3,145.0 418.2,145.5 419.1,143.5 420.0,142.7 420.9,141.8 421.8,145.2 422.7,141.9 423.6,144.2 424.5,141.6 425.5,146.1 426.4,143.3 427.3,143.5 428.2,146.3 429.1,142.4 430.0,139.2 430.9,143.6 431.8,143.6 432.7,147.6 433.6,142.5 434.5,143.0 435.4,145.7 436.3,144.4 437.2,141.9 438.1,144.8 439.0,146.8 439.9,147.6 440.8,143.6 441.7,144.2 442.6,143.8 443.5,146.4 444.4,146.3 445.3,146.7 446.2,147.5 447.1,148.1 448.0,147.1 448.9,142.9 449.8,142.4 450.7,142.4 451.6,141.9 452.5,148.0 453.4,146.8 454.3,142.4 455.2,147.6 456.1,144.2 457.0,146.0 457.9,144.7 458.8,147.2 459.7,145.4 460.6,143.1 461.5,146.0 462.4,142.2 463.3,145.6 464.2,144.9 465.1,143.5 466.0,144.3 466.9,147.2 467.8,146.3 468.7,141.8 469.6,143.7 470.5,147.0 471.4,146.3 472.3,147.1 473.2,143.3 474.1,147.6 475.0,148.0 475.9,141.7 476.8,146.6 477.7,143.4 478.6,142.5 479.5,146.3 480.4,145.4 481.4,144.2 482.3,146.9 483.2,147.1 484.1,146.7 485.0,146.3 485.9,141.0 486.8,141.4 487.7,143.7 488.6,143.0 489.5,141.6 490.4,145.7 491.3,145.4 492.2,147.2 493.1,147.5 494.0,146.8 494.9,145.8 495.8,143.6 496.7,141.3 497.6,144.3 498.5,147.1 499.4,142.1 500.3,144.9 501.2,143.6 502.1,145.9 503.0,144.5 503.9,140.8 504.8,143.9 505.7,143.7 506.6,143.5 507.5,145.0 508.4,142.6 509.3,144.5 510.2,142.3 511.1,143.0 512.0,143.0 512.9,144.3 513.8,141.0 514.7,144.6 515.6,141.7 516.5,144.9 517.4,145.1 518.3,141.0 519.2,146.4 520.1,140.9 521.0,143.1 521.9,143.2 522.8,140.4 523.7,145.8 524.6,140.1 525.5,140.9 526.4,143.5 527.3,144.7 528.2,143.5 529.1,146.7 530.0,143.5 530.9,146.8 531.8,141.2 532.7,144.1 533.6,143.2 534.5,142.7 535.4,142.6 536.4,144.9 537.3,139.9 538.2,141.6 539.1,143.8 540.0,142.5 540.9,142.0 541.8,145.3 542.7,144.8 543.6,145.4 544.5,144.3 545.4,141.9 546.3,144.8 547.2,145.5 548.1,142.2 549.0,143.5 549.9,144.9 550.8,142.8 551.7,141.8 552.6,144.4 553.5,146.0 554.4,144.3 555.3,140.4 556.2,144.4 557.0,139.6 557.9,143.5 558.8,142.6 559.7,142.3 560.6,143.2 561.5,143.0 562.4,140.2 563.3,144.7 564.2,138.0 565.1,139.3 566.0,142.0 566.9,142.5 567.8,138.5 568.7,142.7 569.6,142.3 570.5,139.2 571.4,140.9 572.3,143.3 573.2,138.3 574.1,140.6 575.0,138.1 575.9,138.6 576.8,136.7 577.7,142.4 578.6,138.9 579.5,142.9 580.4,142.6 581.3,137.4 582.1,136.3 583.0,139.7 583.9,137.4 584.8,139.4 585.7,139.2 586.6,140.5 587.5,135.5 588.4,135.5 589.3,140.7 590.2,140.8 591.1,141.2 592.0,140.8 592.9,136.1 593.8,141.4 594.7,139.7 595.6,137.2 596.5,137.1 597.4,141.1 598.3,136.4 599.2,139.4 600.1,138.7 601.0,137.9 601.9,139.9 602.8,135.5 603.7,137.9 604.6,133.2 605.5,135.3 606.4,137.6 607.3,134.2 608.2,139.9 609.1,134.4 610.0,133.8 610.9,134.9 611.8,140.2 612.7,137.2 613.6,137.0 614.5,137.0 615.4,135.2 616.3,135.0 617.2,133.4 618.1,137.4 619.0,139.5 619.9,139.5 620.8,135.3 621.7,138.6 622.6,133.8 623.5,132.6 624.4,133.1 625.3,139.9 626.2,134.6 627.1,135.9 628.0,137.0 628.9,137.8 629.8,135.4 630.7,135.6 631.6,134.2 632.5,134.5 633.4,133.2 634.3,134.9 635.2,132.7 636.1,134.3 637.0,137.0 637.9,137.6 638.8,134.9 639.7,137.3 640.6,136.7 641.5,131.7 642.4,134.5 643.3,132.8 644.2,132.3 645.1,134.2 646.0,134.4 646.9,136.8 647.8,131.4 648.7,136.2 649.6,131.7 650.5,136.7 651.4,133.6 652.3,134.9 653.2,137.1 654.1,137.5 655.0,133.1 655.9,133.6 656.8,131.8 657.7,131.9 658.6,132.8 659.5,133.4 660.4,137.6 661.3,135.1 662.2,138.0 663.1,140.5 664.0,135.6 664.9,134.3 665.8,133.4 666.7,136.3 667.6,134.7 668.5,134.8 669.4,134.2 670.3,134.3 671.2,136.1 672.1,130.5 673.0,131.0 673.9,132.1 674.8,130.1 675.6,133.0 676.5,131.0 677.4,135.4 678.3,130.5 679.2,131.0 680.1,134.2 680.6,129.9 681.1,136.7 681.6,127.1 682.1,128.1 682.6,123.9 683.1,131.1 683.6,127.7 684.1,123.5 684.6,122.9 685.1,125.1 685.6,122.7 686.1,129.2 687.0,119.7 687.8,124.7 688.7,125.2 689.6,129.1 690.4,117.2 691.3,118.6 692.1,125.4 693.0,117.2 693.7,117.7 694.4,124.2 695.2,120.2 695.9,118.5 696.6,122.8 697.4,118.0 698.1,120.0 698.8,113.3 699.5,117.7 700.3,112.9 701.1,119.2 701.8,110.4 702.6,109.1 703.4,112.4 704.1,115.5 704.9,115.5 705.6,108.0 706.4,112.7 707.2,115.3 707.9,109.2 708.7,105.6 709.4,110.9 710.1,109.4 710.8,108.6 711.5,109.4 712.2,108.1 713.0,102.7 713.7,108.1 714.4,107.6 715.1,109.5 715.8,103.8 716.4,105.7 717.0,106.0 717.6,107.7 718.2,108.5 718.7,108.7 719.3,110.4 719.9,109.5 720.4,111.0 721.0,112.4 721.6,107.5 722.2,119.1 722.8,116.6 723.4,119.3 724.1,112.5 724.7,113.3 725.3,120.0 725.9,110.6 726.6,122.4 727.2,113.8 727.8,123.9 728.6,122.8 729.4,122.3 730.3,123.0 731.1,124.4 732.0,123.8 732.8,124.7 733.7,122.0 734.5,123.0 735.4,120.9 736.3,118.2 737.1,123.1 738.0,116.1 738.9,126.6 739.8,123.8 740.7,121.5 741.6,124.6 742.5,117.0 743.4,116.4 744.3,126.0 745.2,123.8 745.9,119.6 746.6,114.0 747.3,121.0 748.0,123.7 748.7,106.6 749.4,120.9 750.1,120.2 750.8,121.0 751.5,121.1 752.2,109.0 752.9,115.8 753.6,113.5 754.3,109.0 755.0,111.0 755.6,109.2 756.3,115.7 757.0,111.0 757.7,107.8 758.4,110.6 759.1,107.2 759.7,109.0 760.5,111.3 761.2,114.3 761.9,105.7 762.7,108.4 763.4,110.6 764.1,111.7 764.9,111.2 765.4,112.7 766.0,118.0 766.6,113.2 767.1,110.3 767.7,111.1 768.3,111.6 769.1,114.9 769.8,108.9 770.5,118.8 771.3,108.3 772.0,111.6 772.8,117.3 773.5,106.3 774.2,112.6 775.0,112.3 775.7,112.5 776.4,112.0 777.2,107.3 777.9,116.3 778.7,106.8 779.4,119.3 780.1,118.1 780.9,118.9 781.6,120.3 782.4,112.6 783.2,113.7 784.0,113.5 784.9,109.2 785.7,118.2 786.5,119.5 787.3,111.8 788.2,119.8 789.0,122.5 789.8,124.6 790.7,120.9 791.5,120.5 792.4,119.1 793.3,120.8 794.1,120.3 795.0,118.7 795.9,120.0 796.8,121.9 797.6,119.2 798.5,120.0 799.4,122.2 800.2,122.2 801.1,123.0 802.0,120.0 802.9,123.0 803.8,120.2 804.7,123.7 805.6,122.0 806.5,121.8 807.4,121.1 808.4,120.3 809.3,123.7 810.2,123.3 811.1,120.9 812.0,122.5 812.9,120.9 813.8,121.1 814.7,120.9 815.6,123.8 816.5,122.9 817.4,120.6 818.3,120.9 819.2,121.1 820.1,122.7 821.0,121.9 821.9,120.8 822.8,122.4 823.7,122.8 824.6,120.6 825.5,122.9 826.4,123.6 827.3,120.8 828.2,120.7 829.1,120.8 830.0,121.2 830.9,123.5 831.8,121.6 832.7,120.8 833.6,123.2 834.5,122.6 835.4,122.9 836.3,123.7 837.2,123.3 838.1,122.8 839.0,120.7 839.9,123.5 840.8,122.7 841.7,121.2 842.6,123.3 843.5,120.5 844.4,121.2 845.3,121.4 846.2,123.5 847.1,120.5 848.0,123.4 848.9,121.6 849.8,120.6 850.7,122.3 851.6,123.1 852.5,119.9 853.4,123.3 854.3,123.6 855.2,119.7 856.1,122.9 857.0,120.8 857.9,120.3 858.8,120.9 859.7,120.8 860.6,121.7 861.5,122.0 862.4,121.4 863.3,122.2 864.2,120.6 865.1,119.6 866.0,119.8 866.9,121.3 867.8,120.2 868.7,122.1 869.6,120.0 870.5,121.2 871.4,119.2 872.3,121.9 873.2,120.9 874.1,119.8 875.0,121.4 875.9,120.5 876.8,122.1 877.7,121.5 878.6,122.3 879.5,122.2 880.4,118.9 881.3,119.4 882.2,118.8 883.1,119.4 884.0,120.7 884.9,118.5 885.8,119.1 886.7,118.0 887.6,117.6 888.5,120.5 889.4,117.5 890.3,117.2 891.2,119.3 892.1,120.5 892.9,119.6 893.8,117.4 894.7,120.1 895.6,116.4 896.5,119.6 897.4,117.8 898.3,116.6 899.2,116.5 900.1,119.4 901.0,116.0 901.9,116.7 902.8,118.8 903.7,117.6 904.6,118.8 905.5,116.1 906.4,119.1 907.3,117.3 908.2,116.8 909.1,115.2 910.0,116.4 910.9,118.5 911.8,115.2 912.7,116.2 913.6,115.6 914.5,115.6 915.4,116.1 916.3,116.6 917.2,117.0 918.1,114.7 919.0,115.0 919.9,118.1 920.8,118.0 921.7,116.9 922.6,117.4 923.5,114.4 924.4,116.7 925.3,116.4 926.2,115.4 927.1,114.9 928.0,113.9 928.9,116.9 929.8,114.7 930.7,115.4 931.6,115.8 932.5,113.7 933.4,114.5 934.3,115.1 935.2,113.7 936.1,116.6 937.0,113.9 937.9,115.8 938.8,113.2 939.7,114.8 940.6,116.2 941.5,116.5 942.4,116.3 943.3,114.4 944.2,115.5 945.1,115.5 946.0,113.2 946.9,115.1 947.8,114.9 948.7,113.8 949.6,113.7 950.5,113.4 951.4,114.3 952.3,115.8 953.2,113.6 954.1,115.1 955.0,114.3 955.9,114.0 956.8,113.7 957.7,112.1 958.6,115.6 959.5,112.7 960.4,113.1 961.3,112.0 962.2,114.9 963.1,112.6 964.0,113.8 964.9,114.9 965.8,112.4 966.7,114.2 967.6,112.1 968.5,114.4 969.4,115.3 970.3,114.6 971.2,113.8 972.1,114.7 973.0,113.4 973.9,112.0 974.8,111.6 975.6,114.4 976.5,113.7 977.3,113.2 978.2,113.1 979.0,114.0 979.8,115.9 980.7,116.0 981.5,117.3 982.3,117.6 983.2,116.1 984.0,118.7 984.8,117.7 985.6,117.2 986.4,118.4 987.2,120.6 988.0,120.6 988.8,120.5 989.6,121.4 990.4,120.6 991.2,122.3 992.0,119.7 992.8,120.5 993.4,120.8 994.0,124.3 994.6,123.6 995.2,126.2 995.8,123.7 996.4,124.3 997.0,125.2 997.6,125.4 998.2,129.2 1003.5,139.5 1003.7,140.8 1004.0,141.7 1004.2,142.1 1004.5,143.3 1004.7,144.6 1005.0,145.0 1005.2,145.8 1005.4,147.1 1005.7,147.7 1005.9,148.8 1006.2,150.2 1006.4,151.0 1006.6,152.1 1006.8,152.7 1007.0,153.5 1007.2,154.6 1007.3,155.3 1007.5,156.2 1007.7,157.6 1007.8,158.3 1008.0,159.2 1008.1,160.1 1008.3,161.2 1008.4,162.0 1008.6,163.1 1008.7,163.7 1008.9,164.8 1009.0,166.0 1009.1,166.6 1009.3,167.3 1009.4,168.9 1009.5,169.8 1009.7,170.8 1009.8,171.3 1010.0,172.4 1010.1,173.8 1010.2,174.5 1010.4,175.9 1010.5,177.0 1010.6,177.8 1010.7,179.0 1010.8,179.7 1011.0,180.7 1011.1,181.5 1011.2,182.8 1011.3,183.3 1011.4,184.7 1011.5,185.3 1011.6,186.6 1011.7,188.2 1011.8,189.2 1011.9,190.3 1012.0,190.9 1012.2,192.1 1012.4,191.7 1012.7,191.5 1013.2,191.4 1013.6,190.6 1014.1,189.2 1014.5,188.4 1014.9,188.0 1015.3,186.6 1015.7,186.0 1016.1,184.7 1016.5,184.4 1017.0,183.5 1017.7,182.6 1018.5,182.0 1019.3,181.7 1019.9,182.1 1020.5,183.1 1021.0,183.8 1021.5,184.4 1021.9,185.1 1022.2,186.3 1022.5,187.0 1022.7,188.0 1023.0,188.8 1023.3,190.0 1023.5,190.3 1023.7,191.3 1023.9,191.8 1024.1,193.2 1024.2,194.1 1024.4,194.8 1024.6,195.8 1024.8,196.6 1025.0,197.9 1025.2,199.0 1025.4,199.7 1025.6,201.4 1025.8,202.2 1026.0,202.8 1026.2,204.0 1026.5,204.9 1026.7,205.5 1026.9,206.7 1027.2,207.6 1027.5,208.3 1027.7,209.4 1028.0,210.4 1028.3,211.6 1028.5,212.5 1028.8,213.6 1029.1,214.3 1029.3,215.2 1029.6,216.2 1029.9,216.9 1030.1,217.9 1030.4,219.2 1030.6,219.6 1030.8,220.4 1031.1,221.5 1031.3,222.8 1031.6,223.6 1031.8,224.8 1032.1,225.8 1032.3,226.5 1032.6,227.4 1032.8,228.2 1033.1,229.6 1033.3,230.5 1033.6,231.0 1033.8,232.4 1034.1,232.9 1034.3,234.1 1034.6,235.0 1034.8,236.1 1035.1,236.7 1035.4,237.7 1035.6,238.8 1035.9,239.9 1036.2,240.9 1036.4,241.5 1036.7,242.2 1037.0,243.5 1037.3,244.1 1037.5,245.3 1037.8,246.3 1038.1,247.4 1038.4,248.3 1038.6,248.8 1038.9,249.7 1039.2,251.1 1039.4,251.9 1039.7,252.9 1039.9,253.6 1040.2,254.3 1040.4,255.3 1040.6,256.7 1040.9,257.6 1041.1,258.5 1041.3,259.4 1041.6,260.1 1041.8,261.1 1042.0,262.0 1042.2,263.1 1042.4,263.7 1042.6,265.2 1042.8,265.7 1043.0,267.1 1043.2,268.0 1043.4,269.2 1043.6,269.8 1043.8,270.8 1044.0,271.6 1044.2,272.7 1044.4,273.7 1044.6,274.8 1044.8,276.0 1044.9,276.5 1045.1,277.7 1045.3,278.3 1045.5,279.3 1045.7,280.7 1045.8,281.7 1046.0,282.7 1046.2,283.5 1046.4,284.0 1046.5,285.3 1046.7,286.5 1046.9,287.5 1047.1,288.2 1047.2,289.4 1047.4,290.4 1047.6,291.2 1047.8,292.2 1047.9,293.1 1048.1,294.0 1048.3,295.1 1048.5,296.2 1048.7,297.1 1048.9,297.7 1049.0,298.8 1049.2,300.0 1049.4,301.1 1049.6,302.2 1049.8,303.3 1050.0,303.7 1050.2,304.8 1050.4,305.9 1050.6,306.9 1050.8,308.1 1051.0,309.2 1051.2,309.7 1051.3,310.8 1051.5,311.8 1051.7,312.4 1051.9,313.6 1052.0,314.2 1052.2,315.0 1052.3,315.8 1052.5,317.1 1052.6,318.1 1052.8,318.8 1052.9,320.1 1053.0,320.7 1053.2,321.5 1053.3,322.5 1053.4,323.1 1053.6,324.0 1053.7,324.8 1053.8,325.9 1054.0,327.1 1054.1,328.1 1054.3,328.7 1054.4,329.3 1054.6,330.6 1054.7,331.5 1054.9,332.3 1055.1,333.4 1055.2,333.8 1055.4,335.4 1055.5,336.4 1055.7,336.9 1055.9,337.8 1056.0,339.0 1056.2,340.3 1056.4,340.8 1056.5,342.3 1056.7,343.2 1056.8,344.0 1057.0,344.7 1057.1,346.2 1057.3,347.0 1057.4,347.6 1057.5,348.7 1057.6,349.6 1057.8,350.9 1057.9,351.6 1058.0,352.7 1058.1,353.5 1058.3,354.8 1058.4,355.5 1058.5,356.2 1058.6,357.6 1058.7,358.8 1058.9,359.8 1059.0,360.6 1059.1,361.5 1059.2,362.5 1059.4,363.5 1059.5,364.4 1059.6,365.4 1059.7,366.2 1059.9,367.3 1060.0,368.2 1060.1,368.8 1060.3,369.9 1060.4,371.3 1060.6,372.4 1060.7,373.2 1060.9,374.3 1061.0,375.3 1061.2,376.5 1061.3,377.4 1061.5,378.5 1061.7,379.5 1061.8,380.6 1062.0,381.5 1062.1,381.8 1062.3,383.1 1062.5,384.2 1062.6,384.9 1062.8,385.2 1063.0,385.9 1063.3,387.3 1063.7,388.0 1064.0,388.4 1064.4,389.2 1064.7,389.8 1065.0,390.9 1065.2,391.5 1065.3,392.3 1065.5,393.1 1065.6,394.3 1065.7,395.1 1065.9,395.8 1066.0,397.1 1066.1,397.8 1066.2,398.7 1066.3,399.5 1066.4,400.7 1066.5,401.9 1066.6,403.0 1066.7,404.0 1066.9,405.2 1067.0,405.9 1067.1,406.6 1067.3,408.0 1067.4,408.7 1067.5,409.8 1067.7,410.9 1067.8,411.6 1067.9,412.3 1068.1,413.8 1068.2,414.9 1068.4,415.4 1068.5,416.5 1068.7,417.3 1068.8,418.3 1069.0,419.3 1069.1,420.3 1069.3,421.6 1069.4,422.4 1069.6,423.3 1069.7,424.7 1069.9,425.3 1070.0,426.3 1070.1,427.4 1070.3,428.7 1070.4,429.4 1070.6,430.1 1070.7,431.4 1070.8,432.7 1071.0,433.3 1071.1,434.1 1071.3,435.6 1071.4,435.9 1071.6,436.9 1071.7,438.3 1071.8,439.1 1072.0,440.3 1072.1,441.1 1072.3,441.9 1072.4,443.4 1072.6,443.8 1072.7,444.8 1072.9,445.6 1073.0,446.5 1073.2,448.1 1073.3,448.9 1073.5,450.0 1073.6,451.3 1073.8,452.2 1073.9,453.4 1074.1,454.1 1074.2,455.4 1074.4,456.0 1074.5,457.5 1074.7,457.9 1074.9,459.2 1075.0,459.9 1075.2,461.0 1075.4,462.1 1075.6,462.8 1075.8,463.5 1076.0,464.2 1076.3,465.8 1076.6,466.9 1076.9,467.5 1077.3,468.6 1077.6,469.8 1078.0,470.7 1078.3,471.5 1078.7,472.1 1079.0,472.1 1079.5,471.4 1080.0,470.9 1080.5,470.2 1081.0,468.8 1081.4,468.0 1081.7,467.2 1082.0,466.0 1082.4,465.0 1082.7,464.0 1083.0,463.7 1083.3,464.4 1083.6,464.9 1083.9,465.6 1084.2,466.8 1084.5,467.8 1084.8,468.8 1085.0,469.7 1085.2,470.9 1085.3,471.5 1085.4,472.5 1085.5,473.6 1085.6,474.2 1085.7,474.9 1085.8,475.8 1086.0,477.0 1086.2,478.2 1086.4,478.9 1086.7,480.3 1086.9,481.3 1087.2,482.3 1087.5,483.4 1087.8,484.3 1088.1,485.3 1088.5,485.9 1088.8,486.8 1089.2,486.8 1089.9,487.0 1090.7,486.3 1091.5,485.6 1092.1,484.8 1092.7,484.4 1093.2,483.3 1093.8,482.4 1094.5,481.6 1095.1,481.4 1095.7,480.5 1096.4,480.0 1097.0,479.3 1097.7,478.4 1098.4,478.0 1099.1,476.8 1099.8,476.2 1100.4,475.8 1101.0,475.1 1101.6,474.2 1102.3,473.5 1102.9,472.7 1103.6,471.7 1104.2,471.0 1104.8,470.3 1105.4,469.5 1105.9,469.1 1106.4,468.3 1106.9,466.9 1107.3,466.1 1107.8,465.4 1108.2,464.5 1108.5,463.7 1108.9,463.0 1109.2,461.9 1109.6,460.9 1109.9,460.3 1110.3,459.1 1110.6,458.1 1110.8,457.7 1111.1,456.9 1111.3,455.6 1111.6,455.2 1111.8,454.4 1112.1,453.0 1112.3,452.1 1112.5,451.5 1112.7,450.2 1113.0,449.2 1113.2,448.5 1113.5,447.7 1113.7,446.6 1114.0,445.6 1114.2,444.5 1114.5,443.8 1114.7,442.6 1115.0,441.5 1115.2,440.6 1115.4,440.2 1115.7,439.3 1115.9,437.9 1116.2,437.1 1116.4,436.1 1116.7,435.1 1117.0,434.6 1117.2,433.4 1117.5,432.8 1117.8,431.4 1118.0,430.4 1118.3,429.5 1118.5,428.8 1118.8,427.7 1119.1,426.7 1119.3,425.5 1119.6,424.5 1119.9,423.7 1120.1,423.1 1120.4,421.8 1120.6,421.1 1120.9,420.3 1121.1,419.5 1121.4,418.3 1121.6,417.3 1121.9,416.0 1122.1,415.4 1122.4,414.1 1122.7,413.6 1122.9,412.8 1123.2,411.6 1123.4,410.4 1123.7,409.8 1123.9,408.4 1124.2,408.0 1124.4,406.9 1124.7,405.7 1124.9,405.0 1125.2,404.2 1125.4,403.3 1125.6,402.4 1125.9,401.2 1126.1,400.2 1126.4,399.5 1126.7,398.3 1126.9,397.4 1127.2,396.5 1127.4,395.7 1127.7,394.9 1127.9,393.5 1128.2,392.9 1128.4,391.6 1128.7,391.0 1129.0,390.1 1129.2,389.3 1129.5,388.2 1129.7,387.2 1130.0,386.4 1130.2,385.5 1130.5,384.1 1130.7,383.6 1131.0,382.6 1131.2,381.2 1131.5,380.6 1131.7,379.9 1131.9,378.7 1132.2,377.6 1132.4,376.6 1132.7,376.2 1132.9,375.0 1133.1,374.2 1133.4,373.2 1133.6,371.8 1133.8,370.9 1134.1,369.9 1134.3,369.3 1134.5,368.2 1134.7,367.4 1135.0,366.6 1135.2,365.5 1135.4,364.4 1135.6,363.5 1135.9,363.0 1136.1,362.0 1136.3,360.8 1136.5,360.3 1136.7,359.0 1136.9,358.2 1137.2,357.4 1137.4,355.8 1137.6,354.9 1137.8,354.3 1138.0,353.4 1138.2,352.6 1138.4,351.2 1138.7,350.2 1138.9,349.7 1139.1,348.4 1139.3,347.3 1139.5,346.7 1139.7,345.4 1139.9,344.7 1140.1,343.6 1140.3,342.8 1140.5,342.3 1140.7,340.8 1140.9,340.0 1141.1,339.2 1141.3,338.2 1141.5,337.4 1141.7,335.9 1141.9,335.1 1142.1,334.3 1142.3,333.1 1142.5,332.3 1142.8,331.1 1143.0,330.4 1143.2,329.7 1143.5,328.7 1143.7,328.0 1144.0,327.2 1144.3,326.3 1144.7,325.5 1145.0,324.2 1145.4,323.7 1145.8,322.4 1146.2,321.9 1146.6,321.3 1147.0,320.4 1147.4,319.5 1147.8,318.3 1148.1,317.7 1148.5,317.0 1148.8,315.6 1149.0,314.9 1149.3,314.2 1149.5,313.0 1149.7,312.3 1149.9,311.4 1150.1,310.7 1150.3,309.7 1150.5,309.0 1150.7,307.9 1150.9,306.8 1151.0,305.6 1151.2,304.8 1151.4,303.7 1151.6,303.0 1151.7,302.1 1151.9,300.9 1152.1,299.8 1152.3,298.7 1152.4,298.3 1152.6,296.8 1152.8,296.3 1153.0,294.9 1153.2,293.8 1153.4,293.3 1153.5,292.2 1153.7,291.4 1153.9,290.2 1154.1,289.6 1154.3,288.2 1154.5,287.5 1154.7,286.8 1154.8,285.7 1155.0,284.6 1155.2,284.1 1155.4,282.8 1155.6,281.8 1155.8,281.0 1156.0,279.9 1156.1,278.9 1156.3,278.0 1156.5,276.8 1156.7,276.5 1156.9,275.3 1157.1,274.1 1157.3,273.4 1157.5,272.1 1157.6,271.5 1157.8,270.3 1158.0,269.5 1158.2,268.8 1158.4,267.5 1158.6,266.5 1158.8,265.9 1159.0,264.6 1159.1,264.0 1159.3,262.5 1159.5,261.7 1159.7,260.9 1159.9,260.0 1160.1,259.1 1160.3,258.1 1160.5,257.5 1160.7,256.2 1160.9,255.6 1161.1,254.6 1161.4,253.8 1161.6,252.7 1161.8,251.2 1162.1,250.8 1162.3,249.4 1162.6,248.6 1162.8,247.5 1163.0,246.9 1163.3,245.7 1163.5,245.0 1163.7,243.7 1163.9,242.8 1164.2,242.5 1164.4,241.2 1164.6,240.3 1164.9,239.3 1165.1,238.6 1165.4,237.4 1165.6,236.5 1165.9,235.7 1166.1,234.8 1166.3,234.1 1166.6,233.1 1166.8,232.3 1167.1,231.0 1167.3,229.9 1167.5,228.9 1167.7,228.2 1167.9,227.2 1168.1,226.3 1168.3,225.5 1168.5,224.7 1168.7,223.3 1168.9,222.7 1169.1,221.7 1169.3,220.8 1169.5,219.4 1169.7,218.8 1169.9,218.1 1170.1,217.0 1170.3,216.1 1170.5,215.0 1170.7,214.0 1170.9,213.2 1171.2,212.3 1171.4,210.8 1171.6,210.0 1171.8,209.1 1172.0,208.5 1172.3,207.6 1172.5,206.4 1172.7,205.5 1173.0,204.2 1173.2,203.4 1173.5,202.5 1173.7,202.1 1174.0,201.3 1174.3,199.5 1174.6,197.1 1174.9,195.3 1175.2,199.7 1175.5,197.6 1175.8,194.1 1176.1,195.2 1176.5,194.5 1176.8,193.0 1177.2,189.8 1177.6,190.2 1178.0,188.7 1178.6,188.2 1179.3,187.4 1179.9,190.0 1180.6,187.1 1181.3,190.1 1182.0,186.7 1182.7,184.4 1183.5,190.0 1184.2,186.6 1184.9,186.2 1185.5,190.3 1185.9,188.5 1186.2,190.5 1186.5,192.6 1186.7,190.9 1186.9,190.5 1187.0,195.1 1187.2,193.5 1187.3,194.2 1187.5,195.6 1187.6,197.5 1187.7,197.0 1187.8,196.9 1187.9,199.9 1188.0,200.3 1188.1,199.5 1188.2,201.3 1188.2,204.4 1188.3,205.0 1188.4,205.2 1188.4,206.3 1188.5,207.9 1188.6,210.5 1188.6,209.5 1188.7,210.5 1188.8,211.5 1188.8,212.7 1188.9,213.4 1188.9,214.5 1189.0,215.7 1189.0,217.0 1189.1,218.2 1189.2,218.6 1189.2,219.9 1189.3,220.9 1189.4,221.7 1189.4,222.9 1189.5,224.0 1189.5,224.7 1189.6,225.8 1189.7,226.5 1189.7,227.7 1189.8,228.8 1189.8,229.9 1189.9,230.9 1189.9,231.7 1190.0,232.8 1190.1,233.5 1190.1,234.3 1190.2,235.6 1190.2,236.9 1190.3,237.5 1190.3,238.8 1190.4,239.5 1190.4,240.5 1190.5,241.4 1190.5,242.4 1190.6,243.8 1190.6,244.7 1190.7,245.7 1190.8,246.6 1190.8,247.9 1190.9,248.5 1190.9,249.9 1191.0,250.4 1191.0,251.5 1191.0,252.8 1191.1,253.7 1191.1,254.4 1191.2,255.4 1191.2,256.9 1191.3,257.8 1191.3,258.7 1191.4,259.5 1191.4,260.8 1191.5,261.4 1191.5,262.6 1191.5,263.7 1191.6,264.8 1191.6,265.7 1191.7,266.3 1191.7,267.3 1191.7,268.4 1191.8,269.7 1191.8,270.3 1191.9,271.4 1191.9,272.2 1192.0,273.1 1192.0,274.1 1192.0,275.4 1192.1,276.0 1192.1,277.1 1192.1,277.9 1192.2,279.1 1192.2,280.4 1192.3,281.0 1192.3,282.3 1192.3,283.2 1192.4,284.2 1192.4,285.3 1192.5,285.9 1192.5,287.1 1192.5,288.3 1192.6,288.8 1192.6,290.3 1192.7,291.1 1192.7,292.2 1192.8,292.6 1192.8,294.2 1192.8,294.6 1192.9,295.6 1192.9,297.1 1192.9,297.9 1193.0,298.5 1193.0,299.9 1193.1,300.4 1193.1,301.7 1193.1,302.8 1193.2,303.3 1193.2,304.6 1193.2,305.4 1193.3,306.6 1193.3,307.8 1193.3,308.1 1193.4,309.4 1193.4,310.4 1193.4,311.1 1193.5,312.3 1193.5,313.1 1193.5,314.3 1193.5,315.1 1193.6,316.2 1193.6,317.6 1193.6,318.1 1193.6,319.3 1193.7,320.4 1193.7,321.0 1193.7,322.4 1193.7,323.2 1193.8,324.5 1193.8,325.0 1193.8,326.1 1193.8,326.8 1193.9,328.2 1193.9,329.0 1193.9,330.1 1193.9,330.8 1194.0,332.3 1194.0,332.9"/>
</g>
<g fill="none" stroke-width="4.3" stroke-linejoin="round" stroke-linecap="round">
<path stroke="#ee5a5e" d="M413.0,218.5 413.4,218.4 413.8,219.8 414.3,220.6 414.7,221.8 415.1,221.8 415.5,223.3 416.0,223.6 416.4,224.1 416.8,225.3 417.2,226.6 417.6,227.1 418.0,227.8 418.3,229.2 418.6,229.8 419.0,230.7 419.3,231.2 419.6,232.3 419.9,232.9 420.2,233.7 420.4,234.8 420.7,235.9 421.0,237.2 421.3,237.6 421.6,238.4 421.9,239.2 422.1,240.8 422.4,241.5 422.7,242.1 423.0,244.0 423.3,244.3 423.5,245.9 423.8,246.4 424.1,246.7 424.3,247.7 424.6,249.0 424.9,250.3 425.1,251.4 425.4,252.3 425.7,252.8 425.9,253.5 426.2,254.8 426.5,255.4 426.7,256.8 427.0,257.5 427.2,258.2 427.5,259.0 427.7,260.4 428.0,260.5 428.3,262.0 428.6,262.7 428.8,264.4 429.1,264.7 429.4,266.2 429.6,267.1 429.9,268.7 430.1,269.1 430.4,270.1 430.7,271.5 431.0,271.5 431.3,272.2 431.6,273.2 432.0,273.7 432.5,275.2 433.1,276.2 433.7,276.9 434.3,278.0 434.9,278.6 435.4,278.8 436.0,277.9 436.4,278.5 436.8,278.0 437.2,277.3 437.6,276.9 438.0,275.1 438.3,274.2 438.7,274.0 439.1,272.0 439.5,270.8 439.8,269.4 440.2,268.8 440.6,268.2 441.0,266.7 441.4,266.6 441.9,265.3 442.3,264.4 442.7,263.2 443.1,261.6 443.6,260.5 444.0,259.3 444.5,259.2 445.0,257.7 445.5,257.1 446.0,257.5 446.6,257.8 447.3,257.4 448.0,258.6 448.7,258.7 449.4,259.6 450.1,260.8 450.7,261.8 451.4,262.8 452.0,263.5 452.4,265.0 452.8,265.1 453.1,265.5 453.5,266.5 453.8,268.1 454.1,268.9 454.4,269.4 454.7,271.1 455.0,271.4 455.3,272.6 455.6,273.0 455.9,274.3 456.2,275.9 456.4,277.2 456.7,278.0 457.0,278.2 457.4,279.4 457.7,280.2 458.0,282.2 458.3,282.7 458.7,283.3 459.0,284.5 459.3,284.9 459.7,286.1 460.0,286.7 460.4,287.7 460.7,288.7 461.1,289.8 461.4,290.9 461.8,291.9 462.1,292.3 462.5,293.6 462.9,294.9 463.2,295.8 463.6,296.1 463.9,297.8 464.3,298.7 464.6,298.7 465.0,300.1 465.4,300.6 465.7,301.6 466.1,302.5 466.5,303.8 466.8,304.5 467.2,305.0 467.6,306.0 468.0,307.5 468.3,307.7 468.7,309.0 469.1,310.2 469.4,310.2 469.8,311.1 470.2,312.9 470.6,312.9 470.9,314.7 471.3,315.0 471.7,316.3 472.1,316.6 472.5,317.6 473.0,318.5 473.4,320.0 473.8,319.9 474.2,321.3 474.7,322.7 475.1,323.5 475.5,323.8 475.9,325.2 476.3,325.3 476.8,327.0 477.2,327.9 477.5,328.1 477.9,329.8 478.3,330.4 478.6,331.6 479.0,332.7 479.3,332.6 479.6,333.4 480.0,335.4 480.3,335.2 480.6,337.0 480.9,337.3 481.2,338.9 481.5,339.0 481.8,340.5 482.0,340.8 482.3,341.8 482.6,342.7 482.9,344.2 483.2,344.8 483.5,346.2 483.8,346.8 484.0,347.5 484.3,348.7 484.5,349.6 484.8,350.3 485.0,351.6 485.3,353.1 485.6,354.1 485.8,355.1 486.1,356.1 486.3,356.3 486.6,357.6 486.8,358.6 487.1,359.1 487.3,360.3 487.5,360.8 487.8,362.5 488.0,362.7 488.3,364.3 488.5,364.7 488.8,366.4 489.1,367.1 489.3,367.4 489.6,368.4 489.8,370.3 490.1,371.1 490.3,372.2 490.6,372.8 490.9,373.4 491.1,374.0 491.4,375.3 491.6,376.7 491.9,377.0 492.2,378.6 492.4,379.0 492.7,380.2 492.9,380.7 493.2,382.1 493.4,382.5 493.6,384.4 493.9,385.4 494.1,386.3 494.3,386.3 494.6,387.4 494.8,389.1 495.0,389.6 495.2,390.3 495.5,391.1 495.7,392.9 495.9,393.6 496.1,394.0 496.3,395.3 496.5,396.0 496.7,397.4 496.9,398.8 497.1,399.0 497.3,399.7 497.6,400.6 497.8,402.5 498.0,403.4 498.2,403.9 498.5,404.8 498.7,405.3 499.0,406.6 499.2,407.6 499.4,408.9 499.7,410.1 499.9,411.0 500.2,411.9 500.4,412.9 500.7,413.4 500.9,414.1 501.1,415.6 501.4,416.7 501.6,417.4 501.8,417.6 502.0,418.6 502.3,419.8 502.5,420.6 502.7,421.3 503.0,422.9 503.2,423.7 503.4,423.9 503.6,425.2 503.8,425.7 504.0,426.8 504.2,428.6 504.4,428.8 504.6,430.3 504.7,430.2 504.9,430.8 505.0,432.3 505.2,432.8 505.4,434.4 505.6,435.3 505.8,435.6 506.0,436.4 506.2,437.8 506.4,439.0 506.6,440.6 506.8,441.3 507.0,442.7 507.3,443.5 507.6,443.2 508.0,444.1 508.5,445.5 509.0,446.1 509.6,446.8 510.2,445.9 510.9,445.7 511.6,444.0 512.2,444.9 512.5,445.3 512.7,445.6 512.9,446.3 513.0,446.8 513.1,448.7 513.1,449.2 513.2,450.5 513.3,451.8 513.4,453.2 513.5,454.0 513.6,455.1 513.8,456.4 514.0,457.6 514.1,457.4 514.3,459.1 514.5,460.5 514.6,461.5 514.8,461.8 515.0,463.2 515.2,463.9 515.4,465.2 515.6,465.6 515.8,466.3 516.0,467.3 516.2,469.2 516.4,469.5 516.6,470.7 516.8,471.3 517.0,473.0 517.3,473.6 517.5,474.9 517.7,476.0 517.9,476.9 518.1,477.5 518.4,478.4 518.6,480.0 518.8,480.6 519.0,481.8 519.3,481.8 519.5,483.7 519.7,484.2 520.0,485.5 520.2,486.5 520.4,486.9 520.7,488.2 520.9,488.9 521.1,490.4 521.4,491.0 521.6,491.5 521.9,493.2 522.1,493.1 522.3,494.8 522.6,495.8 522.8,496.2 523.0,497.9 523.3,498.5 523.5,499.5 523.7,499.9 524.0,501.1 524.2,501.9 524.4,503.1 524.7,504.4 524.9,505.3 525.1,505.5 525.3,507.5 525.6,507.5 525.8,508.7 526.0,509.9 526.2,510.5 526.4,511.7 526.6,512.8 526.9,513.6 527.1,514.6 527.3,514.9 527.5,515.9 527.7,517.5 527.9,517.5 528.1,519.2 528.3,520.0 528.5,520.7 528.7,521.4 528.9,522.4 529.1,523.5 529.4,524.1 529.6,526.2 529.8,526.3 530.0,527.2 530.2,528.8 530.5,529.1 530.7,530.8 531.0,531.9 531.3,531.5 531.8,533.4 532.4,534.8 532.9,534.7 533.5,535.3 534.0,535.6 534.4,535.5 534.8,535.6 535.2,534.3 535.5,532.9 535.9,531.9 536.2,531.1 536.6,529.8 537.0,528.7 537.3,527.8 537.7,527.8 538.0,527.0 538.3,526.7 538.5,528.6 538.8,529.5 539.0,529.8 539.2,531.5 539.4,532.9 539.5,533.8 539.7,533.9 539.9,535.1 540.0,535.4 540.2,537.2 540.4,537.6 540.6,538.6 540.7,539.7 540.9,541.1 541.2,541.9 541.4,542.6 541.5,542.6 541.7,544.1 541.9,544.6 542.0,546.4 542.2,547.3 542.2,547.1 542.3,548.6 542.4,549.5 542.6,550.3 542.8,551.5 543.0,551.9 543.3,553.4 543.7,553.8 544.1,555.2 544.6,556.7 545.1,556.9 545.6,558.0 546.1,559.1 546.6,560.1 547.0,559.8 547.5,559.4 548.0,559.2 548.6,558.3 549.1,556.5 549.5,556.1 550.0,555.4 550.5,554.4 551.0,552.6 551.5,552.6 552.0,551.9 552.5,551.9 553.1,552.2 553.7,554.0 554.3,554.1 555.0,555.0 555.6,554.4 556.1,554.2 556.7,553.9 557.4,553.0 558.0,551.6 558.7,551.4 559.3,549.8 560.0,550.0 560.7,549.3 561.3,548.1 562.0,547.8 562.8,546.6 563.5,546.5 564.2,545.7 564.9,545.1 565.7,544.2 566.3,543.4 567.0,543.0 567.6,542.0 568.2,542.0 568.7,541.3 569.2,539.7 569.8,539.3 570.3,539.3 570.8,538.6 571.3,537.1 571.9,536.9 572.4,535.9 573.0,535.2 573.5,534.6 574.1,533.5 574.6,532.7 575.2,532.2 575.8,530.8 576.4,530.8 577.0,530.0 577.5,528.9 578.1,528.3 578.7,527.5 579.2,526.2 579.7,525.5 580.2,525.2 580.7,524.9 581.3,523.9 581.8,522.4 582.3,521.9 582.7,521.7 583.2,520.8 583.6,519.4 584.1,519.0 584.5,517.9 585.0,517.4 585.4,515.9 585.8,515.8 586.3,514.0 586.7,513.0 587.1,512.2 587.6,511.9 588.0,510.9 588.4,510.5 588.8,509.4 589.2,507.6 589.6,507.2 590.0,506.3 590.4,506.2 590.8,505.0 591.2,504.2 591.5,503.8 591.9,502.2 592.3,501.8 592.6,501.4 593.0,500.0 593.4,499.1 593.8,498.0 594.1,497.4 594.5,496.1 594.9,495.3 595.3,495.1 595.7,494.1 596.1,493.4 596.5,492.7 596.9,491.6 597.3,489.8 597.6,489.0 598.0,488.3 598.4,487.8 598.8,486.7 599.1,485.2 599.5,484.7 599.8,483.6 600.2,483.2 600.6,482.2 600.9,480.8 601.3,480.9 601.6,479.1 602.0,478.5 602.4,477.2 602.7,476.3 603.1,475.8 603.5,475.1 603.8,474.1 604.2,472.8 604.6,472.7 604.9,471.9 605.3,470.3 605.6,469.1 606.0,468.4 606.3,467.4 606.6,466.7 606.9,466.2 607.2,464.7 607.5,463.9 607.8,464.0 608.1,462.2 608.4,462.1 608.7,461.2 609.0,460.1 609.3,459.0 609.7,458.3 610.0,457.4 610.3,456.5 610.6,455.7 610.9,454.2 611.3,453.5 611.6,452.3 611.9,452.0 612.3,450.0 612.6,449.4 612.9,448.1 613.3,447.1 613.6,447.1 614.0,446.0 614.3,444.3 614.6,444.3 615.0,443.3 615.3,442.0 615.6,441.1 615.9,440.0 616.2,439.1 616.5,438.1 616.8,437.7 617.1,436.9 617.3,435.2 617.6,434.3 617.9,433.8 618.2,432.2 618.4,432.0 618.7,430.4 619.0,429.7 619.3,428.4 619.5,428.2 619.8,427.4 620.1,426.2 620.3,425.1 620.6,425.0 620.9,423.8 621.2,422.4 621.5,421.3 621.8,420.3 622.0,419.3 622.3,419.2 622.6,418.0 622.9,417.1 623.2,416.4 623.5,414.8 623.8,414.6 624.1,413.8 624.5,412.4 624.8,412.3 625.2,411.3 625.6,410.0 626.0,408.9 626.5,408.4 626.9,407.4 627.4,406.3 627.8,406.0 628.3,405.0 628.7,404.0 629.2,402.6 629.6,402.4 630.0,401.3 630.4,400.3 630.8,399.6 631.2,398.8 631.5,398.2 631.9,396.7 632.3,396.0 632.6,394.7 633.0,393.8 633.3,393.4 633.7,392.6 634.0,391.3 634.4,390.3 634.8,389.5 635.1,388.7 635.5,388.4 635.8,387.7 636.1,386.5 636.5,385.5 636.8,384.1 637.2,383.4 637.5,383.1 637.9,381.7 638.2,380.4 638.6,379.9 639.0,379.3 639.4,378.2 639.9,377.8 640.3,376.7 640.8,375.8 641.2,374.3 641.6,374.2 642.0,372.8 642.4,372.3 642.8,371.6 643.3,370.8 643.7,370.2 644.1,369.1 644.5,368.9 645.0,367.2 645.3,367.0 645.7,366.2 646.0,365.0 646.4,364.8 646.8,363.8 647.2,362.3 647.6,361.5 648.0,360.6 648.4,359.1 648.8,358.7 649.2,358.0 649.6,356.4 650.0,356.0 650.5,355.2 650.9,354.3 651.4,353.2 651.8,352.1 652.2,351.4 652.7,350.5 653.1,350.2 653.6,348.7 654.0,348.1 654.5,347.1 654.9,346.8 655.4,344.9 655.9,344.4 656.4,342.5 656.8,343.0 657.2,341.1 657.6,340.6 658.0,340.3 658.3,339.2 658.5,338.7 658.8,337.6 659.1,337.1 659.4,336.9 659.6,336.0 659.9,333.4 660.1,332.8 660.4,332.4 660.7,331.4 660.9,330.9 661.2,329.8 661.5,329.7 661.8,327.9 662.1,326.8 662.4,326.1 662.7,324.3 663.0,323.6 663.3,323.0 663.6,321.6 663.9,320.0 664.2,320.1 664.5,318.4 664.8,317.7 665.1,317.6 665.4,316.4 665.7,315.3 666.1,314.8 666.4,313.7 666.7,312.6 667.0,311.0 667.3,311.0 667.6,309.7 667.9,309.1 668.1,307.2 668.4,307.1 668.6,305.6 668.8,305.6 669.0,304.3 669.2,302.0 669.3,302.1 669.4,300.7 669.6,300.8 669.7,299.2 669.8,298.2 669.9,296.3 670.0,296.8 670.1,295.2 670.2,294.5 670.4,293.2 670.5,291.5 670.6,291.2 670.8,290.1 671.0,289.7 671.2,288.4 671.5,286.9 671.8,286.3 672.1,284.9 672.4,284.4 672.8,283.6 673.1,283.5 673.5,281.4 673.9,281.9 674.2,280.9 674.6,280.6 675.0,278.4 675.4,278.1 675.8,276.7 676.2,276.5 676.6,276.1 677.1,273.8 677.5,272.8 678.0,273.0 678.5,271.6 679.0,271.2 679.8,270.3 680.6,270.8 681.4,269.1 682.2,269.6 683.0,269.5 683.5,270.9 684.0,270.3 684.5,271.2 685.0,271.8 685.4,273.2 685.8,274.6 686.2,274.2 686.6,276.8 687.0,277.4 687.3,277.5 687.6,277.6 687.8,279.5 688.1,279.6 688.3,281.5 688.5,282.1 688.7,283.5 688.9,284.4 689.1,285.1 689.3,286.7 689.6,287.8 689.8,287.9 690.0,289.1 690.2,289.1 690.4,290.9 690.6,291.9"/>
<path stroke="#6ea8dc" d="M413.0,211.5 413.3,212.2 413.6,213.2 413.8,214.1 414.1,215.1 414.4,216.1 414.6,216.4 414.9,218.2 415.2,218.0 415.5,219.5 415.7,221.0 416.0,221.8 416.3,222.4 416.6,222.9 416.9,223.9 417.1,225.0 417.4,226.3 417.7,227.3 418.0,227.6 418.3,229.0 418.6,230.4 418.9,230.5 419.2,232.1 419.5,232.6 419.9,233.4 420.2,234.8 420.5,235.2 420.8,236.5 421.1,237.8 421.5,238.6 421.8,238.8 422.1,239.7 422.4,241.1 422.7,242.1 423.0,242.9 423.2,244.3 423.5,245.6 423.7,246.5 424.0,246.3 424.2,248.2 424.4,248.4 424.6,250.0 424.8,251.2 425.0,251.7 425.2,253.2 425.4,253.4 425.6,254.2 425.8,255.3 425.9,256.3 426.1,257.4 426.3,258.1 426.5,259.9 426.7,259.8 426.8,261.3 427.0,262.1 427.2,263.4 427.4,263.9 427.6,265.0 427.9,266.3 428.1,267.4 428.3,268.0 428.6,268.9 428.8,270.0 429.0,270.7 429.3,271.1 429.5,272.2 429.7,273.5 429.9,274.7 430.1,275.0 430.3,276.4 430.5,277.5 430.7,277.6 430.9,279.4 431.0,279.9 431.2,280.8 431.3,281.8 431.4,282.7 431.5,284.0 431.6,284.5 431.7,285.5 431.8,286.4 432.0,287.5 432.1,289.0 432.2,289.3 432.3,289.9 432.4,291.7 432.6,292.1 432.7,292.8 432.9,294.4 433.1,295.6 433.2,296.3 433.4,296.9 433.6,298.2 433.8,299.5 434.0,299.5 434.2,301.0 434.5,302.2 434.7,302.7 435.0,303.7 435.4,305.0 435.7,305.5 436.1,306.8 436.5,307.0 437.0,308.5 437.5,308.8 438.0,308.7 438.6,309.3 439.3,308.2 440.0,307.3 440.7,306.3 441.5,305.8 442.2,305.0 443.0,304.0 443.8,303.8 444.7,303.1 445.6,301.9 446.4,301.9 447.2,301.1 448.0,301.5 448.8,302.0 449.5,302.6 450.2,302.6 450.9,304.3 451.5,304.6 451.9,305.5 452.3,306.8 452.7,307.6 453.0,307.7 453.3,309.2 453.6,309.9 453.9,310.9 454.2,312.0 454.5,313.8 454.7,313.5 454.9,314.3 455.1,315.1 455.3,316.0 455.5,317.3 455.7,318.1 455.9,318.9 456.1,320.7 456.3,320.9 456.5,322.0 456.6,322.8 456.8,323.9 457.0,324.6 457.2,326.3 457.4,327.6 457.6,327.9 457.8,329.3 457.9,330.7 458.1,331.0 458.3,332.6 458.5,332.7 458.7,334.3 458.9,335.5 459.1,335.5 459.2,336.5 459.4,337.6 459.6,338.6 459.8,339.6 460.0,340.9 460.1,342.2 460.3,342.7 460.5,343.6 460.7,343.9 460.9,346.0 461.1,346.9 461.2,346.9 461.4,348.5 461.6,349.2 461.8,350.5 462.0,350.7 462.2,351.4 462.4,352.6 462.6,354.3 462.8,354.9 463.1,355.8 463.3,356.9 463.5,357.1 463.7,358.1 464.0,359.2 464.2,359.8 464.4,360.7 464.7,362.7 464.9,362.9 465.1,363.9 465.4,365.1 465.6,365.7 465.9,366.7 466.1,368.1 466.4,369.1 466.7,369.7 466.9,370.2 467.2,371.7 467.5,372.5 467.8,373.2 468.1,374.8 468.4,375.6 468.7,376.3 469.0,377.1 469.3,378.1 469.6,379.6 469.9,380.3 470.2,381.0 470.5,381.7 470.8,383.0 471.1,383.5 471.4,385.0 471.7,386.1 472.0,386.6 472.3,388.1 472.6,389.0 472.9,389.4 473.2,390.6 473.5,391.0 473.8,392.1 474.1,393.6 474.4,394.2 474.7,395.9 475.0,396.3 475.3,397.1 475.6,398.6 475.8,399.0 476.1,399.8 476.4,401.1 476.7,401.4 477.0,403.1 477.3,403.4 477.6,404.6 477.9,406.3 478.1,406.6 478.4,407.9 478.7,408.2 479.0,409.5 479.3,410.7 479.5,411.4 479.8,412.7 480.1,412.9 480.4,414.1 480.6,415.2 480.9,416.6 481.1,417.7 481.4,418.6 481.7,419.3 481.9,419.8 482.1,421.5 482.4,421.5 482.6,423.2 482.8,423.4 483.1,424.7 483.3,425.5 483.5,426.1 483.7,428.0 483.9,429.0 484.1,429.3 484.3,430.7 484.5,432.0 484.7,432.7 484.9,433.2 485.2,433.9 485.4,434.9 485.6,435.7 485.8,437.3 486.0,438.3 486.2,438.8 486.5,440.3 486.7,441.2 486.9,442.2 487.1,442.7 487.3,443.6 487.5,444.8 487.8,445.2 488.0,446.8 488.2,447.2 488.4,448.8 488.7,449.4 488.9,450.1 489.1,451.4 489.3,452.5 489.6,453.0 489.8,454.1 490.0,455.1 490.2,455.9 490.5,457.5 490.7,457.5 490.9,458.5 491.2,459.4 491.4,460.5 491.6,461.8 491.9,462.1 492.1,464.0 492.3,464.2 492.6,465.0 492.8,466.2 493.0,467.8 493.3,467.7 493.5,468.7 493.7,470.6 494.0,471.5 494.2,472.1 494.4,472.8 494.6,473.9 494.9,475.0 495.1,475.7 495.3,476.2 495.6,477.6 495.8,478.5 496.0,479.5 496.3,480.0 496.5,481.1 496.7,482.8 497.0,483.0 497.2,483.8 497.4,485.2 497.6,485.9 497.8,487.7 498.0,487.9 498.2,489.3 498.4,490.4 498.6,491.1 498.8,492.2 498.9,493.3 499.1,493.7 499.3,494.4 499.4,495.7 499.6,496.8 499.7,497.8 499.9,498.6 500.0,499.0 500.2,500.3 500.3,501.0 500.5,502.1 500.6,502.8 500.7,503.7 500.9,504.4 501.0,506.2 501.1,507.1 501.2,508.0 501.4,508.8 501.5,509.5 501.6,510.1 501.7,511.6 501.8,511.9 501.9,513.0 502.0,514.9 502.1,515.4 502.2,516.2 502.3,517.7 502.4,518.5 502.5,518.8 502.6,520.4 502.7,520.9 502.9,521.7 503.0,522.9 503.1,523.8 503.3,525.2 503.5,525.5 503.6,527.3 503.8,528.0 504.0,529.2 504.1,529.6 504.3,530.6 504.5,531.8 504.7,532.8 504.8,534.2 505.0,534.8 505.2,536.1 505.3,536.6 505.5,537.5 505.6,539.0 505.8,539.3 505.9,541.0 506.1,541.1 506.2,542.1 506.4,544.0 506.5,544.3 506.6,545.6 506.8,546.3 506.9,547.6 507.0,547.7 507.1,549.2 507.1,549.9 507.2,550.3 507.2,551.3 507.2,553.2 507.2,554.2 507.2,555.5 507.3,556.4 507.3,556.3 507.4,557.9 507.5,558.3 507.6,559.8 507.8,560.5 508.0,560.8 508.5,562.2 509.1,562.3 509.7,563.1 510.4,564.3 511.0,565.3 511.7,565.0 512.4,566.0 513.0,567.4 513.2,567.6 513.4,568.0 513.6,569.5 513.8,569.8 513.9,571.1 514.0,572.3 514.1,573.3 514.2,574.4 514.3,574.6 514.4,576.3 514.5,577.2 514.6,578.3 514.7,579.6 514.8,579.9 514.9,581.4 515.0,582.2 515.1,583.0 515.2,584.6 515.4,585.5 515.5,586.3 515.6,586.8 515.7,588.5 515.9,589.7 516.0,589.8 516.1,590.9 516.2,592.1 516.4,592.7 516.5,593.8 516.6,595.5 516.7,596.5 516.9,597.4 517.0,597.9 517.1,599.3 517.2,599.5 517.4,601.2 517.5,601.5 517.6,602.6 517.7,603.5 517.9,604.8 518.0,605.8 518.1,606.7 518.2,607.0 518.3,608.8 518.5,609.9 518.6,610.5 518.7,611.8 518.9,612.2 519.0,612.6 519.2,613.9 519.3,614.6 519.5,615.8 519.7,616.9 519.8,618.1 520.0,618.2 520.2,619.7 520.3,620.3 520.5,620.7 520.7,621.6 520.8,622.6 521.0,623.7 521.1,624.5 521.2,625.6 521.4,627.1 521.5,627.3 521.6,627.9 521.7,629.6 521.8,630.3 521.9,631.3 522.0,632.7 522.1,633.8 522.2,634.4 522.3,635.7 522.4,636.4 522.5,636.9 522.6,638.4 522.7,639.2 522.9,639.6 523.0,641.2 523.1,642.5 523.3,642.9 523.4,644.1 523.6,644.5 523.8,646.4 523.9,647.2 524.1,648.3 524.3,648.6 524.4,649.4 524.6,650.6 524.8,652.3 524.9,652.7 525.1,653.4 525.3,654.5 525.5,655.8 525.7,656.4 525.8,658.0 526.0,658.8 526.2,659.4 526.4,661.1 526.5,662.1 526.7,662.3 526.9,663.7 527.1,664.3 527.3,665.4 527.4,666.4 527.6,667.4 527.8,669.1 528.0,669.3 528.2,670.8 528.4,671.1 528.6,672.7 528.8,673.2 529.0,673.5 529.3,675.2 529.5,676.2 529.8,677.6 530.1,677.8 530.3,678.7 530.6,679.5 530.9,681.1 531.2,681.4 531.4,682.6 531.7,682.7 532.0,684.1 532.4,684.9 532.8,685.8 533.2,687.3 533.6,687.7 534.0,688.5 534.3,687.4 534.7,687.5 535.0,685.7 535.3,684.7 535.6,684.3 536.0,683.0 536.4,682.5 536.8,681.7 537.3,680.2 537.7,679.4 538.0,680.0 538.3,679.6 538.5,680.2 538.7,681.4 538.8,682.8 539.0,683.6 539.2,684.5 539.3,686.1 539.5,686.8 539.6,687.5 539.8,688.6 540.0,688.8 540.2,689.5 540.3,691.0 540.5,691.8 540.7,691.8 540.9,692.8 541.1,694.5 541.4,695.5 541.6,695.7 541.8,697.2 542.0,698.1 542.3,698.6 542.5,699.8 542.8,701.3 543.0,701.6 543.3,702.5 543.5,704.3 543.8,704.4 544.1,705.6 544.4,706.8 544.7,708.0 545.0,707.8 545.3,709.3 545.6,709.5 546.0,710.5 546.5,711.3 547.1,712.4 547.7,712.9 548.4,714.0 549.0,714.1 549.7,713.7 550.5,712.7 551.3,712.9 552.0,712.8 552.6,713.2 553.2,713.8 553.8,713.7 554.4,714.9 555.0,716.2 555.6,716.3 556.2,718.0 556.7,718.3 557.3,719.6 558.0,719.4 558.7,719.5 559.4,720.6 560.2,720.2 561.0,720.5 561.8,719.6 562.6,720.0 563.5,720.0 564.4,719.1 565.2,718.9 566.0,718.8 566.9,718.2 567.7,718.2 568.5,717.9 569.3,717.6 570.0,717.0 570.5,715.6 571.0,714.6 571.4,713.8 571.8,713.8 572.2,712.4 572.6,711.9 573.0,710.5 573.3,710.5 573.6,709.0 573.9,708.0 574.2,706.9 574.5,705.9 574.8,705.9 575.1,704.6 575.4,704.3 575.7,703.0 576.0,701.8 576.3,700.7 576.5,699.7 576.8,699.1 577.1,698.2 577.4,697.9 577.7,696.8 578.0,695.2 578.3,694.4 578.5,693.2 578.8,693.0 579.1,691.9 579.4,691.0 579.7,689.3 580.0,689.2 580.3,687.8 580.6,687.7 580.9,686.0 581.1,685.5 581.4,684.0 581.7,684.0 582.0,683.0 582.3,682.0 582.6,680.9 582.9,679.8 583.1,679.2 583.4,678.8 583.7,677.8 584.0,676.4 584.3,676.1 584.6,674.8 584.9,673.9 585.2,672.3 585.5,671.8 585.8,670.9 586.1,670.3 586.4,668.8 586.6,667.8 586.9,667.8 587.2,666.3 587.5,665.8 587.7,664.4 588.0,664.4 588.2,662.7 588.5,662.3 588.7,661.1 588.9,659.8 589.1,658.8 589.3,658.6 589.5,658.0 589.7,656.6 589.9,655.2 590.1,655.1 590.3,653.8 590.5,652.8 590.8,651.5 591.0,651.2 591.3,650.5 591.5,649.4 591.8,648.0 592.1,647.4 592.4,646.9 592.7,645.2 593.0,644.8 593.3,643.8 593.6,642.2 593.8,641.9 594.1,640.8 594.4,640.1 594.7,639.4 595.0,638.0 595.3,636.7 595.5,635.6 595.8,634.7 596.0,633.8 596.3,633.8 596.5,632.4 596.8,631.9 597.0,630.9 597.3,629.7 597.5,629.1 597.8,627.9 598.0,626.5 598.3,626.0 598.5,625.4 598.8,623.3 599.0,622.4 599.3,621.6 599.5,621.4 599.8,620.5 600.0,618.9 600.3,618.8 600.5,616.9 600.8,615.8 601.0,615.7 601.3,615.1 601.5,613.3 601.8,613.0 602.0,611.5 602.3,610.4 602.5,609.5 602.8,608.7 603.0,607.6 603.3,607.4 603.5,606.6 603.8,605.7 604.0,603.7 604.3,602.8 604.5,602.7 604.8,601.8 605.0,600.5 605.3,599.5 605.5,597.9 605.8,597.9 606.0,596.3 606.2,595.8 606.5,595.0 606.7,593.4 607.0,593.3 607.2,591.7 607.5,591.1 607.7,589.9 608.0,588.4 608.3,588.0 608.5,587.1 608.8,586.2 609.0,585.6 609.3,584.3 609.5,583.6 609.8,582.4 610.0,581.6 610.3,579.9 610.5,579.0 610.8,578.3 611.0,577.6 611.2,577.0 611.5,575.2 611.7,574.7 612.0,573.5 612.2,573.2 612.5,572.4 612.7,571.6 613.0,570.7 613.2,569.2 613.4,568.8 613.7,568.0 613.9,566.1 614.1,565.6 614.4,565.1 614.6,563.7 614.8,563.4 615.0,562.1 615.2,561.4 615.4,559.8 615.6,558.7 615.8,557.9 615.9,556.7 616.1,556.8 616.3,555.8 616.4,554.5 616.6,553.4 616.7,552.7 616.9,551.2 617.0,550.8 617.2,549.7 617.4,548.7 617.5,547.7 617.7,545.9 617.8,545.6 618.0,544.9 618.2,543.3 618.3,542.7 618.5,541.8 618.7,540.8 618.8,540.1 619.0,538.4 619.2,538.3 619.3,537.1 619.5,535.5 619.7,534.2 619.8,533.6 620.0,532.4 620.2,531.6 620.3,531.0 620.5,530.4 620.7,528.8 620.8,528.2 621.0,527.2 621.1,525.4 621.3,524.9 621.4,523.9 621.5,523.2 621.7,521.3 621.8,521.2 621.9,519.5 622.0,518.9 622.1,517.4 622.2,516.0 622.4,515.1 622.5,513.7 622.6,513.8 622.8,512.3 622.9,511.4 623.1,510.1 623.2,510.0 623.4,508.5 623.6,507.3 623.8,507.5 624.0,506.9 624.4,505.5 624.9,504.0 625.4,503.4 625.9,502.4 626.5,501.2 627.0,501.9 627.6,501.7 628.2,502.2 628.9,503.9 629.5,504.1 630.0,505.1 630.4,504.5 630.8,504.0 631.1,503.2 631.4,501.8 631.7,501.3 632.0,499.8 632.2,499.4 632.5,498.1 632.7,497.4 632.9,496.3 633.1,495.9 633.4,494.6 633.6,493.5 633.8,493.2 634.0,491.7 634.3,490.6 634.5,489.6 634.7,489.6 634.9,487.8 635.2,487.8 635.4,486.7 635.6,484.9 635.9,484.4 636.1,483.1 636.3,482.9 636.6,481.4 636.8,480.5 637.0,479.4 637.3,479.2 637.5,477.8 637.7,477.3 637.9,476.1 638.2,474.7 638.4,474.7 638.6,473.4 638.8,472.6 639.0,471.8 639.2,470.8 639.5,468.9 639.7,468.5 639.9,467.6 640.1,466.7 640.3,465.1 640.5,464.6 640.7,463.0 640.9,462.2 641.1,461.2 641.3,460.7 641.5,459.2 641.7,458.1 641.9,458.2 642.1,457.1 642.2,456.1 642.4,454.6 642.6,454.4 642.8,453.2 643.0,452.0 643.1,450.7 643.3,449.8 643.5,448.5 643.6,447.8 643.8,447.4 644.0,446.5 644.1,445.2 644.3,444.6 644.4,443.8 644.6,442.8 644.7,441.3 644.9,440.2 645.0,440.1 645.2,439.1 645.3,438.5 645.4,436.5 645.6,436.2 645.7,435.6 645.8,434.7 645.9,433.7 646.0,432.5 646.1,431.7 646.2,430.6 646.3,429.1 646.4,428.4 646.6,427.0 646.7,426.9 646.8,425.0 647.0,424.4 647.2,423.4 647.3,422.6 647.5,422.3 647.7,420.7 647.8,419.7 648.0,418.9 648.2,418.4 648.4,417.5 648.6,416.7 648.8,415.4 649.0,414.3 649.2,413.7 649.4,412.8 649.6,411.3 649.8,410.6 650.0,409.0 650.2,408.2 650.4,408.0 650.6,407.1 650.8,406.1 651.0,405.2 651.2,403.4 651.4,402.8 651.6,402.1 651.8,401.3 652.0,400.0 652.1,398.9 652.3,398.5 652.5,397.7 652.7,396.2 652.9,395.0 653.1,395.1 653.2,393.6 653.4,392.6 653.6,391.2 653.8,390.2 653.9,390.2 654.1,389.0 654.3,387.6 654.4,386.7 654.6,385.3 654.7,384.3 654.9,384.0 655.0,382.4 655.2,382.4 655.3,380.8 655.5,379.7 655.7,378.8 655.8,378.0 656.0,377.2 656.1,376.1 656.3,374.8 656.5,373.9 656.6,372.7 656.8,372.4 656.9,371.3 657.1,369.9 657.3,369.0 657.4,368.1 657.6,367.7 657.8,367.0 657.9,365.9 658.1,364.7 658.3,364.0 658.5,362.8 658.6,362.1 658.8,360.6 659.0,359.6 659.2,359.0 659.3,357.3 659.5,356.9 659.7,356.2 659.9,355.5 660.1,353.9 660.3,352.5 660.4,351.9 660.6,351.7 660.8,350.5 661.0,349.5 661.2,348.1 661.4,347.9 661.6,346.9 661.8,345.9 662.0,344.7 662.2,344.4 662.4,342.6 662.6,342.0 662.8,340.8 663.0,340.3 663.2,338.7 663.4,337.3 663.6,338.0 663.8,335.3 664.0,335.5 664.3,334.1 664.6,333.5 665.1,333.5 665.6,332.4 666.1,331.7 666.7,329.6 667.3,329.6 668.2,329.4 669.1,329.4 670.0,330.2 670.7,330.2 671.3,332.0 671.9,332.1 672.2,331.5 672.4,330.6 672.6,331.2 672.8,330.0 672.9,327.9 673.1,327.9 673.2,326.5 673.4,325.5 673.5,323.6 673.7,322.6 673.9,322.1 674.1,321.5 674.3,319.8 674.5,317.5 674.7,316.8 675.0,317.1 675.2,315.1 675.4,313.4 675.7,313.9 675.9,313.0 676.2,311.5 676.5,311.6 677.0,310.9 677.5,308.9 678.0,308.3 678.5,308.6 679.0,306.4 679.4,305.5 679.9,304.8 680.3,304.5 680.8,302.6 681.2,301.8 681.5,301.6 681.7,301.6 681.9,302.8 682.0,302.4 682.1,305.2 682.3,305.4 682.4,306.4 682.5,307.8 682.7,309.4 683.0,310.6 683.5,311.2 684.0,312.0 684.6,312.8 685.2,313.5 685.8,314.0 686.3,315.2 686.9,314.5 687.5,315.6 688.0,316.4 688.4,318.0 688.6,317.9 688.8,319.2 688.9,319.3 689.1,320.0 689.2,320.4 689.3,322.1 689.4,324.1 689.5,324.1 689.5,326.4 689.6,325.7 689.6,327.7 689.7,327.9 689.7,330.7 689.8,331.4 689.8,331.9 689.9,333.5 689.9,334.4 690.0,334.6 690.1,336.1 690.1,337.8 690.2,338.2 690.2,339.2 690.3,339.9 690.3,341.8 690.4,341.5 690.4,342.6 690.4,343.4 690.5,344.7 690.5,345.6 690.6,346.4 690.6,347.3 690.6,347.4 690.7,349.3 690.7,350.4 690.8,351.3 690.8,351.4"/>
<path stroke="#ba80cc" d="M413.0,208.1 413.4,208.7 413.9,209.6 414.3,209.9 414.8,210.9 415.2,212.0 415.6,212.7 416.1,213.3 416.5,213.9 416.9,214.7 417.4,216.0 417.8,217.5 418.2,218.1 418.6,218.7 418.9,220.3 419.3,220.4 419.6,222.0 420.0,222.9 420.3,223.3 420.7,224.1 421.0,225.1 421.3,226.4 421.7,227.0 422.0,228.6 422.3,229.6 422.6,230.1 422.9,231.1 423.2,231.5 423.5,232.4 423.7,234.1 424.0,234.3 424.2,235.8 424.4,236.2 424.7,238.0 424.9,238.6 425.1,239.3 425.3,240.2 425.5,241.7 425.7,241.9 425.9,243.3 426.1,244.7 426.3,244.8 426.4,245.7 426.6,247.2 426.8,248.6 427.0,248.7 427.2,250.5 427.4,250.8 427.6,252.1 427.7,252.8 427.9,253.2 428.1,255.3 428.3,255.5 428.4,256.7 428.6,258.1 428.7,258.6 428.9,259.9 429.1,260.7 429.2,261.9 429.4,263.3 429.5,264.1 429.7,264.9 429.9,265.7 430.0,266.4 430.2,268.2 430.4,268.4 430.5,269.3 430.7,270.2 430.9,271.9 431.0,271.9 431.2,272.9 431.4,274.3 431.6,275.1 431.9,275.5 432.1,277.5 432.4,278.3 432.6,278.8 432.8,279.9 433.1,281.1 433.3,281.5 433.6,282.9 433.9,284.3 434.1,284.7 434.4,285.8 434.7,285.4 435.2,286.6 435.7,288.6 436.2,288.5 436.7,289.8 437.3,290.3 437.8,290.0 438.4,289.6 438.9,288.7 439.5,287.4 440.1,286.5 440.8,285.3 441.4,284.5 442.0,283.7 442.5,282.8 443.1,282.4 443.6,281.9 444.2,279.8 444.7,279.6 445.3,278.5 445.8,277.7 446.4,277.3 446.9,276.3 447.5,276.8 448.1,276.3 448.6,277.4 449.2,278.1 449.8,278.0 450.3,279.0 450.9,280.5 451.4,280.4 452.0,282.3 452.5,283.0 453.0,284.3 453.4,284.2 453.8,286.0 454.1,286.6 454.5,287.7 454.8,288.6 455.2,289.1 455.5,289.7 455.8,291.4 456.2,291.6 456.5,292.9 456.8,293.9 457.1,295.5 457.4,295.8 457.7,297.2 458.0,298.0 458.2,299.1 458.5,299.5 458.8,301.4 459.1,301.8 459.3,302.5 459.6,303.4 459.8,304.9 460.0,306.0 460.3,305.9 460.5,307.3 460.7,308.7 460.9,309.0 461.1,310.2 461.3,311.0 461.6,312.6 461.8,313.7 462.0,313.7 462.2,314.9 462.4,316.3 462.5,316.8 462.7,318.1 462.9,319.0 463.1,319.2 463.2,320.6 463.4,321.7 463.6,321.9 463.8,322.9 464.0,324.8 464.1,325.1 464.3,326.2 464.5,327.8 464.7,328.6 464.9,329.7 465.1,330.4 465.3,330.9 465.5,332.2 465.7,332.7 465.9,333.7 466.2,334.5 466.4,335.4 466.6,337.1 466.9,338.2 467.1,339.2 467.3,339.7 467.6,341.0 467.8,341.2 468.1,343.0 468.3,344.2 468.6,344.5 468.8,345.0 469.1,346.2 469.4,347.6 469.7,347.7 470.0,348.7 470.3,350.6 470.6,351.0 471.0,352.0 471.3,352.4 471.7,353.7 472.0,354.6 472.4,355.6 472.8,356.2 473.2,357.3 473.6,358.4 474.0,359.4 474.4,359.4 474.8,360.3 475.2,361.9 475.6,362.6 475.9,362.8 476.3,364.6 476.7,365.3 477.0,366.1 477.3,366.5 477.7,367.9 478.0,368.2 478.3,369.3 478.7,371.0 479.0,371.9 479.3,372.7 479.6,373.0 479.9,373.9 480.2,374.8 480.5,375.7 480.8,377.3 481.1,377.7 481.4,378.4 481.6,380.1 481.9,380.8 482.2,382.2 482.5,383.0 482.7,383.5 483.0,384.8 483.2,385.9 483.5,386.1 483.7,387.5 483.9,388.7 484.2,389.8 484.4,390.4 484.6,391.7 484.8,392.1 485.1,393.1 485.3,393.8 485.5,395.2 485.7,396.3 486.0,396.7 486.2,397.1 486.4,398.2 486.7,399.6 486.9,400.3 487.2,400.8 487.4,402.6 487.6,402.7 487.9,404.5 488.1,404.7 488.4,405.3 488.6,406.9 488.9,408.0 489.1,408.1 489.3,409.1 489.6,410.1 489.8,411.7 490.1,411.7 490.4,412.6 490.6,413.6 490.9,414.8 491.2,415.7 491.5,417.0 491.7,418.2 492.0,419.3 492.3,420.0 492.6,420.9 492.9,422.2 493.1,422.4 493.4,424.2 493.7,424.7 493.9,425.7 494.2,427.0 494.4,427.6 494.6,427.9 494.9,428.9 495.2,430.2 495.4,431.3 495.7,431.7 495.9,432.6 496.1,434.0 496.4,434.8 496.6,435.7 496.8,435.5 496.9,436.4 497.1,437.8 497.3,438.8 497.5,439.2 497.7,440.5 497.9,440.9 498.1,442.9 498.3,443.2 498.5,444.4 498.7,445.5 498.9,446.3 499.1,447.6 499.3,447.8 499.5,448.9 499.7,449.9 499.9,451.8 500.1,452.4 500.2,452.9 500.4,454.1 500.6,455.0 500.8,455.8 501.0,456.6 501.1,457.7 501.3,458.4 501.5,459.5 501.7,461.3 501.8,462.0 502.0,462.5 502.2,463.4 502.3,465.3 502.5,465.6 502.7,466.6 502.8,468.3 503.0,468.8 503.2,470.2 503.3,471.1 503.5,471.8 503.6,472.3 503.8,473.2 503.9,475.1 504.1,476.1 504.2,476.3 504.4,477.1 504.5,478.5 504.6,479.2 504.8,480.5 504.9,481.6 505.1,482.9 505.2,483.5 505.3,484.3 505.5,484.9 505.6,486.1 505.7,487.1 505.9,487.5 506.0,488.8 506.2,489.4 506.3,490.5 506.5,492.0 506.6,493.3 506.7,494.1 506.9,494.4 507.0,495.8 507.1,496.7 507.3,498.0 507.4,498.1 507.6,499.3 507.8,499.7 507.9,501.2 508.1,502.3 508.2,503.5 508.4,504.5 508.5,506.4 508.7,506.4 509.0,507.8 509.3,508.0 509.6,508.2 510.4,508.3 511.4,507.4 512.2,507.2 512.6,507.6 512.8,507.9 513.1,508.3 513.3,510.2 513.5,510.6 513.7,512.3 513.8,512.7 514.0,513.9 514.2,514.6 514.4,516.2 514.6,516.6 514.8,517.7 515.0,518.6 515.1,519.1 515.3,521.1 515.5,521.0 515.7,522.7 515.9,523.5 516.0,524.8 516.2,525.0 516.4,526.4 516.5,527.8 516.7,528.5 516.8,529.2 517.0,529.6 517.1,531.1 517.3,532.2 517.4,533.2 517.6,534.0 517.7,535.3 517.8,536.5 518.0,537.5 518.1,538.0 518.2,538.4 518.3,539.3 518.4,540.2 518.5,541.6 518.6,542.9 518.7,543.2 518.8,544.3 518.9,544.8 519.1,546.0 519.2,547.5 519.3,547.2 519.4,549.0 519.5,548.9 519.6,550.9 519.8,550.9 519.9,551.6 520.0,553.4 520.1,553.8 520.3,555.3 520.4,555.9 520.6,557.0 520.7,558.3 520.8,559.2 521.0,560.1 521.1,560.5 521.3,561.9 521.4,563.2 521.6,564.6 521.7,565.1 521.9,566.5 522.0,566.6 522.1,568.2 522.3,569.4 522.5,569.6 522.6,570.8 522.8,572.4 522.9,572.5 523.1,573.2 523.2,574.4 523.4,575.4 523.5,577.0 523.7,578.1 523.9,578.6 524.0,580.0 524.2,580.8 524.3,581.9 524.5,582.1 524.7,583.7 524.8,584.6 525.0,584.6 525.2,585.5 525.4,586.7 525.5,587.7 525.7,588.3 525.9,589.7 526.1,591.3 526.3,592.1 526.4,592.6 526.6,594.1 526.8,594.3 527.0,595.7 527.2,596.6 527.4,597.3 527.6,598.0 527.8,599.1 528.0,600.6 528.3,601.3 528.5,602.0 528.8,602.9 529.0,604.1 529.3,604.9 529.6,606.0 529.9,606.7 530.1,607.9 530.4,608.7 530.7,609.7 531.0,610.5 531.4,611.7 531.8,612.2 532.2,612.9 532.6,614.3 533.0,613.5 533.3,614.0 533.5,612.8 533.8,612.0 534.0,611.1 534.3,610.0 534.5,609.5 534.7,607.9 535.0,607.1 535.3,606.2 535.7,604.1 536.0,604.1 536.4,602.2 536.7,601.9 537.0,601.5 537.3,602.3 537.5,602.4 537.8,604.1 538.0,604.6 538.3,606.2 538.5,606.7 538.7,607.8 538.9,608.6 539.1,609.9 539.3,610.8 539.5,610.9 539.7,611.8 540.0,612.9 540.2,614.2 540.4,614.2 540.7,616.2 540.9,616.9 541.2,617.9 541.4,618.5 541.7,619.3 542.0,621.0 542.3,621.7 542.7,622.6 543.0,622.6 543.4,624.5 543.9,624.7 544.4,625.7 544.9,627.4 545.5,628.5 546.0,628.3 546.5,628.9 547.0,629.7 547.6,629.7 548.2,629.1 548.9,627.9 549.5,626.6 550.0,625.9 550.5,624.6 551.0,624.6 551.5,623.5 552.0,622.7 552.5,622.9 553.1,624.3 553.7,625.2 554.3,625.2 555.0,626.1 555.6,626.2 556.3,624.7 557.1,625.3 557.8,624.7 558.6,623.7 559.3,623.1 560.0,622.5 560.7,621.1 561.3,620.2 561.9,620.2 562.6,619.5 563.2,618.9 563.8,617.7 564.4,616.9 565.0,616.5 565.5,615.4 566.1,615.1 566.6,613.8 567.1,613.2 567.6,612.5 568.1,611.9 568.6,610.6 569.0,610.5 569.5,609.9 570.0,609.0 570.4,607.6 570.9,607.0 571.3,606.0 571.7,605.1 572.1,604.9 572.6,603.4 573.0,603.1 573.4,601.1 573.8,601.0 574.2,600.0 574.6,598.7 575.0,598.5 575.4,596.7 575.7,596.2 576.1,595.3 576.5,595.0 576.8,594.0 577.2,593.5 577.5,591.7 577.9,590.7 578.2,590.4 578.6,590.0 578.9,588.0 579.3,587.7 579.7,586.3 580.0,585.6 580.3,585.0 580.7,583.7 581.0,583.3 581.4,582.2 581.7,582.1 582.0,581.0 582.4,579.7 582.7,578.7 583.0,577.8 583.4,577.2 583.7,576.6 584.0,574.7 584.3,574.7 584.7,572.9 585.0,572.6 585.3,571.2 585.6,571.3 585.9,569.3 586.2,568.7 586.5,568.0 586.8,566.9 587.1,566.3 587.4,565.3 587.7,564.1 588.0,563.5 588.3,562.8 588.6,561.3 588.8,561.1 589.1,559.7 589.4,559.0 589.7,558.5 590.0,557.1 590.3,556.4 590.6,554.8 590.8,553.6 591.1,552.8 591.4,552.5 591.7,551.4 592.0,550.6 592.2,549.7 592.5,548.1 592.8,548.0 593.1,546.1 593.4,546.1 593.6,545.3 593.9,543.2 594.2,542.3 594.5,542.4 594.7,541.2 595.0,540.1 595.3,539.4 595.5,538.3 595.8,537.7 596.1,536.7 596.3,535.4 596.6,534.9 596.9,533.0 597.1,532.4 597.4,531.5 597.6,530.2 597.9,529.6 598.2,528.8 598.4,527.4 598.7,527.3 599.0,525.5 599.2,524.7 599.5,523.4 599.7,522.5 600.0,522.1 600.3,520.8 600.5,520.6 600.8,518.9 601.0,517.9 601.3,517.3 601.5,516.9 601.8,515.1 602.0,514.9 602.3,513.3 602.5,512.6 602.8,511.8 603.0,511.5 603.3,509.5 603.5,509.5 603.8,507.8 604.0,507.7 604.3,506.6 604.5,505.3 604.8,504.9 605.0,503.3 605.3,502.4 605.5,502.0 605.8,500.9 606.0,499.2 606.3,499.1 606.5,498.4 606.8,497.2 607.0,496.2 607.3,494.9 607.5,494.1 607.8,493.2 608.0,492.5 608.3,491.5 608.5,490.1 608.8,489.7 609.0,489.3 609.3,487.2 609.5,486.5 609.8,485.7 610.0,484.5 610.3,483.8 610.5,483.2 610.7,482.1 611.0,481.3 611.2,480.9 611.5,479.3 611.7,478.3 612.0,477.2 612.2,477.2 612.5,475.2 612.7,475.1 613.0,474.0 613.2,472.9 613.5,471.5 613.7,470.5 614.0,469.5 614.2,468.6 614.5,468.1 614.7,467.6 615.0,466.1 615.2,465.3 615.5,464.5 615.7,463.3 616.0,462.3 616.2,461.4 616.5,459.8 616.7,459.6 617.0,458.8 617.2,457.1 617.5,455.9 617.8,455.3 618.0,453.6 618.3,453.0 618.6,452.1 618.8,450.6 619.1,450.4 619.3,448.5 619.6,448.3 619.8,447.2 620.1,446.3 620.3,444.8 620.6,443.8 620.8,442.7 621.0,442.0 621.3,441.5 621.5,440.6 621.7,439.5 622.0,439.4 622.3,438.2 622.6,436.9 622.9,435.3 623.2,435.0 623.5,434.5 623.8,433.3 624.0,431.8 624.3,431.4 624.6,430.7 624.8,429.4 625.1,428.7 625.3,428.3 625.5,426.3 625.9,426.1 626.4,425.7 627.2,425.5 628.2,425.6 629.3,425.3 630.4,425.8 631.4,425.7 632.2,425.9 632.7,425.4 633.1,424.2 633.4,423.8 633.6,422.0 633.8,421.4 634.0,420.5 634.1,419.0 634.4,418.2 634.6,417.4 634.9,416.6 635.1,415.9 635.3,413.9 635.6,413.8 635.8,411.9 636.0,411.1 636.3,410.0 636.5,409.6 636.8,408.5 637.0,406.9 637.2,406.4 637.5,405.6 637.8,404.1 638.1,403.7 638.4,402.9 638.7,402.0 638.9,400.9 639.2,399.7 639.5,398.7 639.8,397.7 640.1,397.3 640.4,395.8 640.7,395.5 640.9,394.2 641.2,392.9 641.4,392.5 641.7,391.5 641.9,390.1 642.1,390.0 642.4,388.4 642.6,387.8 642.8,386.9 643.1,385.8 643.3,385.2 643.5,384.0 643.7,382.9 643.9,381.6 644.1,381.5 644.3,380.4 644.5,379.3 644.7,378.3 644.9,377.5 645.1,376.0 645.3,375.8 645.5,374.5 645.6,373.2 645.8,372.0 646.0,371.1 646.2,371.1 646.4,370.3 646.5,368.4 646.7,367.9 646.9,367.0 647.1,366.1 647.3,365.2 647.4,364.5 647.6,362.8 647.8,362.4 648.0,361.1 648.2,360.1 648.4,359.2 648.5,358.0 648.7,357.5 648.9,356.3 649.1,355.2 649.3,353.9 649.5,352.6 649.7,352.0 649.9,351.0 650.2,350.2 650.5,348.8 650.9,349.5 651.3,348.6 651.7,347.0 652.1,346.0 652.5,345.7 652.8,344.8 653.0,345.0 653.2,343.7 653.4,342.8 653.6,341.6 653.8,340.1 654.0,340.1 654.1,339.0 654.3,337.1 654.5,336.6 654.6,335.7 654.8,334.4 655.0,333.5 655.2,332.4 655.4,331.7 655.6,330.6 655.8,330.1 656.0,329.8 656.2,328.3 656.4,328.1 656.6,326.4 656.8,325.3 657.0,324.4 657.2,322.7 657.5,323.1 657.7,321.6 657.9,320.4 658.2,319.5 658.4,319.1 658.6,317.2 658.9,316.6 659.1,315.6 659.4,315.2 659.8,314.2 660.1,313.0 660.5,311.1 660.9,311.0 661.3,309.4 661.7,309.5 662.1,308.2 662.5,306.5 662.9,307.0 663.3,305.6 663.7,305.7 664.1,303.9 664.6,302.6 665.0,301.2 665.4,301.2 665.9,299.8 666.3,299.1 666.8,298.0 667.3,298.1 667.9,297.1 668.6,296.6 669.3,296.4 669.9,295.7 670.6,294.7 671.2,293.9 671.6,293.3 672.0,291.7 672.3,291.5 672.6,289.5 673.0,289.3 673.3,289.5 673.6,288.2 673.9,286.9 674.2,285.4 674.5,285.4 674.8,284.1 675.2,283.2 675.6,283.3 676.1,280.8 676.5,280.0 677.0,279.1 677.4,276.0 677.9,275.8 678.4,275.8 679.0,276.8 679.7,276.6 680.5,279.7 681.4,276.2 682.2,272.7 683.0,283.9 683.8,274.7 684.7,275.7 685.5,273.4 686.3,281.1 687.0,284.3 687.4,277.8 687.7,279.4 688.0,287.5 688.3,280.0 688.5,288.8 688.7,284.6 688.9,286.3 689.0,283.6 689.2,291.6 689.3,292.0 689.5,290.7 689.6,293.3 689.7,286.8 689.8,286.8 689.8,292.0 689.9,294.2 690.0,293.8 690.0,295.6 690.1,297.2 690.1,297.1 690.2,297.9 690.2,298.9 690.2,299.8 690.2,302.3 690.3,302.1 690.3,303.7 690.3,305.0 690.3,305.8 690.3,306.4 690.4,307.8 690.4,308.6 690.4,309.6 690.4,311.2 690.4,311.5 690.4,313.2 690.4,313.8 690.5,315.1 690.5,316.0 690.5,317.4 690.5,317.6 690.6,319.6 690.6,319.8"/>
<path stroke="#ffa64d" d="M413.0,198.0 413.5,199.2 414.1,199.4 414.7,200.6 415.2,201.6 415.8,201.8 416.4,202.5 416.9,203.8 417.5,203.6 418.0,205.3 418.5,205.6 419.0,206.1 419.5,207.5 420.0,208.1 420.4,209.2 420.8,209.4 421.2,210.6 421.6,211.8 422.0,212.2 422.3,213.1 422.6,214.5 423.0,214.7 423.3,216.3 423.6,216.7 424.0,218.1 424.3,218.5 424.6,219.5 425.0,221.0 425.4,221.5 425.7,222.9 426.1,223.5 426.4,224.3 426.8,224.9 427.1,226.6 427.5,227.5 427.9,228.2 428.2,229.4 428.6,230.1 429.1,230.6 429.5,231.8 430.0,231.9 430.7,233.4 431.4,233.3 432.1,234.0 432.9,235.4 433.7,235.6 434.5,237.0 435.3,237.4 436.0,236.9 436.7,236.4 437.4,237.1 438.2,235.9 438.9,235.4 439.6,234.5 440.3,233.8 441.0,233.2 441.8,232.6 442.7,232.4 443.5,231.3 444.3,231.1 445.2,230.7 446.0,230.7 446.7,230.0 447.4,231.3 448.0,231.7 448.7,231.7 449.4,232.2 450.1,233.9 450.8,234.3 451.4,235.0 452.0,236.5 452.4,236.5 452.8,237.8 453.2,238.7 453.6,239.2 453.9,239.3 454.3,241.1 454.6,241.3 455.0,242.2 455.3,243.6 455.6,244.4 455.9,245.6 456.3,246.9 456.6,247.8 456.9,248.2 457.3,249.3 457.6,250.4 458.0,251.0 458.4,252.3 458.7,252.6 459.1,253.9 459.4,254.0 459.8,255.9 460.1,256.1 460.5,257.2 460.8,258.3 461.2,258.7 461.6,259.4 461.9,260.4 462.3,262.1 462.7,262.8 463.1,264.0 463.4,264.9 463.8,265.3 464.2,265.9 464.6,266.9 465.0,268.1 465.5,268.3 466.0,269.2 466.5,270.4 467.0,271.1 467.5,272.0 468.0,272.8 468.5,273.7 469.0,273.8 469.5,275.2 470.0,276.3 470.5,277.1 471.0,277.5 471.5,277.9 472.0,279.5 472.5,279.5 473.0,280.5 473.5,281.2 474.1,282.9 474.6,283.5 475.1,284.2 475.6,284.3 476.1,285.4 476.6,286.3 477.0,287.7 477.5,287.5 478.0,289.2 478.4,289.5 478.8,290.5 479.3,291.9 479.7,291.9 480.1,293.4 480.5,293.6 480.9,294.4 481.3,295.7 481.7,297.0 482.1,297.3 482.5,297.9 482.9,299.6 483.2,299.9 483.6,301.4 484.0,302.4 484.3,303.2 484.7,303.5 485.0,304.4 485.3,305.6 485.6,307.0 485.9,307.2 486.3,307.9 486.6,308.7 486.9,310.7 487.2,311.6 487.5,312.6 487.8,313.3 488.1,314.1 488.4,315.5 488.7,315.5 489.0,316.3 489.4,317.7 489.7,318.6 490.0,319.5 490.3,320.1 490.7,321.7 491.1,322.4 491.4,322.9 491.8,324.3 492.1,324.6 492.5,326.2 492.9,326.6 493.2,327.2 493.6,328.4 494.0,329.8 494.3,330.5 494.7,330.6 495.0,332.0 495.3,333.5 495.7,333.9 496.0,334.2 496.3,335.7 496.6,336.9 496.9,337.8 497.1,338.7 497.4,339.9 497.7,340.0 497.9,341.5 498.2,342.7 498.5,343.5 498.7,344.8 499.0,345.2 499.2,345.9 499.5,347.5 499.7,348.1 500.0,348.8 500.2,349.7 500.5,351.2 500.7,352.1 501.0,352.2 501.3,353.6 501.6,354.6 501.9,355.5 502.3,356.8 502.6,356.9 502.9,357.8 503.2,358.7 503.5,360.6 503.8,361.5 504.1,361.4 504.4,362.3 504.7,363.6 505.0,363.8 505.4,365.1 505.7,365.9 506.0,366.6 506.4,367.2 506.7,368.8 507.1,369.0 507.5,369.8 508.1,369.5 508.8,370.2 509.5,371.1 510.1,369.7 510.7,369.0 511.3,367.2 511.8,367.3 512.2,367.9 512.5,368.1 512.9,370.1 513.2,370.7 513.5,372.2 513.7,373.1 513.9,373.6 514.1,374.6 514.3,375.8 514.5,375.8 514.7,376.7 514.9,378.4 515.1,379.8 515.4,380.4 515.6,381.7 515.8,382.9 516.0,382.8 516.3,384.1 516.5,384.8 516.8,386.3 517.0,386.7 517.3,387.9 517.6,389.1 517.8,390.1 518.1,390.9 518.4,391.5 518.7,393.1 519.0,394.2 519.2,394.6 519.5,395.6 519.8,396.3 520.1,397.6 520.3,397.6 520.6,398.7 520.9,400.2 521.2,401.2 521.5,401.6 521.7,403.3 522.0,403.4 522.3,404.0 522.6,404.8 522.9,406.4 523.3,406.3 523.7,407.4 524.2,408.5 524.8,409.4 525.4,409.7 526.1,410.4 526.7,411.7 527.4,412.1 528.0,412.1 528.8,412.8 529.6,413.0 530.3,413.5 531.1,412.9 531.9,413.3 532.8,412.6 533.6,412.2 534.3,412.1 534.8,410.7 535.2,410.0 535.6,409.0 535.9,407.2 536.2,406.0 536.5,406.2 536.9,405.8 537.3,405.5 537.6,406.8 538.0,407.3 538.4,409.0 538.8,409.6 539.2,410.8 539.6,411.5 540.0,412.6 540.4,413.7 540.8,414.6 541.2,414.9 541.7,415.2 542.2,415.9 542.7,416.7 543.3,418.1 544.1,419.1 544.8,420.0 545.6,419.7 546.3,420.3 547.0,420.7 547.8,420.3 548.6,420.2 549.4,419.3 550.1,418.2 550.7,418.3 551.2,417.6 551.7,416.8 552.3,415.4 552.8,415.8 553.4,415.9 554.0,416.2 554.7,417.8 555.4,417.9 556.1,417.8 557.0,417.9 557.8,417.8 558.6,418.1 559.3,417.7 560.0,416.9 560.7,415.7 561.4,415.7 562.1,414.0 562.8,414.0 563.6,413.9 564.5,412.7 565.3,412.0 566.2,411.9 567.0,411.0 567.8,410.5 568.7,410.7 569.6,409.5 570.4,408.8 571.2,408.8 571.9,407.5 572.5,407.1 573.1,406.2 573.7,405.6 574.3,405.4 574.9,404.6 575.5,403.6 576.0,402.1 576.6,401.5 577.1,401.4 577.6,400.5 578.1,399.9 578.7,398.7 579.2,397.4 579.7,397.0 580.2,395.7 580.8,395.2 581.3,394.7 581.9,393.6 582.4,392.8 582.9,392.4 583.5,391.3 584.0,390.3 584.5,390.5 585.0,389.5 585.5,388.7 586.1,387.4 586.6,387.0 587.1,385.5 587.6,385.1 588.1,384.0 588.6,383.2 589.2,383.0 589.7,382.0 590.2,381.1 590.8,380.8 591.3,379.8 591.9,378.6 592.4,378.3 592.9,377.1 593.4,376.3 594.0,375.4 594.5,375.4 595.0,374.3 595.5,373.2 596.0,372.1 596.6,371.2 597.1,371.3 597.7,369.9 598.2,370.0 598.8,368.6 599.4,368.1 599.9,367.9 600.5,366.7 601.1,366.2 601.6,364.9 602.1,364.1 602.6,364.2 603.1,362.8 603.6,362.1 604.0,361.2 604.5,360.2 605.0,359.9 605.5,358.1 605.9,358.1 606.4,356.7 606.9,355.3 607.4,354.5 607.9,353.8 608.4,353.5 608.9,352.3 609.4,351.6 609.8,350.3 610.3,350.2 610.8,349.1 611.3,348.3 611.8,347.7 612.2,346.4 612.7,345.9 613.2,344.5 613.7,344.1 614.1,343.1 614.6,341.8 615.0,341.9 615.5,340.9 615.9,339.8 616.2,339.9 616.6,337.8 616.9,338.2 617.2,335.9 617.5,335.4 617.8,335.1 618.1,334.3 618.4,333.2 618.7,332.3 619.1,332.4 619.4,329.6 619.8,329.3 620.2,329.4 620.6,328.4 621.1,325.5 621.5,325.5 621.9,325.9 622.4,324.9 622.9,323.4 623.4,322.0 623.9,321.8 624.4,320.5 625.0,320.6 625.8,319.5 626.7,319.6 627.6,319.2 628.5,319.1 629.4,318.1 630.3,317.7 630.9,316.0 631.5,316.6 632.0,315.5 632.6,314.9 633.2,314.2 633.7,313.0 634.3,312.9 634.8,311.5 635.4,311.6 635.9,310.3 636.5,309.1 637.0,308.7 637.5,307.9 638.0,306.1 638.5,305.8 639.0,305.4 639.5,303.4 640.0,302.8 640.4,301.7 640.9,302.0 641.4,301.0 641.8,300.6 642.3,299.6 642.7,297.6 643.1,296.9 643.5,295.6 643.9,295.0 644.3,294.0 644.6,293.8 644.9,293.8 645.2,291.6 645.5,291.5 645.8,290.9 646.1,288.7 646.5,288.5 646.8,287.4 647.1,286.8 647.5,286.5 647.9,285.6 648.3,284.4 648.7,283.3 649.2,282.7 649.6,281.2 650.0,280.5 650.5,279.3 650.9,279.1 651.4,277.4 651.9,277.5 652.3,275.7 652.8,276.2 653.2,273.9 653.6,274.7 654.1,274.0 654.5,272.6 655.0,271.7 655.4,270.0 655.9,268.7 656.3,267.9 656.8,267.3 657.2,266.0 657.7,265.5 658.1,264.6 658.5,263.7 659.0,263.6 659.4,262.0 659.9,261.1 660.4,261.3 660.8,259.4 661.3,258.4 661.7,257.6 662.2,258.1 662.7,256.5 663.1,256.1 663.6,253.8 664.1,253.4 664.6,251.8 665.2,253.0 665.8,251.3 666.4,250.4 667.0,249.5 667.7,249.6 668.3,248.3 668.9,248.3 669.5,247.1 670.0,247.0 670.5,245.7 671.1,244.8 671.5,243.4 672.0,243.7 672.5,242.6 672.9,241.5 673.4,240.5 673.9,239.3 674.4,239.5 674.8,238.3 675.3,236.5 675.8,237.5 676.2,235.8 676.7,234.5 677.3,234.9 677.8,233.7 678.6,233.4 679.3,232.7 680.2,233.1 681.0,231.3 681.8,231.2 682.6,231.6 683.4,232.1 684.2,232.7 685.0,234.2 685.8,234.0 686.5,234.5 687.3,234.9 688.1,236.6 688.7,235.7 689.3,237.1 689.6,238.5 689.8,238.2 690.0,239.9 690.1,238.9 690.2,239.9 690.3,242.5 690.3,241.8 690.4,242.4 690.4,244.4 690.4,246.3 690.4,247.4 690.4,248.3 690.4,249.1 690.5,250.1 690.5,250.7 690.5,251.8 690.6,253.9"/>
<path stroke="#d4875a" d="M413.0,200.5 413.5,200.5 414.0,202.2 414.4,202.7 414.9,203.9 415.4,203.9 415.9,204.6 416.4,205.5 416.9,207.3 417.4,207.7 417.8,208.7 418.3,208.9 418.8,209.7 419.2,211.0 419.6,211.5 420.0,212.9 420.3,213.5 420.7,214.7 421.0,215.6 421.3,216.7 421.5,217.4 421.8,218.9 422.1,219.2 422.3,220.5 422.6,221.2 422.8,221.8 423.1,223.8 423.3,223.8 423.5,225.5 423.8,226.1 424.0,226.5 424.3,228.0 424.5,228.6 424.7,229.7 425.0,231.1 425.2,232.1 425.5,233.1 425.7,234.4 425.9,235.0 426.1,235.4 426.3,237.2 426.5,238.1 426.7,239.4 426.9,239.6 427.1,241.0 427.4,242.4 427.6,242.9 427.8,243.5 428.0,245.6 428.3,245.7 428.5,247.3 428.8,247.7 429.1,249.0 429.4,248.9 429.7,250.1 430.0,251.1 430.5,251.6 431.0,252.9 431.5,254.4 432.0,254.9 432.6,255.9 433.2,256.3 433.7,257.8 434.3,257.6 434.9,259.0 435.4,258.3 436.0,259.4 436.6,259.0 437.2,259.0 437.9,258.5 438.5,257.4 439.1,256.9 439.7,255.9 440.4,254.3 441.0,254.3 441.7,253.7 442.4,252.8 443.1,251.2 443.9,250.8 444.6,250.2 445.3,250.1 446.0,249.9 446.6,250.0 447.2,251.1 447.9,251.7 448.5,252.3 449.1,252.3 449.7,254.0 450.3,253.9 450.9,255.1 451.5,256.5 452.0,257.5 452.4,257.6 452.7,259.2 453.1,259.5 453.4,260.8 453.7,261.1 454.0,262.4 454.3,263.5 454.6,264.8 454.9,265.3 455.1,265.9 455.4,266.9 455.7,267.8 456.0,269.8 456.2,270.0 456.5,271.5 456.8,272.2 457.1,273.5 457.4,274.1 457.7,275.1 458.0,276.6 458.3,276.8 458.6,278.1 458.9,278.8 459.2,280.5 459.5,280.6 459.8,282.2 460.1,282.9 460.4,284.1 460.8,284.4 461.1,285.5 461.4,286.4 461.7,288.3 462.0,289.1 462.3,290.1 462.7,290.9 463.0,291.0 463.3,292.2 463.7,293.7 464.0,293.7 464.3,294.6 464.7,295.6 465.0,296.6 465.4,297.9 465.8,299.3 466.2,299.7 466.6,300.3 467.0,301.7 467.4,302.8 467.9,302.9 468.3,303.6 468.7,305.2 469.1,305.4 469.5,307.3 470.0,307.9 470.4,309.1 470.8,309.1 471.2,309.9 471.6,311.1 472.0,311.6 472.4,312.9 472.8,313.9 473.2,314.3 473.6,315.8 474.1,316.2 474.5,316.8 474.9,317.4 475.3,318.8 475.7,319.5 476.1,319.9 476.5,321.7 476.9,322.5 477.2,323.4 477.6,324.2 478.0,324.3 478.3,325.8 478.7,326.3 479.0,327.6 479.3,327.8 479.7,329.1 480.0,329.8 480.3,331.1 480.6,332.3 481.0,332.4 481.3,334.2 481.6,335.1 481.9,335.9 482.2,336.3 482.5,337.5 482.8,338.6 483.1,339.6 483.4,340.7 483.7,341.8 484.0,342.6 484.3,343.1 484.6,344.8 484.8,344.6 485.1,346.0 485.4,347.5 485.7,348.2 485.9,349.5 486.2,350.2 486.5,350.6 486.7,351.9 487.0,352.5 487.3,353.7 487.5,354.2 487.8,355.8 488.0,357.0 488.3,357.1 488.5,358.5 488.8,359.4 489.0,360.4 489.3,361.2 489.5,362.1 489.8,363.4 490.0,363.9 490.3,365.2 490.5,366.1 490.8,366.3 491.0,367.8 491.3,368.2 491.5,370.0 491.8,370.6 492.0,371.5 492.3,372.7 492.5,373.8 492.8,374.2 493.0,375.6 493.3,376.4 493.5,376.8 493.8,378.7 494.0,379.8 494.3,380.5 494.5,381.1 494.8,382.6 495.0,383.1 495.3,384.1 495.6,385.3 495.8,386.1 496.0,386.6 496.3,388.2 496.5,389.0 496.8,389.4 497.0,390.3 497.2,392.2 497.5,393.1 497.7,393.2 497.9,394.4 498.1,394.9 498.4,396.3 498.6,397.9 498.8,398.4 499.0,399.4 499.2,400.3 499.5,400.8 499.7,401.7 500.0,403.0 500.3,404.2 500.6,405.4 500.9,405.4 501.2,407.3 501.5,407.4 501.9,409.3 502.2,410.1 502.5,410.3 502.9,412.1 503.2,412.1 503.5,413.3 503.7,414.5 504.0,414.8 504.3,415.6 504.6,417.3 504.8,417.1 505.1,418.7 505.3,419.2 505.6,420.4 505.9,420.4 506.1,421.6 506.4,422.7 506.7,423.4 506.9,425.3 507.3,425.5 507.6,426.2 508.0,427.9 508.5,427.6 509.0,428.8 509.6,429.4 510.3,429.5 511.2,429.6 512.0,429.5 512.8,429.5 513.5,430.1 513.9,431.3 514.2,431.5 514.4,433.3 514.5,434.5 514.6,435.5 514.7,435.7 514.9,436.8 515.0,438.3 515.2,438.9 515.3,439.7 515.4,440.5 515.6,441.6 515.7,442.8 515.8,444.0 515.9,444.3 516.1,445.6 516.2,446.6 516.4,447.0 516.5,448.5 516.6,449.7 516.8,450.5 517.0,451.1 517.1,452.2 517.3,453.6 517.5,454.3 517.6,455.3 517.8,455.8 518.0,456.5 518.2,457.7 518.3,458.9 518.5,459.6 518.7,460.7 518.9,462.2 519.1,462.6 519.3,464.3 519.5,464.8 519.7,466.2 519.9,467.2 520.1,467.2 520.3,469.3 520.5,470.0 520.8,470.7 521.0,471.2 521.2,473.1 521.4,473.6 521.7,474.4 521.9,475.2 522.1,476.4 522.3,477.1 522.6,478.3 522.8,479.9 523.0,479.9 523.3,481.0 523.5,482.7 523.7,483.0 524.0,484.6 524.2,484.9 524.5,486.0 524.7,487.1 524.9,487.7 525.2,488.8 525.5,490.0 525.7,490.2 526.0,490.8 526.3,492.4 526.7,493.3 527.0,494.2 527.4,494.7 527.7,495.7 528.1,496.8 528.5,498.4 528.9,497.9 529.4,499.1 530.0,499.4 530.7,500.5 531.4,501.0 532.1,501.9 532.7,501.5 533.2,501.1 533.7,500.3 534.2,500.3 534.7,499.2 535.1,497.9 535.5,497.1 535.9,496.0 536.4,495.3 536.8,493.1 537.1,492.4 537.5,492.9 537.8,493.4 538.1,494.0 538.4,494.8 538.7,496.2 539.0,497.1 539.2,498.0 539.4,498.6 539.6,499.2 539.8,500.1 540.0,501.2 540.3,502.0 540.5,503.6 540.8,504.0 541.1,504.9 541.3,506.6 541.6,507.8 542.0,508.8 542.3,509.7 542.7,510.6 543.2,510.5 543.9,512.1 544.7,512.3 545.6,512.9 546.4,514.2 547.2,514.3 547.8,513.6 548.4,512.9 548.9,511.7 549.5,511.3 550.0,510.4 550.6,509.3 551.2,508.0 551.8,508.0 552.5,506.7 553.2,507.4 554.0,507.5 554.9,508.4 555.8,508.4 556.5,508.5 557.3,508.7 558.1,508.4 558.9,507.0 559.8,506.5 560.6,505.8 561.5,505.4 562.3,503.8 563.0,503.4 563.7,503.8 564.4,502.3 565.1,501.6 565.8,502.1 566.5,501.3 567.2,500.6 568.0,500.2 568.6,498.7 569.3,498.0 570.0,498.2 570.6,497.3 571.1,496.0 571.7,495.2 572.3,495.5 572.8,494.3 573.4,493.9 573.9,492.1 574.4,491.7 575.0,490.8 575.5,489.8 576.0,489.0 576.5,487.9 577.0,487.8 577.5,487.1 578.0,485.5 578.5,485.3 579.0,484.5 579.5,483.8 579.9,483.3 580.4,482.1 580.9,481.2 581.3,480.1 581.8,479.6 582.2,478.9 582.7,477.6 583.1,477.5 583.5,475.8 584.0,475.8 584.5,475.1 584.9,473.5 585.4,472.9 585.9,472.4 586.4,471.5 586.8,470.0 587.3,469.8 587.7,468.9 588.2,467.9 588.7,467.0 589.1,465.4 589.6,464.8 590.0,463.8 590.4,463.5 590.9,462.2 591.3,461.6 591.7,460.8 592.1,459.3 592.5,459.0 592.9,458.7 593.3,457.6 593.7,456.5 594.1,455.8 594.6,454.5 595.0,454.4 595.4,453.1 595.8,452.1 596.2,451.0 596.6,451.1 597.1,449.2 597.5,448.6 597.9,448.0 598.3,446.4 598.8,446.3 599.2,444.8 599.6,443.9 600.0,443.3 600.4,442.9 600.8,442.1 601.2,440.6 601.6,439.7 602.0,439.2 602.5,438.7 602.9,437.3 603.3,435.9 603.7,435.0 604.0,434.5 604.4,433.6 604.8,432.7 605.2,432.4 605.6,431.9 606.0,429.9 606.4,429.5 606.8,429.3 607.1,427.8 607.5,427.7 607.9,426.2 608.3,425.6 608.7,424.5 609.1,423.4 609.5,422.8 609.9,422.3 610.3,421.3 610.6,420.5 611.0,419.7 611.3,418.6 611.6,417.8 611.9,416.1 612.2,415.4 612.5,414.7 612.8,414.1 613.0,413.2 613.3,412.1 613.6,410.7 613.9,410.0 614.2,408.8 614.4,407.9 614.7,407.2 615.0,406.3 615.3,404.6 615.5,403.9 615.8,402.7 616.1,401.9 616.4,401.5 616.7,399.7 617.0,399.9 617.3,397.7 617.6,397.3 617.9,397.0 618.2,395.3 618.6,394.7 618.9,393.9 619.2,393.1 619.5,391.7 619.8,390.6 620.1,389.5 620.4,388.8 620.7,387.5 621.1,386.7 621.4,386.5 621.7,385.5 622.0,385.0 622.4,383.6 622.7,382.2 623.0,381.9 623.3,381.1 623.7,379.8 624.0,378.5 624.3,378.5 624.7,377.6 625.1,376.7 625.5,375.8 625.9,374.9 626.4,374.1 627.1,373.4 628.0,372.7 628.9,372.1 629.8,372.8 630.6,372.1 631.5,370.9 632.2,370.3 632.7,370.4 633.2,368.9 633.6,367.8 634.0,368.1 634.4,366.5 634.7,365.8 635.1,364.5 635.4,363.7 635.8,362.3 636.1,362.0 636.5,360.8 636.9,359.7 637.2,358.8 637.6,358.5 637.9,357.1 638.3,356.5 638.6,355.6 639.0,355.0 639.3,354.0 639.7,353.1 640.0,351.8 640.4,351.4 640.7,351.0 641.1,348.7 641.5,349.5 641.9,349.3 642.4,347.6 642.7,347.3 643.1,345.1 643.5,345.2 643.8,344.7 644.1,343.8 644.4,342.4 644.6,341.8 644.9,340.2 645.1,339.9 645.4,338.7 645.6,337.8 645.9,336.5 646.2,336.7 646.5,334.8 646.7,334.7 647.0,333.1 647.3,333.1 647.6,332.6 647.9,331.4 648.2,330.6 648.5,328.4 648.8,328.1 649.1,326.4 649.4,325.7 649.7,324.8 650.0,324.7 650.3,322.9 650.6,322.9 650.9,320.5 651.2,320.6 651.5,319.0 651.8,319.0 652.1,318.1 652.4,317.6 652.7,314.9 653.1,314.6 653.4,313.4 653.7,313.4 654.0,311.9 654.3,310.8 654.7,311.0 655.0,309.5 655.3,309.4 655.7,309.1 656.0,307.7 656.3,306.1 656.7,305.1 657.0,305.2 657.4,303.3 657.7,303.0 658.0,301.8 658.3,300.5 658.6,300.4 658.9,299.0 659.2,298.0 659.5,297.9 659.7,296.5 660.0,295.9 660.3,295.3 660.6,294.3 660.9,291.9 661.1,292.3 661.4,290.4 661.7,289.8 662.0,288.0 662.3,287.1 662.6,286.6 662.9,285.6 663.1,285.3 663.4,284.2 663.7,283.0 664.0,282.3 664.3,281.3 664.6,279.9 664.9,279.3 665.2,277.4 665.6,277.6 666.0,276.5 666.5,276.7 667.1,274.2 667.7,274.2 668.3,273.7 668.9,273.6 669.5,272.1 670.1,270.5 670.7,271.3 671.2,269.8 671.6,269.8 672.0,268.3 672.4,267.1 672.7,266.6 673.0,265.6 673.4,263.6 673.7,264.4 674.0,263.7 674.3,261.1 674.6,260.5 674.9,261.3 675.2,259.9 675.6,258.4 676.0,257.3 676.4,257.4 676.8,255.8 677.3,254.7 677.8,254.4 678.6,253.1 679.4,252.2 680.3,252.4 681.0,251.1 681.3,253.1 681.6,252.9 681.8,253.5 681.9,255.4 682.0,256.5 682.1,258.4 682.2,259.6 682.3,261.3 682.4,261.5 682.6,262.2 682.8,261.8 683.1,261.6 683.4,260.6 683.7,260.8 684.0,259.0 684.4,258.0 684.7,257.1 685.1,255.1 685.5,255.1 685.8,253.7 686.2,254.1 686.7,255.1 687.2,256.0 687.6,257.5 688.0,258.5 688.4,259.5 688.6,261.0 688.8,261.1 689.0,262.6 689.2,263.4 689.3,264.0 689.5,265.2 689.6,265.0 689.8,266.4 689.9,268.8 690.0,268.8 690.2,270.4 690.3,271.1 690.4,272.6 690.6,272.9"/>
</g>
<rect x="411.5" y="188.3" width="280.1" height="605.9" fill="none" stroke="#000" stroke-width="2.3"/>
<line x1="1013.6" y1="162.0" x2="1013.6" y2="550.0" stroke="#000" stroke-width="2.8" stroke-dasharray="14.4 14.32"/>
<line x1="1080.4" y1="369.0" x2="1080.4" y2="727.5" stroke="#000" stroke-width="2.8" stroke-dasharray="14.4 14.32"/>
<line x1="1093.1" y1="377.0" x2="1093.1" y2="760.0" stroke="#000" stroke-width="2.8" stroke-dasharray="14.4 14.32"/>
<line x1="1171.3" y1="189.6" x2="1171.3" y2="684.2" stroke="#000" stroke-width="2.8" stroke-dasharray="14.4 14.32"/>
<line x1="1190.7" y1="328.6" x2="1190.7" y2="685.6" stroke="#000" stroke-width="2.8" stroke-dasharray="14.4 14.32"/>
<line x1="712" y1="469" x2="1043.5" y2="469" stroke="#000" stroke-width="1.8"/>
<path d="M704.4,469 L714.8,464 L714.8,474 Z" fill="#000"/>
<path stroke="#000" stroke-width="3.6" fill="none" stroke-linecap="butt" d="M119.9,17.7 H1266.6 M139.9,15.9 V832.7 M1264.8,15.9 V814.5 M119.9,812.7 H1266.6"/>
<path stroke="#000" stroke-width="3.6" fill="none" stroke-linecap="butt" d="M129.9,61.9 H139.9 M119.9,106.0 H139.9 M129.9,150.2 H139.9 M119.9,194.4 H139.9 M129.9,238.5 H139.9 M119.9,282.7 H139.9 M129.9,326.9 H139.9 M119.9,371.0 H139.9 M129.9,415.2 H139.9 M119.9,459.4 H139.9 M129.9,503.5 H139.9 M119.9,547.7 H139.9 M129.9,591.9 H139.9 M119.9,636.0 H139.9 M129.9,680.2 H139.9 M119.9,724.4 H139.9 M129.9,768.5 H139.9 M218.6,812.7 V822.7 M297.2,812.7 V832.7 M375.9,812.7 V822.7 M454.5,812.7 V832.7 M533.1,812.7 V822.7 M611.8,812.7 V832.7 M690.5,812.7 V822.7 M769.1,812.7 V832.7 M847.8,812.7 V822.7 M926.4,812.7 V832.7 M1005.0,812.7 V822.7 M1083.7,812.7 V832.7 M1162.4,812.7 V822.7"/>
<g font-size="38.8">
<text x="104.5" y="31.0" text-anchor="end">110</text>
<text x="104.5" y="119.3" text-anchor="end">100</text>
<text x="104.5" y="207.7" text-anchor="end">90</text>
<text x="104.5" y="296.0" text-anchor="end">80</text>
<text x="104.5" y="384.3" text-anchor="end">70</text>
<text x="104.5" y="472.7" text-anchor="end">60</text>
<text x="104.5" y="561.0" text-anchor="end">50</text>
<text x="104.5" y="649.3" text-anchor="end">40</text>
<text x="104.5" y="737.7" text-anchor="end">30</text>
<text x="104.5" y="826.0" text-anchor="end">20</text>
<text x="139.4" y="877.1" text-anchor="middle">4000</text>
<text x="296.7" y="877.1" text-anchor="middle">3500</text>
<text x="454.0" y="877.1" text-anchor="middle">3000</text>
<text x="611.3" y="877.1" text-anchor="middle">2500</text>
<text x="768.6" y="877.1" text-anchor="middle">2000</text>
<text x="925.9" y="877.1" text-anchor="middle">1500</text>
<text x="1083.2" y="877.1" text-anchor="middle">1000</text>
</g>
<text font-size="38" x="510.5" y="938.3" textLength="329" lengthAdjust="spacingAndGlyphs">Wavenumber(cm<tspan font-size="25.5" dy="-16">-1</tspan><tspan dy="16">)</tspan></text>
<text font-size="38" transform="translate(27.8,566) rotate(-90)" textLength="305" lengthAdjust="spacingAndGlyphs">Transmittance(%)</text>
<g stroke-width="5" stroke-linecap="round">
<line x1="147" y1="652.6" x2="209.5" y2="652.6" stroke="#ee5a5e"/>
<line x1="147" y1="687.5" x2="209.5" y2="687.5" stroke="#6ea8dc"/>
<line x1="147" y1="721.0" x2="209.5" y2="721.0" stroke="#ba80cc"/>
<line x1="147" y1="755.4" x2="209.5" y2="755.4" stroke="#ffa64d"/>
<line x1="147" y1="790.3" x2="209.5" y2="790.3" stroke="#d4875a"/>
</g>
<g font-size="28.3">
<text x="216.2" y="661.6">LATP Pristine</text>
<text x="216.2" y="696.5">LATP-0.01</text>
<text x="216.2" y="730.0">LATP-0.04</text>
<text x="216.2" y="764.4">LATP-0.06</text>
<text x="216.2" y="799.3">LATP-0.08</text>
</g>
<g font-size="35" font-weight="bold">
<text x="967.5" y="584.9">1223</text>
<text x="986" y="736.5">1014</text>
<text x="1068" y="795">972</text>
<text x="1123" y="721.5">721-660</text>
</g>
</svg></body></html>
